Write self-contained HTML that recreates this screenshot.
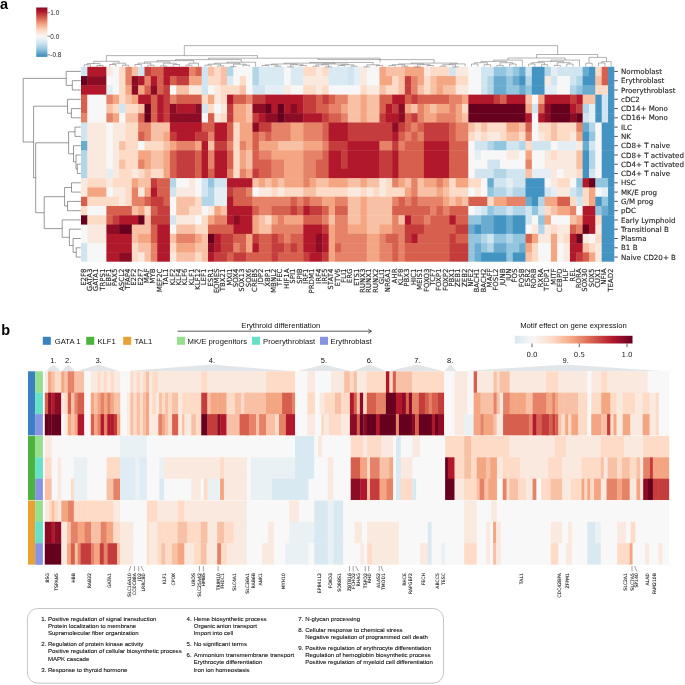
<!DOCTYPE html>
<html><head><meta charset="utf-8"><title>Figure</title>
<style>html,body{margin:0;padding:0;background:#fff}svg{display:block}</style></head>
<body>
<svg width="685" height="685" viewBox="0 0 685 685">
<rect width="685" height="685" fill="#fff"/>
<defs><linearGradient id="ga" x1="0" y1="0" x2="0" y2="1"><stop offset="0.000" stop-color="#810823"/><stop offset="0.042" stop-color="#9a1027"/><stop offset="0.083" stop-color="#b2182b"/><stop offset="0.125" stop-color="#be3036"/><stop offset="0.167" stop-color="#ca4741"/><stop offset="0.208" stop-color="#d55f4d"/><stop offset="0.250" stop-color="#df765e"/><stop offset="0.292" stop-color="#e98c6f"/><stop offset="0.333" stop-color="#f3a380"/><stop offset="0.375" stop-color="#f7b596"/><stop offset="0.417" stop-color="#fac7ad"/><stop offset="0.458" stop-color="#fdd8c3"/><stop offset="0.500" stop-color="#fbe3d4"/><stop offset="0.542" stop-color="#f9ece4"/><stop offset="0.583" stop-color="#f7f5f4"/><stop offset="0.625" stop-color="#edf2f5"/><stop offset="0.667" stop-color="#e1ecf3"/><stop offset="0.708" stop-color="#d4e7f1"/><stop offset="0.750" stop-color="#c2ddec"/><stop offset="0.792" stop-color="#add3e6"/><stop offset="0.833" stop-color="#99c8e0"/><stop offset="0.875" stop-color="#81bad8"/><stop offset="0.917" stop-color="#67aacf"/><stop offset="0.958" stop-color="#4d99c6"/><stop offset="1.000" stop-color="#3c8abe"/></linearGradient><linearGradient id="gb" x1="0" y1="0" x2="1" y2="0"><stop offset="0.000" stop-color="#d7e8f1"/><stop offset="0.042" stop-color="#e0ecf3"/><stop offset="0.083" stop-color="#e9f0f4"/><stop offset="0.125" stop-color="#f2f5f6"/><stop offset="0.167" stop-color="#f8f4f1"/><stop offset="0.208" stop-color="#f9ede5"/><stop offset="0.250" stop-color="#fbe6da"/><stop offset="0.292" stop-color="#fcdfce"/><stop offset="0.333" stop-color="#fcd6c0"/><stop offset="0.375" stop-color="#fac8af"/><stop offset="0.417" stop-color="#f8bb9e"/><stop offset="0.458" stop-color="#f6ae8e"/><stop offset="0.500" stop-color="#f2a07e"/><stop offset="0.542" stop-color="#ea8f71"/><stop offset="0.583" stop-color="#e37e64"/><stop offset="0.625" stop-color="#dc6d57"/><stop offset="0.667" stop-color="#d45c4b"/><stop offset="0.708" stop-color="#cb4b43"/><stop offset="0.750" stop-color="#c3393b"/><stop offset="0.792" stop-color="#ba2832"/><stop offset="0.833" stop-color="#b0172b"/><stop offset="0.875" stop-color="#9e1228"/><stop offset="0.917" stop-color="#8c0c25"/><stop offset="0.958" stop-color="#790622"/><stop offset="1.000" stop-color="#67001f"/></linearGradient></defs>
<text x="0.1" y="8.7" font-family="Liberation Sans, Arial, Helvetica, sans-serif" font-weight="bold" font-size="14.5" fill="#000">a</text>
<rect x="36.2" y="7.5" width="11.2" height="49.4" fill="url(#ga)"/>
<line x1="47.4" y1="12.7" x2="50" y2="12.7" stroke="#333" stroke-width="0.6"/>
<text x="50.3" y="15.0" font-family="Liberation Sans, Arial, Helvetica, sans-serif" font-size="6.4" fill="#222">1.0</text>
<line x1="47.4" y1="36.2" x2="50" y2="36.2" stroke="#333" stroke-width="0.6"/>
<text x="50.3" y="38.5" font-family="Liberation Sans, Arial, Helvetica, sans-serif" font-size="6.4" fill="#222">0.0</text>
<line x1="47.4" y1="54.8" x2="50" y2="54.8" stroke="#333" stroke-width="0.6"/>
<text x="50.3" y="57.099999999999994" font-family="Liberation Sans, Arial, Helvetica, sans-serif" font-size="6.4" fill="#222">-0.8</text>
<g shape-rendering="auto">
<rect x="81.00" y="66.80" width="6.75" height="9.68" fill="#d1e5f0"/>
<rect x="87.35" y="66.80" width="19.45" height="9.68" fill="#b2182b"/>
<rect x="106.40" y="66.80" width="6.75" height="9.68" fill="#fae9df"/>
<rect x="112.75" y="66.80" width="6.75" height="9.68" fill="#f7f7f7"/>
<rect x="119.10" y="66.80" width="6.75" height="9.68" fill="#fddbc7"/>
<rect x="125.45" y="66.80" width="6.75" height="9.68" fill="#e58268"/>
<rect x="131.80" y="66.80" width="6.75" height="9.68" fill="#f8c0a4"/>
<rect x="138.15" y="66.80" width="6.75" height="9.68" fill="#d1e5f0"/>
<rect x="144.50" y="66.80" width="6.75" height="9.68" fill="#c43c3c"/>
<rect x="150.85" y="66.80" width="13.10" height="9.68" fill="#d6604d"/>
<rect x="163.55" y="66.80" width="25.80" height="9.68" fill="#b2182b"/>
<rect x="188.95" y="66.80" width="6.75" height="9.68" fill="#e58268"/>
<rect x="195.30" y="66.80" width="6.75" height="9.68" fill="#d6604d"/>
<rect x="201.65" y="66.80" width="6.75" height="9.68" fill="#d1e5f0"/>
<rect x="208.00" y="66.80" width="6.75" height="9.68" fill="#f8c0a4"/>
<rect x="214.35" y="66.80" width="6.75" height="9.68" fill="#fddbc7"/>
<rect x="220.70" y="66.80" width="6.75" height="9.68" fill="#f8c0a4"/>
<rect x="227.05" y="66.80" width="6.75" height="9.68" fill="#b2d5e7"/>
<rect x="233.40" y="66.80" width="19.45" height="9.68" fill="#f7f7f7"/>
<rect x="252.45" y="66.80" width="6.75" height="9.68" fill="#b2d5e7"/>
<rect x="258.80" y="66.80" width="25.80" height="9.68" fill="#daeaf2"/>
<rect x="284.20" y="66.80" width="6.75" height="9.68" fill="#f7f7f7"/>
<rect x="290.55" y="66.80" width="13.10" height="9.68" fill="#daeaf2"/>
<rect x="303.25" y="66.80" width="13.10" height="9.68" fill="#fddbc7"/>
<rect x="315.95" y="66.80" width="6.75" height="9.68" fill="#fae9df"/>
<rect x="322.30" y="66.80" width="6.75" height="9.68" fill="#fddbc7"/>
<rect x="328.65" y="66.80" width="19.45" height="9.68" fill="#daeaf2"/>
<rect x="347.70" y="66.80" width="6.75" height="9.68" fill="#d1e5f0"/>
<rect x="354.05" y="66.80" width="6.75" height="9.68" fill="#e4eef4"/>
<rect x="360.40" y="66.80" width="6.75" height="9.68" fill="#fae9df"/>
<rect x="366.75" y="66.80" width="13.10" height="9.68" fill="#f7f7f7"/>
<rect x="379.45" y="66.80" width="6.75" height="9.68" fill="#f4a582"/>
<rect x="385.80" y="66.80" width="19.45" height="9.68" fill="#f8c0a4"/>
<rect x="404.85" y="66.80" width="19.45" height="9.68" fill="#f4a582"/>
<rect x="423.90" y="66.80" width="6.75" height="9.68" fill="#fae9df"/>
<rect x="430.25" y="66.80" width="19.45" height="9.68" fill="#fddbc7"/>
<rect x="449.30" y="66.80" width="6.75" height="9.68" fill="#d1e5f0"/>
<rect x="455.65" y="66.80" width="13.10" height="9.68" fill="#fae9df"/>
<rect x="468.35" y="66.80" width="13.10" height="9.68" fill="#f7f7f7"/>
<rect x="481.05" y="66.80" width="13.10" height="9.68" fill="#d1e5f0"/>
<rect x="493.75" y="66.80" width="13.10" height="9.68" fill="#92c5de"/>
<rect x="506.45" y="66.80" width="6.75" height="9.68" fill="#b2d5e7"/>
<rect x="512.80" y="66.80" width="6.75" height="9.68" fill="#92c5de"/>
<rect x="519.15" y="66.80" width="6.75" height="9.68" fill="#6aacd0"/>
<rect x="525.50" y="66.80" width="6.75" height="9.68" fill="#d1e5f0"/>
<rect x="531.85" y="66.80" width="13.10" height="9.68" fill="#4393c3"/>
<rect x="544.55" y="66.80" width="6.75" height="9.68" fill="#b2d5e7"/>
<rect x="550.90" y="66.80" width="6.75" height="9.68" fill="#e4eef4"/>
<rect x="557.25" y="66.80" width="25.80" height="9.68" fill="#d1e5f0"/>
<rect x="582.65" y="66.80" width="6.75" height="9.68" fill="#6aacd0"/>
<rect x="589.00" y="66.80" width="6.75" height="9.68" fill="#4393c3"/>
<rect x="595.35" y="66.80" width="6.75" height="9.68" fill="#fddbc7"/>
<rect x="601.70" y="66.80" width="6.75" height="9.68" fill="#d6604d"/>
<rect x="608.05" y="66.80" width="6.75" height="9.68" fill="#4393c3"/>
<rect x="81.00" y="76.08" width="6.75" height="9.68" fill="#67001f"/>
<rect x="87.35" y="76.08" width="19.45" height="9.68" fill="#8c0c25"/>
<rect x="106.40" y="76.08" width="13.10" height="9.68" fill="#f7f7f7"/>
<rect x="119.10" y="76.08" width="6.75" height="9.68" fill="#fddbc7"/>
<rect x="125.45" y="76.08" width="6.75" height="9.68" fill="#e58268"/>
<rect x="131.80" y="76.08" width="6.75" height="9.68" fill="#8c0c25"/>
<rect x="138.15" y="76.08" width="6.75" height="9.68" fill="#b2182b"/>
<rect x="144.50" y="76.08" width="6.75" height="9.68" fill="#e58268"/>
<rect x="150.85" y="76.08" width="6.75" height="9.68" fill="#b2182b"/>
<rect x="157.20" y="76.08" width="6.75" height="9.68" fill="#d6604d"/>
<rect x="163.55" y="76.08" width="6.75" height="9.68" fill="#b2182b"/>
<rect x="169.90" y="76.08" width="6.75" height="9.68" fill="#d6604d"/>
<rect x="176.25" y="76.08" width="13.10" height="9.68" fill="#c43c3c"/>
<rect x="188.95" y="76.08" width="13.10" height="9.68" fill="#f4a582"/>
<rect x="201.65" y="76.08" width="6.75" height="9.68" fill="#d1e5f0"/>
<rect x="208.00" y="76.08" width="13.10" height="9.68" fill="#fddbc7"/>
<rect x="220.70" y="76.08" width="6.75" height="9.68" fill="#f8c0a4"/>
<rect x="227.05" y="76.08" width="6.75" height="9.68" fill="#daeaf2"/>
<rect x="233.40" y="76.08" width="6.75" height="9.68" fill="#f7f7f7"/>
<rect x="239.75" y="76.08" width="6.75" height="9.68" fill="#fddbc7"/>
<rect x="246.10" y="76.08" width="6.75" height="9.68" fill="#f7f7f7"/>
<rect x="252.45" y="76.08" width="6.75" height="9.68" fill="#b2d5e7"/>
<rect x="258.80" y="76.08" width="25.80" height="9.68" fill="#daeaf2"/>
<rect x="284.20" y="76.08" width="6.75" height="9.68" fill="#f7f7f7"/>
<rect x="290.55" y="76.08" width="13.10" height="9.68" fill="#daeaf2"/>
<rect x="303.25" y="76.08" width="25.80" height="9.68" fill="#fae9df"/>
<rect x="328.65" y="76.08" width="19.45" height="9.68" fill="#daeaf2"/>
<rect x="347.70" y="76.08" width="6.75" height="9.68" fill="#d1e5f0"/>
<rect x="354.05" y="76.08" width="6.75" height="9.68" fill="#e4eef4"/>
<rect x="360.40" y="76.08" width="6.75" height="9.68" fill="#fae9df"/>
<rect x="366.75" y="76.08" width="13.10" height="9.68" fill="#f7f7f7"/>
<rect x="379.45" y="76.08" width="13.10" height="9.68" fill="#f4a582"/>
<rect x="392.15" y="76.08" width="6.75" height="9.68" fill="#fddbc7"/>
<rect x="398.50" y="76.08" width="6.75" height="9.68" fill="#f8c0a4"/>
<rect x="404.85" y="76.08" width="6.75" height="9.68" fill="#c43c3c"/>
<rect x="411.20" y="76.08" width="6.75" height="9.68" fill="#e58268"/>
<rect x="417.55" y="76.08" width="6.75" height="9.68" fill="#f4a582"/>
<rect x="423.90" y="76.08" width="6.75" height="9.68" fill="#fddbc7"/>
<rect x="430.25" y="76.08" width="6.75" height="9.68" fill="#f8c0a4"/>
<rect x="436.60" y="76.08" width="19.45" height="9.68" fill="#f4a582"/>
<rect x="455.65" y="76.08" width="13.10" height="9.68" fill="#fddbc7"/>
<rect x="468.35" y="76.08" width="13.10" height="9.68" fill="#f7f7f7"/>
<rect x="481.05" y="76.08" width="6.75" height="9.68" fill="#d1e5f0"/>
<rect x="487.40" y="76.08" width="6.75" height="9.68" fill="#b2d5e7"/>
<rect x="493.75" y="76.08" width="13.10" height="9.68" fill="#6aacd0"/>
<rect x="506.45" y="76.08" width="6.75" height="9.68" fill="#92c5de"/>
<rect x="512.80" y="76.08" width="6.75" height="9.68" fill="#6aacd0"/>
<rect x="519.15" y="76.08" width="6.75" height="9.68" fill="#4393c3"/>
<rect x="525.50" y="76.08" width="6.75" height="9.68" fill="#b2d5e7"/>
<rect x="531.85" y="76.08" width="13.10" height="9.68" fill="#4393c3"/>
<rect x="544.55" y="76.08" width="6.75" height="9.68" fill="#fae9df"/>
<rect x="550.90" y="76.08" width="6.75" height="9.68" fill="#d1e5f0"/>
<rect x="557.25" y="76.08" width="13.10" height="9.68" fill="#f7f7f7"/>
<rect x="569.95" y="76.08" width="6.75" height="9.68" fill="#d1e5f0"/>
<rect x="576.30" y="76.08" width="6.75" height="9.68" fill="#b2d5e7"/>
<rect x="582.65" y="76.08" width="13.10" height="9.68" fill="#4393c3"/>
<rect x="595.35" y="76.08" width="6.75" height="9.68" fill="#f8c0a4"/>
<rect x="601.70" y="76.08" width="6.75" height="9.68" fill="#d6604d"/>
<rect x="608.05" y="76.08" width="6.75" height="9.68" fill="#4393c3"/>
<rect x="81.00" y="85.36" width="25.80" height="9.68" fill="#b2182b"/>
<rect x="106.40" y="85.36" width="6.75" height="9.68" fill="#e4eef4"/>
<rect x="112.75" y="85.36" width="6.75" height="9.68" fill="#f7f7f7"/>
<rect x="119.10" y="85.36" width="6.75" height="9.68" fill="#fddbc7"/>
<rect x="125.45" y="85.36" width="6.75" height="9.68" fill="#f4a582"/>
<rect x="131.80" y="85.36" width="6.75" height="9.68" fill="#8c0c25"/>
<rect x="138.15" y="85.36" width="6.75" height="9.68" fill="#f4a582"/>
<rect x="144.50" y="85.36" width="6.75" height="9.68" fill="#d6604d"/>
<rect x="150.85" y="85.36" width="6.75" height="9.68" fill="#8c0c25"/>
<rect x="157.20" y="85.36" width="6.75" height="9.68" fill="#d6604d"/>
<rect x="163.55" y="85.36" width="6.75" height="9.68" fill="#c43c3c"/>
<rect x="169.90" y="85.36" width="6.75" height="9.68" fill="#f7f7f7"/>
<rect x="176.25" y="85.36" width="13.10" height="9.68" fill="#f8c0a4"/>
<rect x="188.95" y="85.36" width="13.10" height="9.68" fill="#fae9df"/>
<rect x="201.65" y="85.36" width="6.75" height="9.68" fill="#d1e5f0"/>
<rect x="208.00" y="85.36" width="6.75" height="9.68" fill="#f7f7f7"/>
<rect x="214.35" y="85.36" width="6.75" height="9.68" fill="#fae9df"/>
<rect x="220.70" y="85.36" width="19.45" height="9.68" fill="#fddbc7"/>
<rect x="239.75" y="85.36" width="6.75" height="9.68" fill="#f8c0a4"/>
<rect x="246.10" y="85.36" width="6.75" height="9.68" fill="#f7f7f7"/>
<rect x="252.45" y="85.36" width="13.10" height="9.68" fill="#d1e5f0"/>
<rect x="265.15" y="85.36" width="19.45" height="9.68" fill="#e4eef4"/>
<rect x="284.20" y="85.36" width="6.75" height="9.68" fill="#fae9df"/>
<rect x="290.55" y="85.36" width="13.10" height="9.68" fill="#f7f7f7"/>
<rect x="303.25" y="85.36" width="13.10" height="9.68" fill="#fddbc7"/>
<rect x="315.95" y="85.36" width="6.75" height="9.68" fill="#fae9df"/>
<rect x="322.30" y="85.36" width="6.75" height="9.68" fill="#fddbc7"/>
<rect x="328.65" y="85.36" width="32.15" height="9.68" fill="#f7f7f7"/>
<rect x="360.40" y="85.36" width="6.75" height="9.68" fill="#fddbc7"/>
<rect x="366.75" y="85.36" width="13.10" height="9.68" fill="#fae9df"/>
<rect x="379.45" y="85.36" width="6.75" height="9.68" fill="#f8c0a4"/>
<rect x="385.80" y="85.36" width="13.10" height="9.68" fill="#fddbc7"/>
<rect x="398.50" y="85.36" width="6.75" height="9.68" fill="#f8c0a4"/>
<rect x="404.85" y="85.36" width="6.75" height="9.68" fill="#c43c3c"/>
<rect x="411.20" y="85.36" width="6.75" height="9.68" fill="#e58268"/>
<rect x="417.55" y="85.36" width="6.75" height="9.68" fill="#f8c0a4"/>
<rect x="423.90" y="85.36" width="6.75" height="9.68" fill="#fddbc7"/>
<rect x="430.25" y="85.36" width="6.75" height="9.68" fill="#f8c0a4"/>
<rect x="436.60" y="85.36" width="6.75" height="9.68" fill="#f4a582"/>
<rect x="442.95" y="85.36" width="13.10" height="9.68" fill="#f8c0a4"/>
<rect x="455.65" y="85.36" width="13.10" height="9.68" fill="#fae9df"/>
<rect x="468.35" y="85.36" width="13.10" height="9.68" fill="#f7f7f7"/>
<rect x="481.05" y="85.36" width="6.75" height="9.68" fill="#d1e5f0"/>
<rect x="487.40" y="85.36" width="6.75" height="9.68" fill="#b2d5e7"/>
<rect x="493.75" y="85.36" width="13.10" height="9.68" fill="#6aacd0"/>
<rect x="506.45" y="85.36" width="13.10" height="9.68" fill="#92c5de"/>
<rect x="519.15" y="85.36" width="6.75" height="9.68" fill="#6aacd0"/>
<rect x="525.50" y="85.36" width="6.75" height="9.68" fill="#92c5de"/>
<rect x="531.85" y="85.36" width="13.10" height="9.68" fill="#4393c3"/>
<rect x="544.55" y="85.36" width="13.10" height="9.68" fill="#e4eef4"/>
<rect x="557.25" y="85.36" width="13.10" height="9.68" fill="#f7f7f7"/>
<rect x="569.95" y="85.36" width="6.75" height="9.68" fill="#b2d5e7"/>
<rect x="576.30" y="85.36" width="6.75" height="9.68" fill="#92c5de"/>
<rect x="582.65" y="85.36" width="13.10" height="9.68" fill="#6aacd0"/>
<rect x="595.35" y="85.36" width="13.10" height="9.68" fill="#fddbc7"/>
<rect x="608.05" y="85.36" width="6.75" height="9.68" fill="#4393c3"/>
<rect x="81.00" y="94.64" width="6.75" height="9.68" fill="#d6604d"/>
<rect x="87.35" y="94.64" width="19.45" height="9.68" fill="#f7f7f7"/>
<rect x="106.40" y="94.64" width="6.75" height="9.68" fill="#e58268"/>
<rect x="112.75" y="94.64" width="6.75" height="9.68" fill="#f4a582"/>
<rect x="119.10" y="94.64" width="6.75" height="9.68" fill="#fddbc7"/>
<rect x="125.45" y="94.64" width="6.75" height="9.68" fill="#f8c0a4"/>
<rect x="131.80" y="94.64" width="6.75" height="9.68" fill="#f4a582"/>
<rect x="138.15" y="94.64" width="13.10" height="9.68" fill="#b2182b"/>
<rect x="150.85" y="94.64" width="6.75" height="9.68" fill="#d6604d"/>
<rect x="157.20" y="94.64" width="6.75" height="9.68" fill="#b2182b"/>
<rect x="163.55" y="94.64" width="6.75" height="9.68" fill="#c43c3c"/>
<rect x="169.90" y="94.64" width="6.75" height="9.68" fill="#e58268"/>
<rect x="176.25" y="94.64" width="25.80" height="9.68" fill="#d6604d"/>
<rect x="201.65" y="94.64" width="6.75" height="9.68" fill="#fddbc7"/>
<rect x="208.00" y="94.64" width="6.75" height="9.68" fill="#f4a582"/>
<rect x="214.35" y="94.64" width="6.75" height="9.68" fill="#fae9df"/>
<rect x="220.70" y="94.64" width="6.75" height="9.68" fill="#fddbc7"/>
<rect x="227.05" y="94.64" width="6.75" height="9.68" fill="#b2182b"/>
<rect x="233.40" y="94.64" width="13.10" height="9.68" fill="#d6604d"/>
<rect x="246.10" y="94.64" width="6.75" height="9.68" fill="#e58268"/>
<rect x="252.45" y="94.64" width="13.10" height="9.68" fill="#c43c3c"/>
<rect x="265.15" y="94.64" width="38.50" height="9.68" fill="#b2182b"/>
<rect x="303.25" y="94.64" width="13.10" height="9.68" fill="#c43c3c"/>
<rect x="315.95" y="94.64" width="6.75" height="9.68" fill="#d6604d"/>
<rect x="322.30" y="94.64" width="6.75" height="9.68" fill="#c43c3c"/>
<rect x="328.65" y="94.64" width="6.75" height="9.68" fill="#d6604d"/>
<rect x="335.00" y="94.64" width="13.10" height="9.68" fill="#e58268"/>
<rect x="347.70" y="94.64" width="13.10" height="9.68" fill="#f8c0a4"/>
<rect x="360.40" y="94.64" width="6.75" height="9.68" fill="#f4a582"/>
<rect x="366.75" y="94.64" width="13.10" height="9.68" fill="#f8c0a4"/>
<rect x="379.45" y="94.64" width="13.10" height="9.68" fill="#d6604d"/>
<rect x="392.15" y="94.64" width="13.10" height="9.68" fill="#b2182b"/>
<rect x="404.85" y="94.64" width="6.75" height="9.68" fill="#d6604d"/>
<rect x="411.20" y="94.64" width="6.75" height="9.68" fill="#c43c3c"/>
<rect x="417.55" y="94.64" width="32.15" height="9.68" fill="#d6604d"/>
<rect x="449.30" y="94.64" width="13.10" height="9.68" fill="#e58268"/>
<rect x="462.00" y="94.64" width="6.75" height="9.68" fill="#f4a582"/>
<rect x="468.35" y="94.64" width="25.80" height="9.68" fill="#b2182b"/>
<rect x="493.75" y="94.64" width="6.75" height="9.68" fill="#c43c3c"/>
<rect x="500.10" y="94.64" width="6.75" height="9.68" fill="#d6604d"/>
<rect x="506.45" y="94.64" width="19.45" height="9.68" fill="#b2182b"/>
<rect x="525.50" y="94.64" width="6.75" height="9.68" fill="#f8c0a4"/>
<rect x="531.85" y="94.64" width="6.75" height="9.68" fill="#f7f7f7"/>
<rect x="538.20" y="94.64" width="6.75" height="9.68" fill="#f4a582"/>
<rect x="544.55" y="94.64" width="25.80" height="9.68" fill="#b2182b"/>
<rect x="569.95" y="94.64" width="6.75" height="9.68" fill="#c43c3c"/>
<rect x="576.30" y="94.64" width="6.75" height="9.68" fill="#b2182b"/>
<rect x="582.65" y="94.64" width="13.10" height="9.68" fill="#f8c0a4"/>
<rect x="595.35" y="94.64" width="6.75" height="9.68" fill="#4393c3"/>
<rect x="601.70" y="94.64" width="6.75" height="9.68" fill="#d1e5f0"/>
<rect x="608.05" y="94.64" width="6.75" height="9.68" fill="#4393c3"/>
<rect x="81.00" y="103.92" width="6.75" height="9.68" fill="#d6604d"/>
<rect x="87.35" y="103.92" width="19.45" height="9.68" fill="#f7f7f7"/>
<rect x="106.40" y="103.92" width="6.75" height="9.68" fill="#f8c0a4"/>
<rect x="112.75" y="103.92" width="6.75" height="9.68" fill="#fddbc7"/>
<rect x="119.10" y="103.92" width="6.75" height="9.68" fill="#d1e5f0"/>
<rect x="125.45" y="103.92" width="13.10" height="9.68" fill="#fddbc7"/>
<rect x="138.15" y="103.92" width="6.75" height="9.68" fill="#f8c0a4"/>
<rect x="144.50" y="103.92" width="6.75" height="9.68" fill="#67001f"/>
<rect x="150.85" y="103.92" width="6.75" height="9.68" fill="#d6604d"/>
<rect x="157.20" y="103.92" width="6.75" height="9.68" fill="#b2182b"/>
<rect x="163.55" y="103.92" width="6.75" height="9.68" fill="#c43c3c"/>
<rect x="169.90" y="103.92" width="6.75" height="9.68" fill="#8c0c25"/>
<rect x="176.25" y="103.92" width="19.45" height="9.68" fill="#b2182b"/>
<rect x="195.30" y="103.92" width="6.75" height="9.68" fill="#8c0c25"/>
<rect x="201.65" y="103.92" width="6.75" height="9.68" fill="#d1e5f0"/>
<rect x="208.00" y="103.92" width="6.75" height="9.68" fill="#fddbc7"/>
<rect x="214.35" y="103.92" width="6.75" height="9.68" fill="#f7f7f7"/>
<rect x="220.70" y="103.92" width="6.75" height="9.68" fill="#fae9df"/>
<rect x="227.05" y="103.92" width="6.75" height="9.68" fill="#c43c3c"/>
<rect x="233.40" y="103.92" width="13.10" height="9.68" fill="#f4a582"/>
<rect x="246.10" y="103.92" width="6.75" height="9.68" fill="#f8c0a4"/>
<rect x="252.45" y="103.92" width="13.10" height="9.68" fill="#8c0c25"/>
<rect x="265.15" y="103.92" width="6.75" height="9.68" fill="#67001f"/>
<rect x="271.50" y="103.92" width="6.75" height="9.68" fill="#b2182b"/>
<rect x="277.85" y="103.92" width="6.75" height="9.68" fill="#67001f"/>
<rect x="284.20" y="103.92" width="6.75" height="9.68" fill="#b2182b"/>
<rect x="290.55" y="103.92" width="6.75" height="9.68" fill="#8c0c25"/>
<rect x="296.90" y="103.92" width="6.75" height="9.68" fill="#b2182b"/>
<rect x="303.25" y="103.92" width="13.10" height="9.68" fill="#c43c3c"/>
<rect x="315.95" y="103.92" width="13.10" height="9.68" fill="#d6604d"/>
<rect x="328.65" y="103.92" width="13.10" height="9.68" fill="#e58268"/>
<rect x="341.35" y="103.92" width="6.75" height="9.68" fill="#f4a582"/>
<rect x="347.70" y="103.92" width="13.10" height="9.68" fill="#f8c0a4"/>
<rect x="360.40" y="103.92" width="6.75" height="9.68" fill="#f4a582"/>
<rect x="366.75" y="103.92" width="13.10" height="9.68" fill="#f8c0a4"/>
<rect x="379.45" y="103.92" width="6.75" height="9.68" fill="#d6604d"/>
<rect x="385.80" y="103.92" width="6.75" height="9.68" fill="#b2182b"/>
<rect x="392.15" y="103.92" width="6.75" height="9.68" fill="#c43c3c"/>
<rect x="398.50" y="103.92" width="6.75" height="9.68" fill="#8c0c25"/>
<rect x="404.85" y="103.92" width="6.75" height="9.68" fill="#f4a582"/>
<rect x="411.20" y="103.92" width="6.75" height="9.68" fill="#f8c0a4"/>
<rect x="417.55" y="103.92" width="6.75" height="9.68" fill="#e58268"/>
<rect x="423.90" y="103.92" width="6.75" height="9.68" fill="#f4a582"/>
<rect x="430.25" y="103.92" width="6.75" height="9.68" fill="#f8c0a4"/>
<rect x="436.60" y="103.92" width="13.10" height="9.68" fill="#f4a582"/>
<rect x="449.30" y="103.92" width="6.75" height="9.68" fill="#e58268"/>
<rect x="455.65" y="103.92" width="6.75" height="9.68" fill="#f4a582"/>
<rect x="462.00" y="103.92" width="6.75" height="9.68" fill="#fddbc7"/>
<rect x="468.35" y="103.92" width="57.55" height="9.68" fill="#67001f"/>
<rect x="525.50" y="103.92" width="6.75" height="9.68" fill="#f4a582"/>
<rect x="531.85" y="103.92" width="6.75" height="9.68" fill="#d1e5f0"/>
<rect x="538.20" y="103.92" width="6.75" height="9.68" fill="#d6604d"/>
<rect x="544.55" y="103.92" width="6.75" height="9.68" fill="#8c0c25"/>
<rect x="550.90" y="103.92" width="19.45" height="9.68" fill="#67001f"/>
<rect x="569.95" y="103.92" width="6.75" height="9.68" fill="#b2182b"/>
<rect x="576.30" y="103.92" width="6.75" height="9.68" fill="#c43c3c"/>
<rect x="582.65" y="103.92" width="6.75" height="9.68" fill="#b2d5e7"/>
<rect x="589.00" y="103.92" width="6.75" height="9.68" fill="#e4eef4"/>
<rect x="595.35" y="103.92" width="6.75" height="9.68" fill="#4393c3"/>
<rect x="601.70" y="103.92" width="6.75" height="9.68" fill="#d1e5f0"/>
<rect x="608.05" y="103.92" width="6.75" height="9.68" fill="#4393c3"/>
<rect x="81.00" y="113.20" width="6.75" height="9.68" fill="#e58268"/>
<rect x="87.35" y="113.20" width="19.45" height="9.68" fill="#f7f7f7"/>
<rect x="106.40" y="113.20" width="6.75" height="9.68" fill="#e58268"/>
<rect x="112.75" y="113.20" width="6.75" height="9.68" fill="#f4a582"/>
<rect x="119.10" y="113.20" width="6.75" height="9.68" fill="#f7f7f7"/>
<rect x="125.45" y="113.20" width="13.10" height="9.68" fill="#f8c0a4"/>
<rect x="138.15" y="113.20" width="6.75" height="9.68" fill="#d6604d"/>
<rect x="144.50" y="113.20" width="6.75" height="9.68" fill="#67001f"/>
<rect x="150.85" y="113.20" width="6.75" height="9.68" fill="#d6604d"/>
<rect x="157.20" y="113.20" width="6.75" height="9.68" fill="#b2182b"/>
<rect x="163.55" y="113.20" width="6.75" height="9.68" fill="#c43c3c"/>
<rect x="169.90" y="113.20" width="32.15" height="9.68" fill="#8c0c25"/>
<rect x="201.65" y="113.20" width="6.75" height="9.68" fill="#f7f7f7"/>
<rect x="208.00" y="113.20" width="6.75" height="9.68" fill="#d6604d"/>
<rect x="214.35" y="113.20" width="6.75" height="9.68" fill="#fae9df"/>
<rect x="220.70" y="113.20" width="6.75" height="9.68" fill="#fddbc7"/>
<rect x="227.05" y="113.20" width="6.75" height="9.68" fill="#c43c3c"/>
<rect x="233.40" y="113.20" width="13.10" height="9.68" fill="#f4a582"/>
<rect x="246.10" y="113.20" width="6.75" height="9.68" fill="#f8c0a4"/>
<rect x="252.45" y="113.20" width="6.75" height="9.68" fill="#c43c3c"/>
<rect x="258.80" y="113.20" width="6.75" height="9.68" fill="#b2182b"/>
<rect x="265.15" y="113.20" width="13.10" height="9.68" fill="#8c0c25"/>
<rect x="277.85" y="113.20" width="6.75" height="9.68" fill="#67001f"/>
<rect x="284.20" y="113.20" width="19.45" height="9.68" fill="#8c0c25"/>
<rect x="303.25" y="113.20" width="19.45" height="9.68" fill="#b2182b"/>
<rect x="322.30" y="113.20" width="6.75" height="9.68" fill="#c43c3c"/>
<rect x="328.65" y="113.20" width="13.10" height="9.68" fill="#d6604d"/>
<rect x="341.35" y="113.20" width="6.75" height="9.68" fill="#e58268"/>
<rect x="347.70" y="113.20" width="13.10" height="9.68" fill="#f8c0a4"/>
<rect x="360.40" y="113.20" width="6.75" height="9.68" fill="#f4a582"/>
<rect x="366.75" y="113.20" width="13.10" height="9.68" fill="#f8c0a4"/>
<rect x="379.45" y="113.20" width="6.75" height="9.68" fill="#c43c3c"/>
<rect x="385.80" y="113.20" width="13.10" height="9.68" fill="#b2182b"/>
<rect x="398.50" y="113.20" width="6.75" height="9.68" fill="#8c0c25"/>
<rect x="404.85" y="113.20" width="6.75" height="9.68" fill="#d6604d"/>
<rect x="411.20" y="113.20" width="6.75" height="9.68" fill="#c43c3c"/>
<rect x="417.55" y="113.20" width="6.75" height="9.68" fill="#e58268"/>
<rect x="423.90" y="113.20" width="13.10" height="9.68" fill="#f4a582"/>
<rect x="436.60" y="113.20" width="19.45" height="9.68" fill="#e58268"/>
<rect x="455.65" y="113.20" width="6.75" height="9.68" fill="#f4a582"/>
<rect x="462.00" y="113.20" width="6.75" height="9.68" fill="#f8c0a4"/>
<rect x="468.35" y="113.20" width="57.55" height="9.68" fill="#67001f"/>
<rect x="525.50" y="113.20" width="6.75" height="9.68" fill="#b2182b"/>
<rect x="531.85" y="113.20" width="6.75" height="9.68" fill="#f7f7f7"/>
<rect x="538.20" y="113.20" width="6.75" height="9.68" fill="#b2182b"/>
<rect x="544.55" y="113.20" width="6.75" height="9.68" fill="#8c0c25"/>
<rect x="550.90" y="113.20" width="19.45" height="9.68" fill="#67001f"/>
<rect x="569.95" y="113.20" width="6.75" height="9.68" fill="#8c0c25"/>
<rect x="576.30" y="113.20" width="6.75" height="9.68" fill="#67001f"/>
<rect x="582.65" y="113.20" width="6.75" height="9.68" fill="#d1e5f0"/>
<rect x="589.00" y="113.20" width="6.75" height="9.68" fill="#e4eef4"/>
<rect x="595.35" y="113.20" width="6.75" height="9.68" fill="#4393c3"/>
<rect x="601.70" y="113.20" width="6.75" height="9.68" fill="#d1e5f0"/>
<rect x="608.05" y="113.20" width="6.75" height="9.68" fill="#4393c3"/>
<rect x="81.00" y="122.49" width="6.75" height="9.68" fill="#d1e5f0"/>
<rect x="87.35" y="122.49" width="19.45" height="9.68" fill="#fae9df"/>
<rect x="106.40" y="122.49" width="6.75" height="9.68" fill="#f7f7f7"/>
<rect x="112.75" y="122.49" width="13.10" height="9.68" fill="#fae9df"/>
<rect x="125.45" y="122.49" width="13.10" height="9.68" fill="#fddbc7"/>
<rect x="138.15" y="122.49" width="13.10" height="9.68" fill="#e58268"/>
<rect x="150.85" y="122.49" width="19.45" height="9.68" fill="#f8c0a4"/>
<rect x="169.90" y="122.49" width="32.15" height="9.68" fill="#b2182b"/>
<rect x="201.65" y="122.49" width="13.10" height="9.68" fill="#d6604d"/>
<rect x="214.35" y="122.49" width="13.10" height="9.68" fill="#b2182b"/>
<rect x="227.05" y="122.49" width="6.75" height="9.68" fill="#d6604d"/>
<rect x="233.40" y="122.49" width="6.75" height="9.68" fill="#fddbc7"/>
<rect x="239.75" y="122.49" width="13.10" height="9.68" fill="#f4a582"/>
<rect x="252.45" y="122.49" width="6.75" height="9.68" fill="#8c0c25"/>
<rect x="258.80" y="122.49" width="13.10" height="9.68" fill="#c43c3c"/>
<rect x="271.50" y="122.49" width="19.45" height="9.68" fill="#e58268"/>
<rect x="290.55" y="122.49" width="13.10" height="9.68" fill="#f4a582"/>
<rect x="303.25" y="122.49" width="19.45" height="9.68" fill="#e58268"/>
<rect x="322.30" y="122.49" width="6.75" height="9.68" fill="#d6604d"/>
<rect x="328.65" y="122.49" width="19.45" height="9.68" fill="#b2182b"/>
<rect x="347.70" y="122.49" width="44.85" height="9.68" fill="#c43c3c"/>
<rect x="392.15" y="122.49" width="6.75" height="9.68" fill="#8c0c25"/>
<rect x="398.50" y="122.49" width="6.75" height="9.68" fill="#c43c3c"/>
<rect x="404.85" y="122.49" width="6.75" height="9.68" fill="#d6604d"/>
<rect x="411.20" y="122.49" width="6.75" height="9.68" fill="#e58268"/>
<rect x="417.55" y="122.49" width="6.75" height="9.68" fill="#d6604d"/>
<rect x="423.90" y="122.49" width="25.80" height="9.68" fill="#c43c3c"/>
<rect x="449.30" y="122.49" width="6.75" height="9.68" fill="#d6604d"/>
<rect x="455.65" y="122.49" width="13.10" height="9.68" fill="#e58268"/>
<rect x="468.35" y="122.49" width="6.75" height="9.68" fill="#f8c0a4"/>
<rect x="474.70" y="122.49" width="6.75" height="9.68" fill="#fddbc7"/>
<rect x="481.05" y="122.49" width="6.75" height="9.68" fill="#f8c0a4"/>
<rect x="487.40" y="122.49" width="19.45" height="9.68" fill="#fddbc7"/>
<rect x="506.45" y="122.49" width="13.10" height="9.68" fill="#f4a582"/>
<rect x="519.15" y="122.49" width="6.75" height="9.68" fill="#f8c0a4"/>
<rect x="525.50" y="122.49" width="6.75" height="9.68" fill="#d6604d"/>
<rect x="531.85" y="122.49" width="6.75" height="9.68" fill="#f7f7f7"/>
<rect x="538.20" y="122.49" width="13.10" height="9.68" fill="#fddbc7"/>
<rect x="550.90" y="122.49" width="6.75" height="9.68" fill="#f8c0a4"/>
<rect x="557.25" y="122.49" width="19.45" height="9.68" fill="#fddbc7"/>
<rect x="576.30" y="122.49" width="6.75" height="9.68" fill="#e58268"/>
<rect x="582.65" y="122.49" width="6.75" height="9.68" fill="#6aacd0"/>
<rect x="589.00" y="122.49" width="6.75" height="9.68" fill="#b2d5e7"/>
<rect x="595.35" y="122.49" width="6.75" height="9.68" fill="#f7f7f7"/>
<rect x="601.70" y="122.49" width="13.10" height="9.68" fill="#4393c3"/>
<rect x="81.00" y="131.77" width="6.75" height="9.68" fill="#d1e5f0"/>
<rect x="87.35" y="131.77" width="19.45" height="9.68" fill="#fae9df"/>
<rect x="106.40" y="131.77" width="6.75" height="9.68" fill="#f7f7f7"/>
<rect x="112.75" y="131.77" width="13.10" height="9.68" fill="#fae9df"/>
<rect x="125.45" y="131.77" width="13.10" height="9.68" fill="#fddbc7"/>
<rect x="138.15" y="131.77" width="6.75" height="9.68" fill="#d6604d"/>
<rect x="144.50" y="131.77" width="6.75" height="9.68" fill="#e58268"/>
<rect x="150.85" y="131.77" width="13.10" height="9.68" fill="#f8c0a4"/>
<rect x="163.55" y="131.77" width="6.75" height="9.68" fill="#f4a582"/>
<rect x="169.90" y="131.77" width="6.75" height="9.68" fill="#c43c3c"/>
<rect x="176.25" y="131.77" width="19.45" height="9.68" fill="#b2182b"/>
<rect x="195.30" y="131.77" width="13.10" height="9.68" fill="#c43c3c"/>
<rect x="208.00" y="131.77" width="6.75" height="9.68" fill="#e58268"/>
<rect x="214.35" y="131.77" width="13.10" height="9.68" fill="#b2182b"/>
<rect x="227.05" y="131.77" width="6.75" height="9.68" fill="#d6604d"/>
<rect x="233.40" y="131.77" width="6.75" height="9.68" fill="#fddbc7"/>
<rect x="239.75" y="131.77" width="13.10" height="9.68" fill="#f4a582"/>
<rect x="252.45" y="131.77" width="6.75" height="9.68" fill="#d6604d"/>
<rect x="258.80" y="131.77" width="6.75" height="9.68" fill="#e58268"/>
<rect x="265.15" y="131.77" width="6.75" height="9.68" fill="#d6604d"/>
<rect x="271.50" y="131.77" width="19.45" height="9.68" fill="#e58268"/>
<rect x="290.55" y="131.77" width="13.10" height="9.68" fill="#f4a582"/>
<rect x="303.25" y="131.77" width="19.45" height="9.68" fill="#e58268"/>
<rect x="322.30" y="131.77" width="6.75" height="9.68" fill="#d6604d"/>
<rect x="328.65" y="131.77" width="19.45" height="9.68" fill="#b2182b"/>
<rect x="347.70" y="131.77" width="44.85" height="9.68" fill="#c43c3c"/>
<rect x="392.15" y="131.77" width="6.75" height="9.68" fill="#b2182b"/>
<rect x="398.50" y="131.77" width="6.75" height="9.68" fill="#d6604d"/>
<rect x="404.85" y="131.77" width="6.75" height="9.68" fill="#e58268"/>
<rect x="411.20" y="131.77" width="6.75" height="9.68" fill="#d6604d"/>
<rect x="417.55" y="131.77" width="6.75" height="9.68" fill="#e58268"/>
<rect x="423.90" y="131.77" width="25.80" height="9.68" fill="#c43c3c"/>
<rect x="449.30" y="131.77" width="6.75" height="9.68" fill="#d6604d"/>
<rect x="455.65" y="131.77" width="13.10" height="9.68" fill="#e58268"/>
<rect x="468.35" y="131.77" width="6.75" height="9.68" fill="#fddbc7"/>
<rect x="474.70" y="131.77" width="6.75" height="9.68" fill="#fae9df"/>
<rect x="481.05" y="131.77" width="6.75" height="9.68" fill="#fddbc7"/>
<rect x="487.40" y="131.77" width="13.10" height="9.68" fill="#fae9df"/>
<rect x="500.10" y="131.77" width="6.75" height="9.68" fill="#fddbc7"/>
<rect x="506.45" y="131.77" width="13.10" height="9.68" fill="#f8c0a4"/>
<rect x="519.15" y="131.77" width="6.75" height="9.68" fill="#fddbc7"/>
<rect x="525.50" y="131.77" width="6.75" height="9.68" fill="#e58268"/>
<rect x="531.85" y="131.77" width="6.75" height="9.68" fill="#f7f7f7"/>
<rect x="538.20" y="131.77" width="6.75" height="9.68" fill="#fae9df"/>
<rect x="544.55" y="131.77" width="6.75" height="9.68" fill="#fddbc7"/>
<rect x="550.90" y="131.77" width="6.75" height="9.68" fill="#f8c0a4"/>
<rect x="557.25" y="131.77" width="13.10" height="9.68" fill="#fddbc7"/>
<rect x="569.95" y="131.77" width="6.75" height="9.68" fill="#fae9df"/>
<rect x="576.30" y="131.77" width="6.75" height="9.68" fill="#f4a582"/>
<rect x="582.65" y="131.77" width="6.75" height="9.68" fill="#4393c3"/>
<rect x="589.00" y="131.77" width="6.75" height="9.68" fill="#92c5de"/>
<rect x="595.35" y="131.77" width="6.75" height="9.68" fill="#f7f7f7"/>
<rect x="601.70" y="131.77" width="13.10" height="9.68" fill="#4393c3"/>
<rect x="81.00" y="141.05" width="6.75" height="9.68" fill="#6aacd0"/>
<rect x="87.35" y="141.05" width="19.45" height="9.68" fill="#fae9df"/>
<rect x="106.40" y="141.05" width="6.75" height="9.68" fill="#f7f7f7"/>
<rect x="112.75" y="141.05" width="6.75" height="9.68" fill="#fae9df"/>
<rect x="119.10" y="141.05" width="6.75" height="9.68" fill="#f8c0a4"/>
<rect x="125.45" y="141.05" width="13.10" height="9.68" fill="#fddbc7"/>
<rect x="138.15" y="141.05" width="6.75" height="9.68" fill="#f7f7f7"/>
<rect x="144.50" y="141.05" width="19.45" height="9.68" fill="#fddbc7"/>
<rect x="163.55" y="141.05" width="6.75" height="9.68" fill="#f8c0a4"/>
<rect x="169.90" y="141.05" width="6.75" height="9.68" fill="#f4a582"/>
<rect x="176.25" y="141.05" width="19.45" height="9.68" fill="#e58268"/>
<rect x="195.30" y="141.05" width="6.75" height="9.68" fill="#f4a582"/>
<rect x="201.65" y="141.05" width="6.75" height="9.68" fill="#b2182b"/>
<rect x="208.00" y="141.05" width="6.75" height="9.68" fill="#f8c0a4"/>
<rect x="214.35" y="141.05" width="13.10" height="9.68" fill="#c43c3c"/>
<rect x="227.05" y="141.05" width="6.75" height="9.68" fill="#e58268"/>
<rect x="233.40" y="141.05" width="6.75" height="9.68" fill="#fddbc7"/>
<rect x="239.75" y="141.05" width="6.75" height="9.68" fill="#e58268"/>
<rect x="246.10" y="141.05" width="6.75" height="9.68" fill="#f4a582"/>
<rect x="252.45" y="141.05" width="6.75" height="9.68" fill="#d6604d"/>
<rect x="258.80" y="141.05" width="19.45" height="9.68" fill="#f4a582"/>
<rect x="277.85" y="141.05" width="25.80" height="9.68" fill="#f8c0a4"/>
<rect x="303.25" y="141.05" width="19.45" height="9.68" fill="#f4a582"/>
<rect x="322.30" y="141.05" width="6.75" height="9.68" fill="#e58268"/>
<rect x="328.65" y="141.05" width="19.45" height="9.68" fill="#c43c3c"/>
<rect x="347.70" y="141.05" width="32.15" height="9.68" fill="#b2182b"/>
<rect x="379.45" y="141.05" width="13.10" height="9.68" fill="#e58268"/>
<rect x="392.15" y="141.05" width="6.75" height="9.68" fill="#c43c3c"/>
<rect x="398.50" y="141.05" width="6.75" height="9.68" fill="#e58268"/>
<rect x="404.85" y="141.05" width="19.45" height="9.68" fill="#d6604d"/>
<rect x="423.90" y="141.05" width="25.80" height="9.68" fill="#b2182b"/>
<rect x="449.30" y="141.05" width="19.45" height="9.68" fill="#d6604d"/>
<rect x="468.35" y="141.05" width="6.75" height="9.68" fill="#f7f7f7"/>
<rect x="474.70" y="141.05" width="13.10" height="9.68" fill="#d1e5f0"/>
<rect x="487.40" y="141.05" width="6.75" height="9.68" fill="#b2d5e7"/>
<rect x="493.75" y="141.05" width="13.10" height="9.68" fill="#92c5de"/>
<rect x="506.45" y="141.05" width="13.10" height="9.68" fill="#d1e5f0"/>
<rect x="519.15" y="141.05" width="6.75" height="9.68" fill="#b2d5e7"/>
<rect x="525.50" y="141.05" width="6.75" height="9.68" fill="#fddbc7"/>
<rect x="531.85" y="141.05" width="19.45" height="9.68" fill="#d1e5f0"/>
<rect x="550.90" y="141.05" width="6.75" height="9.68" fill="#f7f7f7"/>
<rect x="557.25" y="141.05" width="19.45" height="9.68" fill="#e4eef4"/>
<rect x="576.30" y="141.05" width="6.75" height="9.68" fill="#fae9df"/>
<rect x="582.65" y="141.05" width="6.75" height="9.68" fill="#6aacd0"/>
<rect x="589.00" y="141.05" width="6.75" height="9.68" fill="#d1e5f0"/>
<rect x="595.35" y="141.05" width="6.75" height="9.68" fill="#f7f7f7"/>
<rect x="601.70" y="141.05" width="13.10" height="9.68" fill="#4393c3"/>
<rect x="81.00" y="150.33" width="6.75" height="9.68" fill="#b2d5e7"/>
<rect x="87.35" y="150.33" width="19.45" height="9.68" fill="#fae9df"/>
<rect x="106.40" y="150.33" width="6.75" height="9.68" fill="#f7f7f7"/>
<rect x="112.75" y="150.33" width="6.75" height="9.68" fill="#fae9df"/>
<rect x="119.10" y="150.33" width="19.45" height="9.68" fill="#fddbc7"/>
<rect x="138.15" y="150.33" width="13.10" height="9.68" fill="#f4a582"/>
<rect x="150.85" y="150.33" width="13.10" height="9.68" fill="#f8c0a4"/>
<rect x="163.55" y="150.33" width="6.75" height="9.68" fill="#f4a582"/>
<rect x="169.90" y="150.33" width="6.75" height="9.68" fill="#d6604d"/>
<rect x="176.25" y="150.33" width="19.45" height="9.68" fill="#c43c3c"/>
<rect x="195.30" y="150.33" width="6.75" height="9.68" fill="#d6604d"/>
<rect x="201.65" y="150.33" width="6.75" height="9.68" fill="#b2182b"/>
<rect x="208.00" y="150.33" width="6.75" height="9.68" fill="#e58268"/>
<rect x="214.35" y="150.33" width="13.10" height="9.68" fill="#b2182b"/>
<rect x="227.05" y="150.33" width="6.75" height="9.68" fill="#d6604d"/>
<rect x="233.40" y="150.33" width="6.75" height="9.68" fill="#fddbc7"/>
<rect x="239.75" y="150.33" width="6.75" height="9.68" fill="#f4a582"/>
<rect x="246.10" y="150.33" width="6.75" height="9.68" fill="#f8c0a4"/>
<rect x="252.45" y="150.33" width="6.75" height="9.68" fill="#d6604d"/>
<rect x="258.80" y="150.33" width="13.10" height="9.68" fill="#e58268"/>
<rect x="271.50" y="150.33" width="32.15" height="9.68" fill="#f4a582"/>
<rect x="303.25" y="150.33" width="19.45" height="9.68" fill="#e58268"/>
<rect x="322.30" y="150.33" width="6.75" height="9.68" fill="#d6604d"/>
<rect x="328.65" y="150.33" width="13.10" height="9.68" fill="#b2182b"/>
<rect x="341.35" y="150.33" width="6.75" height="9.68" fill="#c43c3c"/>
<rect x="347.70" y="150.33" width="32.15" height="9.68" fill="#b2182b"/>
<rect x="379.45" y="150.33" width="13.10" height="9.68" fill="#c43c3c"/>
<rect x="392.15" y="150.33" width="6.75" height="9.68" fill="#b2182b"/>
<rect x="398.50" y="150.33" width="25.80" height="9.68" fill="#d6604d"/>
<rect x="423.90" y="150.33" width="25.80" height="9.68" fill="#b2182b"/>
<rect x="449.30" y="150.33" width="19.45" height="9.68" fill="#d6604d"/>
<rect x="468.35" y="150.33" width="6.75" height="9.68" fill="#f7f7f7"/>
<rect x="474.70" y="150.33" width="6.75" height="9.68" fill="#e4eef4"/>
<rect x="481.05" y="150.33" width="25.80" height="9.68" fill="#f7f7f7"/>
<rect x="506.45" y="150.33" width="13.10" height="9.68" fill="#fae9df"/>
<rect x="519.15" y="150.33" width="6.75" height="9.68" fill="#f7f7f7"/>
<rect x="525.50" y="150.33" width="6.75" height="9.68" fill="#f4a582"/>
<rect x="531.85" y="150.33" width="13.10" height="9.68" fill="#f7f7f7"/>
<rect x="544.55" y="150.33" width="6.75" height="9.68" fill="#fae9df"/>
<rect x="550.90" y="150.33" width="6.75" height="9.68" fill="#fddbc7"/>
<rect x="557.25" y="150.33" width="19.45" height="9.68" fill="#fae9df"/>
<rect x="576.30" y="150.33" width="6.75" height="9.68" fill="#f8c0a4"/>
<rect x="582.65" y="150.33" width="6.75" height="9.68" fill="#4393c3"/>
<rect x="589.00" y="150.33" width="6.75" height="9.68" fill="#b2d5e7"/>
<rect x="595.35" y="150.33" width="6.75" height="9.68" fill="#f7f7f7"/>
<rect x="601.70" y="150.33" width="13.10" height="9.68" fill="#4393c3"/>
<rect x="81.00" y="159.61" width="6.75" height="9.68" fill="#b2d5e7"/>
<rect x="87.35" y="159.61" width="19.45" height="9.68" fill="#fae9df"/>
<rect x="106.40" y="159.61" width="6.75" height="9.68" fill="#f7f7f7"/>
<rect x="112.75" y="159.61" width="6.75" height="9.68" fill="#fae9df"/>
<rect x="119.10" y="159.61" width="6.75" height="9.68" fill="#f8c0a4"/>
<rect x="125.45" y="159.61" width="13.10" height="9.68" fill="#fddbc7"/>
<rect x="138.15" y="159.61" width="6.75" height="9.68" fill="#e58268"/>
<rect x="144.50" y="159.61" width="6.75" height="9.68" fill="#f4a582"/>
<rect x="150.85" y="159.61" width="13.10" height="9.68" fill="#f8c0a4"/>
<rect x="163.55" y="159.61" width="6.75" height="9.68" fill="#f4a582"/>
<rect x="169.90" y="159.61" width="6.75" height="9.68" fill="#d6604d"/>
<rect x="176.25" y="159.61" width="19.45" height="9.68" fill="#c43c3c"/>
<rect x="195.30" y="159.61" width="6.75" height="9.68" fill="#d6604d"/>
<rect x="201.65" y="159.61" width="6.75" height="9.68" fill="#b2182b"/>
<rect x="208.00" y="159.61" width="6.75" height="9.68" fill="#e58268"/>
<rect x="214.35" y="159.61" width="13.10" height="9.68" fill="#b2182b"/>
<rect x="227.05" y="159.61" width="6.75" height="9.68" fill="#d6604d"/>
<rect x="233.40" y="159.61" width="6.75" height="9.68" fill="#fddbc7"/>
<rect x="239.75" y="159.61" width="6.75" height="9.68" fill="#f4a582"/>
<rect x="246.10" y="159.61" width="6.75" height="9.68" fill="#f8c0a4"/>
<rect x="252.45" y="159.61" width="19.45" height="9.68" fill="#d6604d"/>
<rect x="271.50" y="159.61" width="13.10" height="9.68" fill="#e58268"/>
<rect x="284.20" y="159.61" width="19.45" height="9.68" fill="#f4a582"/>
<rect x="303.25" y="159.61" width="13.10" height="9.68" fill="#e58268"/>
<rect x="315.95" y="159.61" width="13.10" height="9.68" fill="#d6604d"/>
<rect x="328.65" y="159.61" width="13.10" height="9.68" fill="#b2182b"/>
<rect x="341.35" y="159.61" width="6.75" height="9.68" fill="#c43c3c"/>
<rect x="347.70" y="159.61" width="32.15" height="9.68" fill="#b2182b"/>
<rect x="379.45" y="159.61" width="13.10" height="9.68" fill="#c43c3c"/>
<rect x="392.15" y="159.61" width="6.75" height="9.68" fill="#b2182b"/>
<rect x="398.50" y="159.61" width="25.80" height="9.68" fill="#d6604d"/>
<rect x="423.90" y="159.61" width="25.80" height="9.68" fill="#b2182b"/>
<rect x="449.30" y="159.61" width="19.45" height="9.68" fill="#d6604d"/>
<rect x="468.35" y="159.61" width="19.45" height="9.68" fill="#f7f7f7"/>
<rect x="487.40" y="159.61" width="13.10" height="9.68" fill="#d1e5f0"/>
<rect x="500.10" y="159.61" width="25.80" height="9.68" fill="#f7f7f7"/>
<rect x="525.50" y="159.61" width="6.75" height="9.68" fill="#e58268"/>
<rect x="531.85" y="159.61" width="13.10" height="9.68" fill="#f7f7f7"/>
<rect x="544.55" y="159.61" width="32.15" height="9.68" fill="#fae9df"/>
<rect x="576.30" y="159.61" width="6.75" height="9.68" fill="#f8c0a4"/>
<rect x="582.65" y="159.61" width="6.75" height="9.68" fill="#4393c3"/>
<rect x="589.00" y="159.61" width="6.75" height="9.68" fill="#b2d5e7"/>
<rect x="595.35" y="159.61" width="6.75" height="9.68" fill="#f7f7f7"/>
<rect x="601.70" y="159.61" width="13.10" height="9.68" fill="#4393c3"/>
<rect x="81.00" y="168.89" width="6.75" height="9.68" fill="#b2d5e7"/>
<rect x="87.35" y="168.89" width="19.45" height="9.68" fill="#fae9df"/>
<rect x="106.40" y="168.89" width="6.75" height="9.68" fill="#e4eef4"/>
<rect x="112.75" y="168.89" width="6.75" height="9.68" fill="#fae9df"/>
<rect x="119.10" y="168.89" width="13.10" height="9.68" fill="#fddbc7"/>
<rect x="131.80" y="168.89" width="6.75" height="9.68" fill="#fae9df"/>
<rect x="138.15" y="168.89" width="6.75" height="9.68" fill="#fddbc7"/>
<rect x="144.50" y="168.89" width="6.75" height="9.68" fill="#f8c0a4"/>
<rect x="150.85" y="168.89" width="13.10" height="9.68" fill="#fddbc7"/>
<rect x="163.55" y="168.89" width="6.75" height="9.68" fill="#f4a582"/>
<rect x="169.90" y="168.89" width="6.75" height="9.68" fill="#d6604d"/>
<rect x="176.25" y="168.89" width="19.45" height="9.68" fill="#c43c3c"/>
<rect x="195.30" y="168.89" width="6.75" height="9.68" fill="#d6604d"/>
<rect x="201.65" y="168.89" width="6.75" height="9.68" fill="#b2182b"/>
<rect x="208.00" y="168.89" width="6.75" height="9.68" fill="#d6604d"/>
<rect x="214.35" y="168.89" width="13.10" height="9.68" fill="#b2182b"/>
<rect x="227.05" y="168.89" width="6.75" height="9.68" fill="#e58268"/>
<rect x="233.40" y="168.89" width="6.75" height="9.68" fill="#fddbc7"/>
<rect x="239.75" y="168.89" width="6.75" height="9.68" fill="#e58268"/>
<rect x="246.10" y="168.89" width="6.75" height="9.68" fill="#f4a582"/>
<rect x="252.45" y="168.89" width="6.75" height="9.68" fill="#c43c3c"/>
<rect x="258.80" y="168.89" width="13.10" height="9.68" fill="#d6604d"/>
<rect x="271.50" y="168.89" width="13.10" height="9.68" fill="#e58268"/>
<rect x="284.20" y="168.89" width="19.45" height="9.68" fill="#f4a582"/>
<rect x="303.25" y="168.89" width="13.10" height="9.68" fill="#e58268"/>
<rect x="315.95" y="168.89" width="13.10" height="9.68" fill="#d6604d"/>
<rect x="328.65" y="168.89" width="51.20" height="9.68" fill="#b2182b"/>
<rect x="379.45" y="168.89" width="13.10" height="9.68" fill="#c43c3c"/>
<rect x="392.15" y="168.89" width="6.75" height="9.68" fill="#b2182b"/>
<rect x="398.50" y="168.89" width="25.80" height="9.68" fill="#d6604d"/>
<rect x="423.90" y="168.89" width="25.80" height="9.68" fill="#b2182b"/>
<rect x="449.30" y="168.89" width="19.45" height="9.68" fill="#d6604d"/>
<rect x="468.35" y="168.89" width="6.75" height="9.68" fill="#f7f7f7"/>
<rect x="474.70" y="168.89" width="19.45" height="9.68" fill="#d1e5f0"/>
<rect x="493.75" y="168.89" width="13.10" height="9.68" fill="#b2d5e7"/>
<rect x="506.45" y="168.89" width="19.45" height="9.68" fill="#d1e5f0"/>
<rect x="525.50" y="168.89" width="6.75" height="9.68" fill="#f8c0a4"/>
<rect x="531.85" y="168.89" width="19.45" height="9.68" fill="#e4eef4"/>
<rect x="550.90" y="168.89" width="6.75" height="9.68" fill="#fae9df"/>
<rect x="557.25" y="168.89" width="6.75" height="9.68" fill="#f7f7f7"/>
<rect x="563.60" y="168.89" width="13.10" height="9.68" fill="#fae9df"/>
<rect x="576.30" y="168.89" width="6.75" height="9.68" fill="#fddbc7"/>
<rect x="582.65" y="168.89" width="6.75" height="9.68" fill="#4393c3"/>
<rect x="589.00" y="168.89" width="6.75" height="9.68" fill="#d1e5f0"/>
<rect x="595.35" y="168.89" width="6.75" height="9.68" fill="#f7f7f7"/>
<rect x="601.70" y="168.89" width="13.10" height="9.68" fill="#4393c3"/>
<rect x="81.00" y="178.17" width="6.75" height="9.68" fill="#fae9df"/>
<rect x="87.35" y="178.17" width="19.45" height="9.68" fill="#fddbc7"/>
<rect x="106.40" y="178.17" width="6.75" height="9.68" fill="#fae9df"/>
<rect x="112.75" y="178.17" width="19.45" height="9.68" fill="#fddbc7"/>
<rect x="131.80" y="178.17" width="6.75" height="9.68" fill="#f4a582"/>
<rect x="138.15" y="178.17" width="13.10" height="9.68" fill="#f8c0a4"/>
<rect x="150.85" y="178.17" width="6.75" height="9.68" fill="#c43c3c"/>
<rect x="157.20" y="178.17" width="13.10" height="9.68" fill="#d6604d"/>
<rect x="169.90" y="178.17" width="6.75" height="9.68" fill="#b2d5e7"/>
<rect x="176.25" y="178.17" width="13.10" height="9.68" fill="#f7f7f7"/>
<rect x="188.95" y="178.17" width="6.75" height="9.68" fill="#fae9df"/>
<rect x="195.30" y="178.17" width="6.75" height="9.68" fill="#f7f7f7"/>
<rect x="201.65" y="178.17" width="6.75" height="9.68" fill="#d1e5f0"/>
<rect x="208.00" y="178.17" width="6.75" height="9.68" fill="#92c5de"/>
<rect x="214.35" y="178.17" width="13.10" height="9.68" fill="#d1e5f0"/>
<rect x="227.05" y="178.17" width="25.80" height="9.68" fill="#b2182b"/>
<rect x="252.45" y="178.17" width="6.75" height="9.68" fill="#f8c0a4"/>
<rect x="258.80" y="178.17" width="6.75" height="9.68" fill="#f4a582"/>
<rect x="265.15" y="178.17" width="6.75" height="9.68" fill="#f8c0a4"/>
<rect x="271.50" y="178.17" width="6.75" height="9.68" fill="#f4a582"/>
<rect x="277.85" y="178.17" width="6.75" height="9.68" fill="#f8c0a4"/>
<rect x="284.20" y="178.17" width="19.45" height="9.68" fill="#f4a582"/>
<rect x="303.25" y="178.17" width="6.75" height="9.68" fill="#e58268"/>
<rect x="309.60" y="178.17" width="6.75" height="9.68" fill="#f4a582"/>
<rect x="315.95" y="178.17" width="13.10" height="9.68" fill="#f8c0a4"/>
<rect x="328.65" y="178.17" width="19.45" height="9.68" fill="#f4a582"/>
<rect x="347.70" y="178.17" width="13.10" height="9.68" fill="#f8c0a4"/>
<rect x="360.40" y="178.17" width="6.75" height="9.68" fill="#f4a582"/>
<rect x="366.75" y="178.17" width="13.10" height="9.68" fill="#f8c0a4"/>
<rect x="379.45" y="178.17" width="6.75" height="9.68" fill="#fae9df"/>
<rect x="385.80" y="178.17" width="6.75" height="9.68" fill="#fddbc7"/>
<rect x="392.15" y="178.17" width="6.75" height="9.68" fill="#e58268"/>
<rect x="398.50" y="178.17" width="6.75" height="9.68" fill="#f4a582"/>
<rect x="404.85" y="178.17" width="6.75" height="9.68" fill="#f8c0a4"/>
<rect x="411.20" y="178.17" width="6.75" height="9.68" fill="#e58268"/>
<rect x="417.55" y="178.17" width="6.75" height="9.68" fill="#f8c0a4"/>
<rect x="423.90" y="178.17" width="13.10" height="9.68" fill="#f4a582"/>
<rect x="436.60" y="178.17" width="6.75" height="9.68" fill="#e58268"/>
<rect x="442.95" y="178.17" width="6.75" height="9.68" fill="#f4a582"/>
<rect x="449.30" y="178.17" width="6.75" height="9.68" fill="#fddbc7"/>
<rect x="455.65" y="178.17" width="13.10" height="9.68" fill="#f4a582"/>
<rect x="468.35" y="178.17" width="13.10" height="9.68" fill="#fddbc7"/>
<rect x="481.05" y="178.17" width="6.75" height="9.68" fill="#f7f7f7"/>
<rect x="487.40" y="178.17" width="6.75" height="9.68" fill="#6aacd0"/>
<rect x="493.75" y="178.17" width="13.10" height="9.68" fill="#d1e5f0"/>
<rect x="506.45" y="178.17" width="6.75" height="9.68" fill="#e4eef4"/>
<rect x="512.80" y="178.17" width="13.10" height="9.68" fill="#d1e5f0"/>
<rect x="525.50" y="178.17" width="19.45" height="9.68" fill="#4393c3"/>
<rect x="544.55" y="178.17" width="6.75" height="9.68" fill="#f7f7f7"/>
<rect x="550.90" y="178.17" width="6.75" height="9.68" fill="#fae9df"/>
<rect x="557.25" y="178.17" width="13.10" height="9.68" fill="#fddbc7"/>
<rect x="569.95" y="178.17" width="6.75" height="9.68" fill="#f7f7f7"/>
<rect x="576.30" y="178.17" width="6.75" height="9.68" fill="#92c5de"/>
<rect x="582.65" y="178.17" width="6.75" height="9.68" fill="#b2182b"/>
<rect x="589.00" y="178.17" width="6.75" height="9.68" fill="#67001f"/>
<rect x="595.35" y="178.17" width="13.10" height="9.68" fill="#92c5de"/>
<rect x="608.05" y="178.17" width="6.75" height="9.68" fill="#4393c3"/>
<rect x="81.00" y="187.45" width="6.75" height="9.68" fill="#fae9df"/>
<rect x="87.35" y="187.45" width="19.45" height="9.68" fill="#f4a582"/>
<rect x="106.40" y="187.45" width="6.75" height="9.68" fill="#f7f7f7"/>
<rect x="112.75" y="187.45" width="13.10" height="9.68" fill="#fae9df"/>
<rect x="125.45" y="187.45" width="6.75" height="9.68" fill="#fddbc7"/>
<rect x="131.80" y="187.45" width="6.75" height="9.68" fill="#e58268"/>
<rect x="138.15" y="187.45" width="6.75" height="9.68" fill="#fae9df"/>
<rect x="144.50" y="187.45" width="6.75" height="9.68" fill="#f4a582"/>
<rect x="150.85" y="187.45" width="6.75" height="9.68" fill="#b2182b"/>
<rect x="157.20" y="187.45" width="13.10" height="9.68" fill="#d6604d"/>
<rect x="169.90" y="187.45" width="6.75" height="9.68" fill="#d1e5f0"/>
<rect x="176.25" y="187.45" width="19.45" height="9.68" fill="#fae9df"/>
<rect x="195.30" y="187.45" width="6.75" height="9.68" fill="#f7f7f7"/>
<rect x="201.65" y="187.45" width="6.75" height="9.68" fill="#d1e5f0"/>
<rect x="208.00" y="187.45" width="6.75" height="9.68" fill="#b2d5e7"/>
<rect x="214.35" y="187.45" width="13.10" height="9.68" fill="#e4eef4"/>
<rect x="227.05" y="187.45" width="6.75" height="9.68" fill="#c43c3c"/>
<rect x="233.40" y="187.45" width="13.10" height="9.68" fill="#d6604d"/>
<rect x="246.10" y="187.45" width="6.75" height="9.68" fill="#e58268"/>
<rect x="252.45" y="187.45" width="6.75" height="9.68" fill="#f7f7f7"/>
<rect x="258.80" y="187.45" width="13.10" height="9.68" fill="#fae9df"/>
<rect x="271.50" y="187.45" width="6.75" height="9.68" fill="#fddbc7"/>
<rect x="277.85" y="187.45" width="6.75" height="9.68" fill="#fae9df"/>
<rect x="284.20" y="187.45" width="19.45" height="9.68" fill="#fddbc7"/>
<rect x="303.25" y="187.45" width="13.10" height="9.68" fill="#f8c0a4"/>
<rect x="315.95" y="187.45" width="32.15" height="9.68" fill="#fddbc7"/>
<rect x="347.70" y="187.45" width="13.10" height="9.68" fill="#fae9df"/>
<rect x="360.40" y="187.45" width="6.75" height="9.68" fill="#fddbc7"/>
<rect x="366.75" y="187.45" width="6.75" height="9.68" fill="#fae9df"/>
<rect x="373.10" y="187.45" width="6.75" height="9.68" fill="#fddbc7"/>
<rect x="379.45" y="187.45" width="6.75" height="9.68" fill="#fae9df"/>
<rect x="385.80" y="187.45" width="19.45" height="9.68" fill="#fddbc7"/>
<rect x="404.85" y="187.45" width="6.75" height="9.68" fill="#f4a582"/>
<rect x="411.20" y="187.45" width="6.75" height="9.68" fill="#e58268"/>
<rect x="417.55" y="187.45" width="19.45" height="9.68" fill="#f8c0a4"/>
<rect x="436.60" y="187.45" width="6.75" height="9.68" fill="#f4a582"/>
<rect x="442.95" y="187.45" width="6.75" height="9.68" fill="#f8c0a4"/>
<rect x="449.30" y="187.45" width="19.45" height="9.68" fill="#fddbc7"/>
<rect x="468.35" y="187.45" width="6.75" height="9.68" fill="#f7f7f7"/>
<rect x="474.70" y="187.45" width="6.75" height="9.68" fill="#fae9df"/>
<rect x="481.05" y="187.45" width="6.75" height="9.68" fill="#f7f7f7"/>
<rect x="487.40" y="187.45" width="6.75" height="9.68" fill="#92c5de"/>
<rect x="493.75" y="187.45" width="13.10" height="9.68" fill="#b2d5e7"/>
<rect x="506.45" y="187.45" width="6.75" height="9.68" fill="#d1e5f0"/>
<rect x="512.80" y="187.45" width="13.10" height="9.68" fill="#b2d5e7"/>
<rect x="525.50" y="187.45" width="19.45" height="9.68" fill="#4393c3"/>
<rect x="544.55" y="187.45" width="6.75" height="9.68" fill="#d1e5f0"/>
<rect x="550.90" y="187.45" width="6.75" height="9.68" fill="#e4eef4"/>
<rect x="557.25" y="187.45" width="13.10" height="9.68" fill="#fae9df"/>
<rect x="569.95" y="187.45" width="6.75" height="9.68" fill="#d1e5f0"/>
<rect x="576.30" y="187.45" width="6.75" height="9.68" fill="#b2d5e7"/>
<rect x="582.65" y="187.45" width="6.75" height="9.68" fill="#fddbc7"/>
<rect x="589.00" y="187.45" width="6.75" height="9.68" fill="#f4a582"/>
<rect x="595.35" y="187.45" width="6.75" height="9.68" fill="#f7f7f7"/>
<rect x="601.70" y="187.45" width="6.75" height="9.68" fill="#e4eef4"/>
<rect x="608.05" y="187.45" width="6.75" height="9.68" fill="#4393c3"/>
<rect x="81.00" y="196.73" width="6.75" height="9.68" fill="#d6604d"/>
<rect x="87.35" y="196.73" width="32.15" height="9.68" fill="#fddbc7"/>
<rect x="119.10" y="196.73" width="6.75" height="9.68" fill="#fae9df"/>
<rect x="125.45" y="196.73" width="6.75" height="9.68" fill="#fddbc7"/>
<rect x="131.80" y="196.73" width="13.10" height="9.68" fill="#e58268"/>
<rect x="144.50" y="196.73" width="6.75" height="9.68" fill="#d6604d"/>
<rect x="150.85" y="196.73" width="13.10" height="9.68" fill="#c43c3c"/>
<rect x="163.55" y="196.73" width="6.75" height="9.68" fill="#d6604d"/>
<rect x="169.90" y="196.73" width="6.75" height="9.68" fill="#f7f7f7"/>
<rect x="176.25" y="196.73" width="19.45" height="9.68" fill="#f8c0a4"/>
<rect x="195.30" y="196.73" width="6.75" height="9.68" fill="#fddbc7"/>
<rect x="201.65" y="196.73" width="13.10" height="9.68" fill="#b2d5e7"/>
<rect x="214.35" y="196.73" width="13.10" height="9.68" fill="#e4eef4"/>
<rect x="227.05" y="196.73" width="6.75" height="9.68" fill="#b2182b"/>
<rect x="233.40" y="196.73" width="19.45" height="9.68" fill="#d6604d"/>
<rect x="252.45" y="196.73" width="38.50" height="9.68" fill="#e58268"/>
<rect x="290.55" y="196.73" width="6.75" height="9.68" fill="#d6604d"/>
<rect x="296.90" y="196.73" width="6.75" height="9.68" fill="#e58268"/>
<rect x="303.25" y="196.73" width="6.75" height="9.68" fill="#d6604d"/>
<rect x="309.60" y="196.73" width="13.10" height="9.68" fill="#e58268"/>
<rect x="322.30" y="196.73" width="13.10" height="9.68" fill="#f4a582"/>
<rect x="335.00" y="196.73" width="13.10" height="9.68" fill="#e58268"/>
<rect x="347.70" y="196.73" width="13.10" height="9.68" fill="#f8c0a4"/>
<rect x="360.40" y="196.73" width="6.75" height="9.68" fill="#f4a582"/>
<rect x="366.75" y="196.73" width="25.80" height="9.68" fill="#f8c0a4"/>
<rect x="392.15" y="196.73" width="6.75" height="9.68" fill="#e58268"/>
<rect x="398.50" y="196.73" width="6.75" height="9.68" fill="#d6604d"/>
<rect x="404.85" y="196.73" width="6.75" height="9.68" fill="#e58268"/>
<rect x="411.20" y="196.73" width="6.75" height="9.68" fill="#d6604d"/>
<rect x="417.55" y="196.73" width="25.80" height="9.68" fill="#e58268"/>
<rect x="442.95" y="196.73" width="6.75" height="9.68" fill="#f4a582"/>
<rect x="449.30" y="196.73" width="6.75" height="9.68" fill="#f8c0a4"/>
<rect x="455.65" y="196.73" width="6.75" height="9.68" fill="#f4a582"/>
<rect x="462.00" y="196.73" width="6.75" height="9.68" fill="#f8c0a4"/>
<rect x="468.35" y="196.73" width="19.45" height="9.68" fill="#d6604d"/>
<rect x="487.40" y="196.73" width="6.75" height="9.68" fill="#fddbc7"/>
<rect x="493.75" y="196.73" width="13.10" height="9.68" fill="#f4a582"/>
<rect x="506.45" y="196.73" width="19.45" height="9.68" fill="#e58268"/>
<rect x="525.50" y="196.73" width="6.75" height="9.68" fill="#6aacd0"/>
<rect x="531.85" y="196.73" width="6.75" height="9.68" fill="#4393c3"/>
<rect x="538.20" y="196.73" width="6.75" height="9.68" fill="#b2d5e7"/>
<rect x="544.55" y="196.73" width="13.10" height="9.68" fill="#f4a582"/>
<rect x="557.25" y="196.73" width="13.10" height="9.68" fill="#d6604d"/>
<rect x="569.95" y="196.73" width="6.75" height="9.68" fill="#fddbc7"/>
<rect x="576.30" y="196.73" width="6.75" height="9.68" fill="#d1e5f0"/>
<rect x="582.65" y="196.73" width="6.75" height="9.68" fill="#fddbc7"/>
<rect x="589.00" y="196.73" width="6.75" height="9.68" fill="#f4a582"/>
<rect x="595.35" y="196.73" width="6.75" height="9.68" fill="#4393c3"/>
<rect x="601.70" y="196.73" width="6.75" height="9.68" fill="#92c5de"/>
<rect x="608.05" y="196.73" width="6.75" height="9.68" fill="#4393c3"/>
<rect x="81.00" y="206.01" width="6.75" height="9.68" fill="#fddbc7"/>
<rect x="87.35" y="206.01" width="19.45" height="9.68" fill="#f7f7f7"/>
<rect x="106.40" y="206.01" width="25.80" height="9.68" fill="#d6604d"/>
<rect x="131.80" y="206.01" width="6.75" height="9.68" fill="#f8c0a4"/>
<rect x="138.15" y="206.01" width="6.75" height="9.68" fill="#f4a582"/>
<rect x="144.50" y="206.01" width="6.75" height="9.68" fill="#fddbc7"/>
<rect x="150.85" y="206.01" width="6.75" height="9.68" fill="#d6604d"/>
<rect x="157.20" y="206.01" width="13.10" height="9.68" fill="#c43c3c"/>
<rect x="169.90" y="206.01" width="6.75" height="9.68" fill="#f7f7f7"/>
<rect x="176.25" y="206.01" width="13.10" height="9.68" fill="#f8c0a4"/>
<rect x="188.95" y="206.01" width="13.10" height="9.68" fill="#fddbc7"/>
<rect x="201.65" y="206.01" width="6.75" height="9.68" fill="#f7f7f7"/>
<rect x="208.00" y="206.01" width="6.75" height="9.68" fill="#fae9df"/>
<rect x="214.35" y="206.01" width="6.75" height="9.68" fill="#f4a582"/>
<rect x="220.70" y="206.01" width="6.75" height="9.68" fill="#f8c0a4"/>
<rect x="227.05" y="206.01" width="25.80" height="9.68" fill="#b2182b"/>
<rect x="252.45" y="206.01" width="6.75" height="9.68" fill="#d6604d"/>
<rect x="258.80" y="206.01" width="13.10" height="9.68" fill="#e58268"/>
<rect x="271.50" y="206.01" width="19.45" height="9.68" fill="#d6604d"/>
<rect x="290.55" y="206.01" width="6.75" height="9.68" fill="#c43c3c"/>
<rect x="296.90" y="206.01" width="6.75" height="9.68" fill="#d6604d"/>
<rect x="303.25" y="206.01" width="6.75" height="9.68" fill="#b2182b"/>
<rect x="309.60" y="206.01" width="13.10" height="9.68" fill="#c43c3c"/>
<rect x="322.30" y="206.01" width="6.75" height="9.68" fill="#d6604d"/>
<rect x="328.65" y="206.01" width="6.75" height="9.68" fill="#f4a582"/>
<rect x="335.00" y="206.01" width="13.10" height="9.68" fill="#d6604d"/>
<rect x="347.70" y="206.01" width="13.10" height="9.68" fill="#f8c0a4"/>
<rect x="360.40" y="206.01" width="6.75" height="9.68" fill="#f4a582"/>
<rect x="366.75" y="206.01" width="25.80" height="9.68" fill="#f8c0a4"/>
<rect x="392.15" y="206.01" width="38.50" height="9.68" fill="#d6604d"/>
<rect x="430.25" y="206.01" width="6.75" height="9.68" fill="#e58268"/>
<rect x="436.60" y="206.01" width="6.75" height="9.68" fill="#d6604d"/>
<rect x="442.95" y="206.01" width="6.75" height="9.68" fill="#e58268"/>
<rect x="449.30" y="206.01" width="19.45" height="9.68" fill="#d6604d"/>
<rect x="468.35" y="206.01" width="6.75" height="9.68" fill="#f7f7f7"/>
<rect x="474.70" y="206.01" width="6.75" height="9.68" fill="#e4eef4"/>
<rect x="481.05" y="206.01" width="6.75" height="9.68" fill="#d1e5f0"/>
<rect x="487.40" y="206.01" width="6.75" height="9.68" fill="#92c5de"/>
<rect x="493.75" y="206.01" width="13.10" height="9.68" fill="#b2d5e7"/>
<rect x="506.45" y="206.01" width="6.75" height="9.68" fill="#d1e5f0"/>
<rect x="512.80" y="206.01" width="13.10" height="9.68" fill="#b2d5e7"/>
<rect x="525.50" y="206.01" width="6.75" height="9.68" fill="#d1e5f0"/>
<rect x="531.85" y="206.01" width="6.75" height="9.68" fill="#92c5de"/>
<rect x="538.20" y="206.01" width="6.75" height="9.68" fill="#d1e5f0"/>
<rect x="544.55" y="206.01" width="6.75" height="9.68" fill="#fddbc7"/>
<rect x="550.90" y="206.01" width="6.75" height="9.68" fill="#f8c0a4"/>
<rect x="557.25" y="206.01" width="13.10" height="9.68" fill="#f4a582"/>
<rect x="569.95" y="206.01" width="6.75" height="9.68" fill="#e58268"/>
<rect x="576.30" y="206.01" width="6.75" height="9.68" fill="#f7f7f7"/>
<rect x="582.65" y="206.01" width="13.10" height="9.68" fill="#b2182b"/>
<rect x="595.35" y="206.01" width="6.75" height="9.68" fill="#92c5de"/>
<rect x="601.70" y="206.01" width="6.75" height="9.68" fill="#6aacd0"/>
<rect x="608.05" y="206.01" width="6.75" height="9.68" fill="#4393c3"/>
<rect x="81.00" y="215.30" width="6.75" height="9.68" fill="#67001f"/>
<rect x="87.35" y="215.30" width="19.45" height="9.68" fill="#fddbc7"/>
<rect x="106.40" y="215.30" width="6.75" height="9.68" fill="#d6604d"/>
<rect x="112.75" y="215.30" width="6.75" height="9.68" fill="#c43c3c"/>
<rect x="119.10" y="215.30" width="19.45" height="9.68" fill="#b2182b"/>
<rect x="138.15" y="215.30" width="6.75" height="9.68" fill="#67001f"/>
<rect x="144.50" y="215.30" width="6.75" height="9.68" fill="#f8c0a4"/>
<rect x="150.85" y="215.30" width="19.45" height="9.68" fill="#c43c3c"/>
<rect x="169.90" y="215.30" width="6.75" height="9.68" fill="#d1e5f0"/>
<rect x="176.25" y="215.30" width="19.45" height="9.68" fill="#fae9df"/>
<rect x="195.30" y="215.30" width="6.75" height="9.68" fill="#f7f7f7"/>
<rect x="201.65" y="215.30" width="6.75" height="9.68" fill="#fddbc7"/>
<rect x="208.00" y="215.30" width="6.75" height="9.68" fill="#f4a582"/>
<rect x="214.35" y="215.30" width="13.10" height="9.68" fill="#e58268"/>
<rect x="227.05" y="215.30" width="6.75" height="9.68" fill="#b2182b"/>
<rect x="233.40" y="215.30" width="6.75" height="9.68" fill="#8c0c25"/>
<rect x="239.75" y="215.30" width="13.10" height="9.68" fill="#b2182b"/>
<rect x="252.45" y="215.30" width="6.75" height="9.68" fill="#f4a582"/>
<rect x="258.80" y="215.30" width="6.75" height="9.68" fill="#f8c0a4"/>
<rect x="265.15" y="215.30" width="6.75" height="9.68" fill="#fddbc7"/>
<rect x="271.50" y="215.30" width="6.75" height="9.68" fill="#f4a582"/>
<rect x="277.85" y="215.30" width="6.75" height="9.68" fill="#e58268"/>
<rect x="284.20" y="215.30" width="19.45" height="9.68" fill="#f4a582"/>
<rect x="303.25" y="215.30" width="19.45" height="9.68" fill="#d6604d"/>
<rect x="322.30" y="215.30" width="6.75" height="9.68" fill="#e58268"/>
<rect x="328.65" y="215.30" width="6.75" height="9.68" fill="#f8c0a4"/>
<rect x="335.00" y="215.30" width="13.10" height="9.68" fill="#e58268"/>
<rect x="347.70" y="215.30" width="13.10" height="9.68" fill="#f8c0a4"/>
<rect x="360.40" y="215.30" width="6.75" height="9.68" fill="#f4a582"/>
<rect x="366.75" y="215.30" width="25.80" height="9.68" fill="#f8c0a4"/>
<rect x="392.15" y="215.30" width="6.75" height="9.68" fill="#e58268"/>
<rect x="398.50" y="215.30" width="6.75" height="9.68" fill="#f8c0a4"/>
<rect x="404.85" y="215.30" width="6.75" height="9.68" fill="#b2182b"/>
<rect x="411.20" y="215.30" width="13.10" height="9.68" fill="#d6604d"/>
<rect x="423.90" y="215.30" width="6.75" height="9.68" fill="#e58268"/>
<rect x="430.25" y="215.30" width="19.45" height="9.68" fill="#d6604d"/>
<rect x="449.30" y="215.30" width="6.75" height="9.68" fill="#b2182b"/>
<rect x="455.65" y="215.30" width="13.10" height="9.68" fill="#d6604d"/>
<rect x="468.35" y="215.30" width="13.10" height="9.68" fill="#92c5de"/>
<rect x="481.05" y="215.30" width="13.10" height="9.68" fill="#6aacd0"/>
<rect x="493.75" y="215.30" width="13.10" height="9.68" fill="#4393c3"/>
<rect x="506.45" y="215.30" width="6.75" height="9.68" fill="#6aacd0"/>
<rect x="512.80" y="215.30" width="13.10" height="9.68" fill="#4393c3"/>
<rect x="525.50" y="215.30" width="6.75" height="9.68" fill="#d1e5f0"/>
<rect x="531.85" y="215.30" width="6.75" height="9.68" fill="#f7f7f7"/>
<rect x="538.20" y="215.30" width="6.75" height="9.68" fill="#92c5de"/>
<rect x="544.55" y="215.30" width="6.75" height="9.68" fill="#f4a582"/>
<rect x="550.90" y="215.30" width="19.45" height="9.68" fill="#f7f7f7"/>
<rect x="569.95" y="215.30" width="6.75" height="9.68" fill="#f8c0a4"/>
<rect x="576.30" y="215.30" width="6.75" height="9.68" fill="#f4a582"/>
<rect x="582.65" y="215.30" width="13.10" height="9.68" fill="#b2182b"/>
<rect x="595.35" y="215.30" width="6.75" height="9.68" fill="#fddbc7"/>
<rect x="601.70" y="215.30" width="13.10" height="9.68" fill="#4393c3"/>
<rect x="81.00" y="224.58" width="6.75" height="9.68" fill="#f7f7f7"/>
<rect x="87.35" y="224.58" width="19.45" height="9.68" fill="#fae9df"/>
<rect x="106.40" y="224.58" width="13.10" height="9.68" fill="#8c0c25"/>
<rect x="119.10" y="224.58" width="13.10" height="9.68" fill="#67001f"/>
<rect x="131.80" y="224.58" width="19.45" height="9.68" fill="#f8c0a4"/>
<rect x="150.85" y="224.58" width="6.75" height="9.68" fill="#d6604d"/>
<rect x="157.20" y="224.58" width="13.10" height="9.68" fill="#b2182b"/>
<rect x="169.90" y="224.58" width="6.75" height="9.68" fill="#f7f7f7"/>
<rect x="176.25" y="224.58" width="19.45" height="9.68" fill="#f8c0a4"/>
<rect x="195.30" y="224.58" width="13.10" height="9.68" fill="#fddbc7"/>
<rect x="208.00" y="224.58" width="25.80" height="9.68" fill="#d6604d"/>
<rect x="233.40" y="224.58" width="19.45" height="9.68" fill="#b2182b"/>
<rect x="252.45" y="224.58" width="6.75" height="9.68" fill="#f4a582"/>
<rect x="258.80" y="224.58" width="13.10" height="9.68" fill="#f8c0a4"/>
<rect x="271.50" y="224.58" width="32.15" height="9.68" fill="#e58268"/>
<rect x="303.25" y="224.58" width="19.45" height="9.68" fill="#b2182b"/>
<rect x="322.30" y="224.58" width="6.75" height="9.68" fill="#c43c3c"/>
<rect x="328.65" y="224.58" width="6.75" height="9.68" fill="#f4a582"/>
<rect x="335.00" y="224.58" width="13.10" height="9.68" fill="#e58268"/>
<rect x="347.70" y="224.58" width="19.45" height="9.68" fill="#f4a582"/>
<rect x="366.75" y="224.58" width="13.10" height="9.68" fill="#f8c0a4"/>
<rect x="379.45" y="224.58" width="13.10" height="9.68" fill="#f4a582"/>
<rect x="392.15" y="224.58" width="13.10" height="9.68" fill="#e58268"/>
<rect x="404.85" y="224.58" width="19.45" height="9.68" fill="#c43c3c"/>
<rect x="423.90" y="224.58" width="32.15" height="9.68" fill="#d6604d"/>
<rect x="455.65" y="224.58" width="13.10" height="9.68" fill="#c43c3c"/>
<rect x="468.35" y="224.58" width="6.75" height="9.68" fill="#6aacd0"/>
<rect x="474.70" y="224.58" width="6.75" height="9.68" fill="#4393c3"/>
<rect x="481.05" y="224.58" width="13.10" height="9.68" fill="#6aacd0"/>
<rect x="493.75" y="224.58" width="13.10" height="9.68" fill="#4393c3"/>
<rect x="506.45" y="224.58" width="6.75" height="9.68" fill="#6aacd0"/>
<rect x="512.80" y="224.58" width="13.10" height="9.68" fill="#4393c3"/>
<rect x="525.50" y="224.58" width="6.75" height="9.68" fill="#f7f7f7"/>
<rect x="531.85" y="224.58" width="6.75" height="9.68" fill="#fae9df"/>
<rect x="538.20" y="224.58" width="6.75" height="9.68" fill="#b2d5e7"/>
<rect x="544.55" y="224.58" width="6.75" height="9.68" fill="#fae9df"/>
<rect x="550.90" y="224.58" width="6.75" height="9.68" fill="#fddbc7"/>
<rect x="557.25" y="224.58" width="13.10" height="9.68" fill="#fae9df"/>
<rect x="569.95" y="224.58" width="6.75" height="9.68" fill="#d6604d"/>
<rect x="576.30" y="224.58" width="6.75" height="9.68" fill="#e58268"/>
<rect x="582.65" y="224.58" width="6.75" height="9.68" fill="#67001f"/>
<rect x="589.00" y="224.58" width="6.75" height="9.68" fill="#b2182b"/>
<rect x="595.35" y="224.58" width="6.75" height="9.68" fill="#fae9df"/>
<rect x="601.70" y="224.58" width="13.10" height="9.68" fill="#4393c3"/>
<rect x="81.00" y="233.86" width="6.75" height="9.68" fill="#f7f7f7"/>
<rect x="87.35" y="233.86" width="19.45" height="9.68" fill="#fae9df"/>
<rect x="106.40" y="233.86" width="25.80" height="9.68" fill="#b2182b"/>
<rect x="131.80" y="233.86" width="6.75" height="9.68" fill="#f8c0a4"/>
<rect x="138.15" y="233.86" width="13.10" height="9.68" fill="#f4a582"/>
<rect x="150.85" y="233.86" width="6.75" height="9.68" fill="#d6604d"/>
<rect x="157.20" y="233.86" width="13.10" height="9.68" fill="#b2182b"/>
<rect x="169.90" y="233.86" width="6.75" height="9.68" fill="#f8c0a4"/>
<rect x="176.25" y="233.86" width="19.45" height="9.68" fill="#e58268"/>
<rect x="195.30" y="233.86" width="6.75" height="9.68" fill="#f4a582"/>
<rect x="201.65" y="233.86" width="6.75" height="9.68" fill="#f8c0a4"/>
<rect x="208.00" y="233.86" width="6.75" height="9.68" fill="#67001f"/>
<rect x="214.35" y="233.86" width="6.75" height="9.68" fill="#b2182b"/>
<rect x="220.70" y="233.86" width="13.10" height="9.68" fill="#c43c3c"/>
<rect x="233.40" y="233.86" width="13.10" height="9.68" fill="#d6604d"/>
<rect x="246.10" y="233.86" width="6.75" height="9.68" fill="#f4a582"/>
<rect x="252.45" y="233.86" width="6.75" height="9.68" fill="#c43c3c"/>
<rect x="258.80" y="233.86" width="13.10" height="9.68" fill="#d6604d"/>
<rect x="271.50" y="233.86" width="6.75" height="9.68" fill="#c43c3c"/>
<rect x="277.85" y="233.86" width="6.75" height="9.68" fill="#d6604d"/>
<rect x="284.20" y="233.86" width="6.75" height="9.68" fill="#e58268"/>
<rect x="290.55" y="233.86" width="13.10" height="9.68" fill="#d6604d"/>
<rect x="303.25" y="233.86" width="13.10" height="9.68" fill="#b2182b"/>
<rect x="315.95" y="233.86" width="6.75" height="9.68" fill="#8c0c25"/>
<rect x="322.30" y="233.86" width="6.75" height="9.68" fill="#b2182b"/>
<rect x="328.65" y="233.86" width="6.75" height="9.68" fill="#f4a582"/>
<rect x="335.00" y="233.86" width="32.15" height="9.68" fill="#e58268"/>
<rect x="366.75" y="233.86" width="13.10" height="9.68" fill="#f4a582"/>
<rect x="379.45" y="233.86" width="6.75" height="9.68" fill="#e58268"/>
<rect x="385.80" y="233.86" width="13.10" height="9.68" fill="#d6604d"/>
<rect x="398.50" y="233.86" width="6.75" height="9.68" fill="#e58268"/>
<rect x="404.85" y="233.86" width="6.75" height="9.68" fill="#c43c3c"/>
<rect x="411.20" y="233.86" width="6.75" height="9.68" fill="#b2182b"/>
<rect x="417.55" y="233.86" width="32.15" height="9.68" fill="#d6604d"/>
<rect x="449.30" y="233.86" width="6.75" height="9.68" fill="#c43c3c"/>
<rect x="455.65" y="233.86" width="13.10" height="9.68" fill="#d6604d"/>
<rect x="468.35" y="233.86" width="13.10" height="9.68" fill="#92c5de"/>
<rect x="481.05" y="233.86" width="6.75" height="9.68" fill="#b2d5e7"/>
<rect x="487.40" y="233.86" width="6.75" height="9.68" fill="#d1e5f0"/>
<rect x="493.75" y="233.86" width="13.10" height="9.68" fill="#92c5de"/>
<rect x="506.45" y="233.86" width="6.75" height="9.68" fill="#b2d5e7"/>
<rect x="512.80" y="233.86" width="13.10" height="9.68" fill="#92c5de"/>
<rect x="525.50" y="233.86" width="6.75" height="9.68" fill="#d6604d"/>
<rect x="531.85" y="233.86" width="6.75" height="9.68" fill="#f4a582"/>
<rect x="538.20" y="233.86" width="13.10" height="9.68" fill="#fae9df"/>
<rect x="550.90" y="233.86" width="6.75" height="9.68" fill="#f4a582"/>
<rect x="557.25" y="233.86" width="6.75" height="9.68" fill="#fae9df"/>
<rect x="563.60" y="233.86" width="6.75" height="9.68" fill="#fddbc7"/>
<rect x="569.95" y="233.86" width="6.75" height="9.68" fill="#b2182b"/>
<rect x="576.30" y="233.86" width="6.75" height="9.68" fill="#67001f"/>
<rect x="582.65" y="233.86" width="6.75" height="9.68" fill="#fae9df"/>
<rect x="589.00" y="233.86" width="6.75" height="9.68" fill="#f7f7f7"/>
<rect x="595.35" y="233.86" width="6.75" height="9.68" fill="#fddbc7"/>
<rect x="601.70" y="233.86" width="13.10" height="9.68" fill="#4393c3"/>
<rect x="81.00" y="243.14" width="6.75" height="9.68" fill="#d1e5f0"/>
<rect x="87.35" y="243.14" width="19.45" height="9.68" fill="#f7f7f7"/>
<rect x="106.40" y="243.14" width="25.80" height="9.68" fill="#b2182b"/>
<rect x="131.80" y="243.14" width="6.75" height="9.68" fill="#fddbc7"/>
<rect x="138.15" y="243.14" width="13.10" height="9.68" fill="#f8c0a4"/>
<rect x="150.85" y="243.14" width="6.75" height="9.68" fill="#e58268"/>
<rect x="157.20" y="243.14" width="13.10" height="9.68" fill="#b2182b"/>
<rect x="169.90" y="243.14" width="6.75" height="9.68" fill="#fddbc7"/>
<rect x="176.25" y="243.14" width="19.45" height="9.68" fill="#f4a582"/>
<rect x="195.30" y="243.14" width="13.10" height="9.68" fill="#f8c0a4"/>
<rect x="208.00" y="243.14" width="6.75" height="9.68" fill="#8c0c25"/>
<rect x="214.35" y="243.14" width="6.75" height="9.68" fill="#b2182b"/>
<rect x="220.70" y="243.14" width="13.10" height="9.68" fill="#c43c3c"/>
<rect x="233.40" y="243.14" width="6.75" height="9.68" fill="#e58268"/>
<rect x="239.75" y="243.14" width="6.75" height="9.68" fill="#d6604d"/>
<rect x="246.10" y="243.14" width="6.75" height="9.68" fill="#f4a582"/>
<rect x="252.45" y="243.14" width="6.75" height="9.68" fill="#b2182b"/>
<rect x="258.80" y="243.14" width="13.10" height="9.68" fill="#d6604d"/>
<rect x="271.50" y="243.14" width="13.10" height="9.68" fill="#c43c3c"/>
<rect x="284.20" y="243.14" width="6.75" height="9.68" fill="#d6604d"/>
<rect x="290.55" y="243.14" width="6.75" height="9.68" fill="#c43c3c"/>
<rect x="296.90" y="243.14" width="6.75" height="9.68" fill="#d6604d"/>
<rect x="303.25" y="243.14" width="13.10" height="9.68" fill="#b2182b"/>
<rect x="315.95" y="243.14" width="6.75" height="9.68" fill="#8c0c25"/>
<rect x="322.30" y="243.14" width="6.75" height="9.68" fill="#b2182b"/>
<rect x="328.65" y="243.14" width="6.75" height="9.68" fill="#f4a582"/>
<rect x="335.00" y="243.14" width="6.75" height="9.68" fill="#d6604d"/>
<rect x="341.35" y="243.14" width="25.80" height="9.68" fill="#e58268"/>
<rect x="366.75" y="243.14" width="13.10" height="9.68" fill="#f4a582"/>
<rect x="379.45" y="243.14" width="13.10" height="9.68" fill="#e58268"/>
<rect x="392.15" y="243.14" width="6.75" height="9.68" fill="#d6604d"/>
<rect x="398.50" y="243.14" width="6.75" height="9.68" fill="#e58268"/>
<rect x="404.85" y="243.14" width="44.85" height="9.68" fill="#d6604d"/>
<rect x="449.30" y="243.14" width="19.45" height="9.68" fill="#c43c3c"/>
<rect x="468.35" y="243.14" width="6.75" height="9.68" fill="#92c5de"/>
<rect x="474.70" y="243.14" width="6.75" height="9.68" fill="#6aacd0"/>
<rect x="481.05" y="243.14" width="6.75" height="9.68" fill="#92c5de"/>
<rect x="487.40" y="243.14" width="6.75" height="9.68" fill="#b2d5e7"/>
<rect x="493.75" y="243.14" width="13.10" height="9.68" fill="#6aacd0"/>
<rect x="506.45" y="243.14" width="13.10" height="9.68" fill="#92c5de"/>
<rect x="519.15" y="243.14" width="6.75" height="9.68" fill="#6aacd0"/>
<rect x="525.50" y="243.14" width="6.75" height="9.68" fill="#f4a582"/>
<rect x="531.85" y="243.14" width="6.75" height="9.68" fill="#fddbc7"/>
<rect x="538.20" y="243.14" width="13.10" height="9.68" fill="#f7f7f7"/>
<rect x="550.90" y="243.14" width="6.75" height="9.68" fill="#f4a582"/>
<rect x="557.25" y="243.14" width="6.75" height="9.68" fill="#f7f7f7"/>
<rect x="563.60" y="243.14" width="6.75" height="9.68" fill="#fae9df"/>
<rect x="569.95" y="243.14" width="13.10" height="9.68" fill="#b2182b"/>
<rect x="582.65" y="243.14" width="6.75" height="9.68" fill="#f8c0a4"/>
<rect x="589.00" y="243.14" width="6.75" height="9.68" fill="#fddbc7"/>
<rect x="595.35" y="243.14" width="6.75" height="9.68" fill="#fae9df"/>
<rect x="601.70" y="243.14" width="13.10" height="9.68" fill="#4393c3"/>
<rect x="81.00" y="252.42" width="6.75" height="9.68" fill="#d1e5f0"/>
<rect x="87.35" y="252.42" width="19.45" height="9.68" fill="#f7f7f7"/>
<rect x="106.40" y="252.42" width="13.10" height="9.68" fill="#b2182b"/>
<rect x="119.10" y="252.42" width="13.10" height="9.68" fill="#8c0c25"/>
<rect x="131.80" y="252.42" width="6.75" height="9.68" fill="#fddbc7"/>
<rect x="138.15" y="252.42" width="6.75" height="9.68" fill="#fae9df"/>
<rect x="144.50" y="252.42" width="6.75" height="9.68" fill="#f8c0a4"/>
<rect x="150.85" y="252.42" width="6.75" height="9.68" fill="#e58268"/>
<rect x="157.20" y="252.42" width="13.10" height="9.68" fill="#b2182b"/>
<rect x="169.90" y="252.42" width="6.75" height="9.68" fill="#fae9df"/>
<rect x="176.25" y="252.42" width="19.45" height="9.68" fill="#f8c0a4"/>
<rect x="195.30" y="252.42" width="6.75" height="9.68" fill="#fddbc7"/>
<rect x="201.65" y="252.42" width="6.75" height="9.68" fill="#f8c0a4"/>
<rect x="208.00" y="252.42" width="6.75" height="9.68" fill="#b2182b"/>
<rect x="214.35" y="252.42" width="13.10" height="9.68" fill="#c43c3c"/>
<rect x="227.05" y="252.42" width="6.75" height="9.68" fill="#d6604d"/>
<rect x="233.40" y="252.42" width="13.10" height="9.68" fill="#c43c3c"/>
<rect x="246.10" y="252.42" width="25.80" height="9.68" fill="#d6604d"/>
<rect x="271.50" y="252.42" width="6.75" height="9.68" fill="#c43c3c"/>
<rect x="277.85" y="252.42" width="25.80" height="9.68" fill="#d6604d"/>
<rect x="303.25" y="252.42" width="6.75" height="9.68" fill="#c43c3c"/>
<rect x="309.60" y="252.42" width="13.10" height="9.68" fill="#b2182b"/>
<rect x="322.30" y="252.42" width="6.75" height="9.68" fill="#c43c3c"/>
<rect x="328.65" y="252.42" width="6.75" height="9.68" fill="#f4a582"/>
<rect x="335.00" y="252.42" width="32.15" height="9.68" fill="#e58268"/>
<rect x="366.75" y="252.42" width="13.10" height="9.68" fill="#f4a582"/>
<rect x="379.45" y="252.42" width="13.10" height="9.68" fill="#e58268"/>
<rect x="392.15" y="252.42" width="6.75" height="9.68" fill="#d6604d"/>
<rect x="398.50" y="252.42" width="6.75" height="9.68" fill="#e58268"/>
<rect x="404.85" y="252.42" width="44.85" height="9.68" fill="#d6604d"/>
<rect x="449.30" y="252.42" width="19.45" height="9.68" fill="#c43c3c"/>
<rect x="468.35" y="252.42" width="6.75" height="9.68" fill="#92c5de"/>
<rect x="474.70" y="252.42" width="6.75" height="9.68" fill="#6aacd0"/>
<rect x="481.05" y="252.42" width="25.80" height="9.68" fill="#4393c3"/>
<rect x="506.45" y="252.42" width="6.75" height="9.68" fill="#92c5de"/>
<rect x="512.80" y="252.42" width="13.10" height="9.68" fill="#4393c3"/>
<rect x="525.50" y="252.42" width="6.75" height="9.68" fill="#f8c0a4"/>
<rect x="531.85" y="252.42" width="6.75" height="9.68" fill="#fddbc7"/>
<rect x="538.20" y="252.42" width="13.10" height="9.68" fill="#f7f7f7"/>
<rect x="550.90" y="252.42" width="6.75" height="9.68" fill="#f4a582"/>
<rect x="557.25" y="252.42" width="6.75" height="9.68" fill="#f7f7f7"/>
<rect x="563.60" y="252.42" width="6.75" height="9.68" fill="#fae9df"/>
<rect x="569.95" y="252.42" width="6.75" height="9.68" fill="#b2182b"/>
<rect x="576.30" y="252.42" width="6.75" height="9.68" fill="#c43c3c"/>
<rect x="582.65" y="252.42" width="6.75" height="9.68" fill="#d6604d"/>
<rect x="589.00" y="252.42" width="6.75" height="9.68" fill="#f4a582"/>
<rect x="595.35" y="252.42" width="6.75" height="9.68" fill="#fae9df"/>
<rect x="601.70" y="252.42" width="13.10" height="9.68" fill="#4393c3"/>
</g>
<rect x="614.4" y="60" width="3" height="210" fill="#fff"/>
<rect x="75" y="261.7" width="545" height="3" fill="#fff"/>
<line x1="614.4" y1="71.44" x2="617.8" y2="71.44" stroke="#222" stroke-width="0.8"/>
<text x="621" y="74.04" font-family="DejaVu Sans, Liberation Sans, sans-serif" font-size="7.1" fill="#222" stroke="#222" stroke-width="0.12">Normoblast</text>
<line x1="614.4" y1="80.72" x2="617.8" y2="80.72" stroke="#222" stroke-width="0.8"/>
<text x="621" y="83.32" font-family="DejaVu Sans, Liberation Sans, sans-serif" font-size="7.1" fill="#222" stroke="#222" stroke-width="0.12">Erythroblast</text>
<line x1="614.4" y1="90.00" x2="617.8" y2="90.00" stroke="#222" stroke-width="0.8"/>
<text x="621" y="92.60" font-family="DejaVu Sans, Liberation Sans, sans-serif" font-size="7.1" fill="#222" stroke="#222" stroke-width="0.12">Proerythroblast</text>
<line x1="614.4" y1="99.28" x2="617.8" y2="99.28" stroke="#222" stroke-width="0.8"/>
<text x="621" y="101.88" font-family="DejaVu Sans, Liberation Sans, sans-serif" font-size="7.1" fill="#222" stroke="#222" stroke-width="0.12">cDC2</text>
<line x1="614.4" y1="108.56" x2="617.8" y2="108.56" stroke="#222" stroke-width="0.8"/>
<text x="621" y="111.16" font-family="DejaVu Sans, Liberation Sans, sans-serif" font-size="7.1" fill="#222" stroke="#222" stroke-width="0.12">CD14+ Mono</text>
<line x1="614.4" y1="117.85" x2="617.8" y2="117.85" stroke="#222" stroke-width="0.8"/>
<text x="621" y="120.45" font-family="DejaVu Sans, Liberation Sans, sans-serif" font-size="7.1" fill="#222" stroke="#222" stroke-width="0.12">CD16+ Mono</text>
<line x1="614.4" y1="127.13" x2="617.8" y2="127.13" stroke="#222" stroke-width="0.8"/>
<text x="621" y="129.73" font-family="DejaVu Sans, Liberation Sans, sans-serif" font-size="7.1" fill="#222" stroke="#222" stroke-width="0.12">ILC</text>
<line x1="614.4" y1="136.41" x2="617.8" y2="136.41" stroke="#222" stroke-width="0.8"/>
<text x="621" y="139.01" font-family="DejaVu Sans, Liberation Sans, sans-serif" font-size="7.1" fill="#222" stroke="#222" stroke-width="0.12">NK</text>
<line x1="614.4" y1="145.69" x2="617.8" y2="145.69" stroke="#222" stroke-width="0.8"/>
<text x="621" y="148.29" font-family="DejaVu Sans, Liberation Sans, sans-serif" font-size="7.1" fill="#222" stroke="#222" stroke-width="0.12">CD8+ T naive</text>
<line x1="614.4" y1="154.97" x2="617.8" y2="154.97" stroke="#222" stroke-width="0.8"/>
<text x="621" y="157.57" font-family="DejaVu Sans, Liberation Sans, sans-serif" font-size="7.1" fill="#222" stroke="#222" stroke-width="0.12">CD8+ T activated</text>
<line x1="614.4" y1="164.25" x2="617.8" y2="164.25" stroke="#222" stroke-width="0.8"/>
<text x="621" y="166.85" font-family="DejaVu Sans, Liberation Sans, sans-serif" font-size="7.1" fill="#222" stroke="#222" stroke-width="0.12">CD4+ T activated</text>
<line x1="614.4" y1="173.53" x2="617.8" y2="173.53" stroke="#222" stroke-width="0.8"/>
<text x="621" y="176.13" font-family="DejaVu Sans, Liberation Sans, sans-serif" font-size="7.1" fill="#222" stroke="#222" stroke-width="0.12">CD4+ T naive</text>
<line x1="614.4" y1="182.81" x2="617.8" y2="182.81" stroke="#222" stroke-width="0.8"/>
<text x="621" y="185.41" font-family="DejaVu Sans, Liberation Sans, sans-serif" font-size="7.1" fill="#222" stroke="#222" stroke-width="0.12">HSC</text>
<line x1="614.4" y1="192.09" x2="617.8" y2="192.09" stroke="#222" stroke-width="0.8"/>
<text x="621" y="194.69" font-family="DejaVu Sans, Liberation Sans, sans-serif" font-size="7.1" fill="#222" stroke="#222" stroke-width="0.12">MK/E prog</text>
<line x1="614.4" y1="201.37" x2="617.8" y2="201.37" stroke="#222" stroke-width="0.8"/>
<text x="621" y="203.97" font-family="DejaVu Sans, Liberation Sans, sans-serif" font-size="7.1" fill="#222" stroke="#222" stroke-width="0.12">G/M prog</text>
<line x1="614.4" y1="210.65" x2="617.8" y2="210.65" stroke="#222" stroke-width="0.8"/>
<text x="621" y="213.25" font-family="DejaVu Sans, Liberation Sans, sans-serif" font-size="7.1" fill="#222" stroke="#222" stroke-width="0.12">pDC</text>
<line x1="614.4" y1="219.94" x2="617.8" y2="219.94" stroke="#222" stroke-width="0.8"/>
<text x="621" y="222.54" font-family="DejaVu Sans, Liberation Sans, sans-serif" font-size="7.1" fill="#222" stroke="#222" stroke-width="0.12">Early Lymphoid</text>
<line x1="614.4" y1="229.22" x2="617.8" y2="229.22" stroke="#222" stroke-width="0.8"/>
<text x="621" y="231.82" font-family="DejaVu Sans, Liberation Sans, sans-serif" font-size="7.1" fill="#222" stroke="#222" stroke-width="0.12">Transitional B</text>
<line x1="614.4" y1="238.50" x2="617.8" y2="238.50" stroke="#222" stroke-width="0.8"/>
<text x="621" y="241.10" font-family="DejaVu Sans, Liberation Sans, sans-serif" font-size="7.1" fill="#222" stroke="#222" stroke-width="0.12">Plasma</text>
<line x1="614.4" y1="247.78" x2="617.8" y2="247.78" stroke="#222" stroke-width="0.8"/>
<text x="621" y="250.38" font-family="DejaVu Sans, Liberation Sans, sans-serif" font-size="7.1" fill="#222" stroke="#222" stroke-width="0.12">B1 B</text>
<line x1="614.4" y1="257.06" x2="617.8" y2="257.06" stroke="#222" stroke-width="0.8"/>
<text x="621" y="259.66" font-family="DejaVu Sans, Liberation Sans, sans-serif" font-size="7.1" fill="#222" stroke="#222" stroke-width="0.12">Naive CD20+ B</text>
<text transform="translate(85.62,268.5) rotate(-90)" text-anchor="end" font-family="DejaVu Sans, Liberation Sans, sans-serif" font-size="7.0" fill="#222" stroke="#222" stroke-width="0.12">E2F8</text>
<text transform="translate(91.98,268.5) rotate(-90)" text-anchor="end" font-family="DejaVu Sans, Liberation Sans, sans-serif" font-size="7.0" fill="#222" stroke="#222" stroke-width="0.12">GATA3</text>
<text transform="translate(98.33,268.5) rotate(-90)" text-anchor="end" font-family="DejaVu Sans, Liberation Sans, sans-serif" font-size="7.0" fill="#222" stroke="#222" stroke-width="0.12">GATA1</text>
<text transform="translate(104.67,268.5) rotate(-90)" text-anchor="end" font-family="DejaVu Sans, Liberation Sans, sans-serif" font-size="7.0" fill="#222" stroke="#222" stroke-width="0.12">TRPS1</text>
<text transform="translate(111.03,268.5) rotate(-90)" text-anchor="end" font-family="DejaVu Sans, Liberation Sans, sans-serif" font-size="7.0" fill="#222" stroke="#222" stroke-width="0.12">EBF1</text>
<text transform="translate(117.38,268.5) rotate(-90)" text-anchor="end" font-family="DejaVu Sans, Liberation Sans, sans-serif" font-size="7.0" fill="#222" stroke="#222" stroke-width="0.12">PAX5</text>
<text transform="translate(123.73,268.5) rotate(-90)" text-anchor="end" font-family="DejaVu Sans, Liberation Sans, sans-serif" font-size="7.0" fill="#222" stroke="#222" stroke-width="0.12">ASCL2</text>
<text transform="translate(130.07,268.5) rotate(-90)" text-anchor="end" font-family="DejaVu Sans, Liberation Sans, sans-serif" font-size="7.0" fill="#222" stroke="#222" stroke-width="0.12">TFAP4</text>
<text transform="translate(136.42,268.5) rotate(-90)" text-anchor="end" font-family="DejaVu Sans, Liberation Sans, sans-serif" font-size="7.0" fill="#222" stroke="#222" stroke-width="0.12">E2F2</text>
<text transform="translate(142.77,268.5) rotate(-90)" text-anchor="end" font-family="DejaVu Sans, Liberation Sans, sans-serif" font-size="7.0" fill="#222" stroke="#222" stroke-width="0.12">E2F7</text>
<text transform="translate(149.12,268.5) rotate(-90)" text-anchor="end" font-family="DejaVu Sans, Liberation Sans, sans-serif" font-size="7.0" fill="#222" stroke="#222" stroke-width="0.12">MAF</text>
<text transform="translate(155.47,268.5) rotate(-90)" text-anchor="end" font-family="DejaVu Sans, Liberation Sans, sans-serif" font-size="7.0" fill="#222" stroke="#222" stroke-width="0.12">MYB</text>
<text transform="translate(161.82,268.5) rotate(-90)" text-anchor="end" font-family="DejaVu Sans, Liberation Sans, sans-serif" font-size="7.0" fill="#222" stroke="#222" stroke-width="0.12">MEF2C</text>
<text transform="translate(168.17,268.5) rotate(-90)" text-anchor="end" font-family="DejaVu Sans, Liberation Sans, sans-serif" font-size="7.0" fill="#222" stroke="#222" stroke-width="0.12">TAL1</text>
<text transform="translate(174.52,268.5) rotate(-90)" text-anchor="end" font-family="DejaVu Sans, Liberation Sans, sans-serif" font-size="7.0" fill="#222" stroke="#222" stroke-width="0.12">KLF2</text>
<text transform="translate(180.88,268.5) rotate(-90)" text-anchor="end" font-family="DejaVu Sans, Liberation Sans, sans-serif" font-size="7.0" fill="#222" stroke="#222" stroke-width="0.12">KLF4</text>
<text transform="translate(187.22,268.5) rotate(-90)" text-anchor="end" font-family="DejaVu Sans, Liberation Sans, sans-serif" font-size="7.0" fill="#222" stroke="#222" stroke-width="0.12">KLF6</text>
<text transform="translate(193.57,268.5) rotate(-90)" text-anchor="end" font-family="DejaVu Sans, Liberation Sans, sans-serif" font-size="7.0" fill="#222" stroke="#222" stroke-width="0.12">KLF1</text>
<text transform="translate(199.92,268.5) rotate(-90)" text-anchor="end" font-family="DejaVu Sans, Liberation Sans, sans-serif" font-size="7.0" fill="#222" stroke="#222" stroke-width="0.12">KLF12</text>
<text transform="translate(206.27,268.5) rotate(-90)" text-anchor="end" font-family="DejaVu Sans, Liberation Sans, sans-serif" font-size="7.0" fill="#222" stroke="#222" stroke-width="0.12">LEF1</text>
<text transform="translate(212.62,268.5) rotate(-90)" text-anchor="end" font-family="DejaVu Sans, Liberation Sans, sans-serif" font-size="7.0" fill="#222" stroke="#222" stroke-width="0.12">ESR1</text>
<text transform="translate(218.97,268.5) rotate(-90)" text-anchor="end" font-family="DejaVu Sans, Liberation Sans, sans-serif" font-size="7.0" fill="#222" stroke="#222" stroke-width="0.12">EOMES</text>
<text transform="translate(225.32,268.5) rotate(-90)" text-anchor="end" font-family="DejaVu Sans, Liberation Sans, sans-serif" font-size="7.0" fill="#222" stroke="#222" stroke-width="0.12">TBX21</text>
<text transform="translate(231.67,268.5) rotate(-90)" text-anchor="end" font-family="DejaVu Sans, Liberation Sans, sans-serif" font-size="7.0" fill="#222" stroke="#222" stroke-width="0.12">MXI1</text>
<text transform="translate(238.02,268.5) rotate(-90)" text-anchor="end" font-family="DejaVu Sans, Liberation Sans, sans-serif" font-size="7.0" fill="#222" stroke="#222" stroke-width="0.12">SOX4</text>
<text transform="translate(244.37,268.5) rotate(-90)" text-anchor="end" font-family="DejaVu Sans, Liberation Sans, sans-serif" font-size="7.0" fill="#222" stroke="#222" stroke-width="0.12">SOX13</text>
<text transform="translate(250.72,268.5) rotate(-90)" text-anchor="end" font-family="DejaVu Sans, Liberation Sans, sans-serif" font-size="7.0" fill="#222" stroke="#222" stroke-width="0.12">SOX6</text>
<text transform="translate(257.07,268.5) rotate(-90)" text-anchor="end" font-family="DejaVu Sans, Liberation Sans, sans-serif" font-size="7.0" fill="#222" stroke="#222" stroke-width="0.12">CREB5</text>
<text transform="translate(263.43,268.5) rotate(-90)" text-anchor="end" font-family="DejaVu Sans, Liberation Sans, sans-serif" font-size="7.0" fill="#222" stroke="#222" stroke-width="0.12">JDP2</text>
<text transform="translate(269.77,268.5) rotate(-90)" text-anchor="end" font-family="DejaVu Sans, Liberation Sans, sans-serif" font-size="7.0" fill="#222" stroke="#222" stroke-width="0.12">XBP1</text>
<text transform="translate(276.12,268.5) rotate(-90)" text-anchor="end" font-family="DejaVu Sans, Liberation Sans, sans-serif" font-size="7.0" fill="#222" stroke="#222" stroke-width="0.12">MBNL2</text>
<text transform="translate(282.47,268.5) rotate(-90)" text-anchor="end" font-family="DejaVu Sans, Liberation Sans, sans-serif" font-size="7.0" fill="#222" stroke="#222" stroke-width="0.12">TFEC</text>
<text transform="translate(288.82,268.5) rotate(-90)" text-anchor="end" font-family="DejaVu Sans, Liberation Sans, sans-serif" font-size="7.0" fill="#222" stroke="#222" stroke-width="0.12">HIF1A</text>
<text transform="translate(295.18,268.5) rotate(-90)" text-anchor="end" font-family="DejaVu Sans, Liberation Sans, sans-serif" font-size="7.0" fill="#222" stroke="#222" stroke-width="0.12">SPI1</text>
<text transform="translate(301.52,268.5) rotate(-90)" text-anchor="end" font-family="DejaVu Sans, Liberation Sans, sans-serif" font-size="7.0" fill="#222" stroke="#222" stroke-width="0.12">SPIB</text>
<text transform="translate(307.87,268.5) rotate(-90)" text-anchor="end" font-family="DejaVu Sans, Liberation Sans, sans-serif" font-size="7.0" fill="#222" stroke="#222" stroke-width="0.12">IRF1</text>
<text transform="translate(314.22,268.5) rotate(-90)" text-anchor="end" font-family="DejaVu Sans, Liberation Sans, sans-serif" font-size="7.0" fill="#222" stroke="#222" stroke-width="0.12">PRDM1</text>
<text transform="translate(320.57,268.5) rotate(-90)" text-anchor="end" font-family="DejaVu Sans, Liberation Sans, sans-serif" font-size="7.0" fill="#222" stroke="#222" stroke-width="0.12">IRF4</text>
<text transform="translate(326.93,268.5) rotate(-90)" text-anchor="end" font-family="DejaVu Sans, Liberation Sans, sans-serif" font-size="7.0" fill="#222" stroke="#222" stroke-width="0.12">IRF5</text>
<text transform="translate(333.27,268.5) rotate(-90)" text-anchor="end" font-family="DejaVu Sans, Liberation Sans, sans-serif" font-size="7.0" fill="#222" stroke="#222" stroke-width="0.12">STAT4</text>
<text transform="translate(339.62,268.5) rotate(-90)" text-anchor="end" font-family="DejaVu Sans, Liberation Sans, sans-serif" font-size="7.0" fill="#222" stroke="#222" stroke-width="0.12">ETV6</text>
<text transform="translate(345.97,268.5) rotate(-90)" text-anchor="end" font-family="DejaVu Sans, Liberation Sans, sans-serif" font-size="7.0" fill="#222" stroke="#222" stroke-width="0.12">FLI1</text>
<text transform="translate(352.32,268.5) rotate(-90)" text-anchor="end" font-family="DejaVu Sans, Liberation Sans, sans-serif" font-size="7.0" fill="#222" stroke="#222" stroke-width="0.12">ERG</text>
<text transform="translate(358.67,268.5) rotate(-90)" text-anchor="end" font-family="DejaVu Sans, Liberation Sans, sans-serif" font-size="7.0" fill="#222" stroke="#222" stroke-width="0.12">ETS1</text>
<text transform="translate(365.02,268.5) rotate(-90)" text-anchor="end" font-family="DejaVu Sans, Liberation Sans, sans-serif" font-size="7.0" fill="#222" stroke="#222" stroke-width="0.12">RUNX3</text>
<text transform="translate(371.38,268.5) rotate(-90)" text-anchor="end" font-family="DejaVu Sans, Liberation Sans, sans-serif" font-size="7.0" fill="#222" stroke="#222" stroke-width="0.12">RUNX1</text>
<text transform="translate(377.72,268.5) rotate(-90)" text-anchor="end" font-family="DejaVu Sans, Liberation Sans, sans-serif" font-size="7.0" fill="#222" stroke="#222" stroke-width="0.12">RUNX2</text>
<text transform="translate(384.07,268.5) rotate(-90)" text-anchor="end" font-family="DejaVu Sans, Liberation Sans, sans-serif" font-size="7.0" fill="#222" stroke="#222" stroke-width="0.12">GLI1</text>
<text transform="translate(390.42,268.5) rotate(-90)" text-anchor="end" font-family="DejaVu Sans, Liberation Sans, sans-serif" font-size="7.0" fill="#222" stroke="#222" stroke-width="0.12">NR6A1</text>
<text transform="translate(396.77,268.5) rotate(-90)" text-anchor="end" font-family="DejaVu Sans, Liberation Sans, sans-serif" font-size="7.0" fill="#222" stroke="#222" stroke-width="0.12">AHR</text>
<text transform="translate(403.12,268.5) rotate(-90)" text-anchor="end" font-family="DejaVu Sans, Liberation Sans, sans-serif" font-size="7.0" fill="#222" stroke="#222" stroke-width="0.12">KLF8</text>
<text transform="translate(409.47,268.5) rotate(-90)" text-anchor="end" font-family="DejaVu Sans, Liberation Sans, sans-serif" font-size="7.0" fill="#222" stroke="#222" stroke-width="0.12">PBX3</text>
<text transform="translate(415.82,268.5) rotate(-90)" text-anchor="end" font-family="DejaVu Sans, Liberation Sans, sans-serif" font-size="7.0" fill="#222" stroke="#222" stroke-width="0.12">HIC1</text>
<text transform="translate(422.17,268.5) rotate(-90)" text-anchor="end" font-family="DejaVu Sans, Liberation Sans, sans-serif" font-size="7.0" fill="#222" stroke="#222" stroke-width="0.12">MEIS1</text>
<text transform="translate(428.52,268.5) rotate(-90)" text-anchor="end" font-family="DejaVu Sans, Liberation Sans, sans-serif" font-size="7.0" fill="#222" stroke="#222" stroke-width="0.12">FOXO3</text>
<text transform="translate(434.87,268.5) rotate(-90)" text-anchor="end" font-family="DejaVu Sans, Liberation Sans, sans-serif" font-size="7.0" fill="#222" stroke="#222" stroke-width="0.12">TCF7</text>
<text transform="translate(441.22,268.5) rotate(-90)" text-anchor="end" font-family="DejaVu Sans, Liberation Sans, sans-serif" font-size="7.0" fill="#222" stroke="#222" stroke-width="0.12">FOXP1</text>
<text transform="translate(447.57,268.5) rotate(-90)" text-anchor="end" font-family="DejaVu Sans, Liberation Sans, sans-serif" font-size="7.0" fill="#222" stroke="#222" stroke-width="0.12">FOXP2</text>
<text transform="translate(453.92,268.5) rotate(-90)" text-anchor="end" font-family="DejaVu Sans, Liberation Sans, sans-serif" font-size="7.0" fill="#222" stroke="#222" stroke-width="0.12">PBX1</text>
<text transform="translate(460.27,268.5) rotate(-90)" text-anchor="end" font-family="DejaVu Sans, Liberation Sans, sans-serif" font-size="7.0" fill="#222" stroke="#222" stroke-width="0.12">ZEB1</text>
<text transform="translate(466.62,268.5) rotate(-90)" text-anchor="end" font-family="DejaVu Sans, Liberation Sans, sans-serif" font-size="7.0" fill="#222" stroke="#222" stroke-width="0.12">ZEB2</text>
<text transform="translate(472.97,268.5) rotate(-90)" text-anchor="end" font-family="DejaVu Sans, Liberation Sans, sans-serif" font-size="7.0" fill="#222" stroke="#222" stroke-width="0.12">NFE2</text>
<text transform="translate(479.32,268.5) rotate(-90)" text-anchor="end" font-family="DejaVu Sans, Liberation Sans, sans-serif" font-size="7.0" fill="#222" stroke="#222" stroke-width="0.12">BACH1</text>
<text transform="translate(485.67,268.5) rotate(-90)" text-anchor="end" font-family="DejaVu Sans, Liberation Sans, sans-serif" font-size="7.0" fill="#222" stroke="#222" stroke-width="0.12">BACH2</text>
<text transform="translate(492.02,268.5) rotate(-90)" text-anchor="end" font-family="DejaVu Sans, Liberation Sans, sans-serif" font-size="7.0" fill="#222" stroke="#222" stroke-width="0.12">MAFF</text>
<text transform="translate(498.37,268.5) rotate(-90)" text-anchor="end" font-family="DejaVu Sans, Liberation Sans, sans-serif" font-size="7.0" fill="#222" stroke="#222" stroke-width="0.12">FOSL2</text>
<text transform="translate(504.72,268.5) rotate(-90)" text-anchor="end" font-family="DejaVu Sans, Liberation Sans, sans-serif" font-size="7.0" fill="#222" stroke="#222" stroke-width="0.12">JUNB</text>
<text transform="translate(511.07,268.5) rotate(-90)" text-anchor="end" font-family="DejaVu Sans, Liberation Sans, sans-serif" font-size="7.0" fill="#222" stroke="#222" stroke-width="0.12">JUN</text>
<text transform="translate(517.42,268.5) rotate(-90)" text-anchor="end" font-family="DejaVu Sans, Liberation Sans, sans-serif" font-size="7.0" fill="#222" stroke="#222" stroke-width="0.12">FOS</text>
<text transform="translate(523.78,268.5) rotate(-90)" text-anchor="end" font-family="DejaVu Sans, Liberation Sans, sans-serif" font-size="7.0" fill="#222" stroke="#222" stroke-width="0.12">FOSB</text>
<text transform="translate(530.12,268.5) rotate(-90)" text-anchor="end" font-family="DejaVu Sans, Liberation Sans, sans-serif" font-size="7.0" fill="#222" stroke="#222" stroke-width="0.12">ESR2</text>
<text transform="translate(536.48,268.5) rotate(-90)" text-anchor="end" font-family="DejaVu Sans, Liberation Sans, sans-serif" font-size="7.0" fill="#222" stroke="#222" stroke-width="0.12">RORB</text>
<text transform="translate(542.83,268.5) rotate(-90)" text-anchor="end" font-family="DejaVu Sans, Liberation Sans, sans-serif" font-size="7.0" fill="#222" stroke="#222" stroke-width="0.12">RXRA</text>
<text transform="translate(549.17,268.5) rotate(-90)" text-anchor="end" font-family="DejaVu Sans, Liberation Sans, sans-serif" font-size="7.0" fill="#222" stroke="#222" stroke-width="0.12">TFDP1</text>
<text transform="translate(555.53,268.5) rotate(-90)" text-anchor="end" font-family="DejaVu Sans, Liberation Sans, sans-serif" font-size="7.0" fill="#222" stroke="#222" stroke-width="0.12">MITF</text>
<text transform="translate(561.88,268.5) rotate(-90)" text-anchor="end" font-family="DejaVu Sans, Liberation Sans, sans-serif" font-size="7.0" fill="#222" stroke="#222" stroke-width="0.12">CEBPD</text>
<text transform="translate(568.23,268.5) rotate(-90)" text-anchor="end" font-family="DejaVu Sans, Liberation Sans, sans-serif" font-size="7.0" fill="#222" stroke="#222" stroke-width="0.12">HLF</text>
<text transform="translate(574.58,268.5) rotate(-90)" text-anchor="end" font-family="DejaVu Sans, Liberation Sans, sans-serif" font-size="7.0" fill="#222" stroke="#222" stroke-width="0.12">REL</text>
<text transform="translate(580.92,268.5) rotate(-90)" text-anchor="end" font-family="DejaVu Sans, Liberation Sans, sans-serif" font-size="7.0" fill="#222" stroke="#222" stroke-width="0.12">RORA</text>
<text transform="translate(587.28,268.5) rotate(-90)" text-anchor="end" font-family="DejaVu Sans, Liberation Sans, sans-serif" font-size="7.0" fill="#222" stroke="#222" stroke-width="0.12">SOX30</text>
<text transform="translate(593.62,268.5) rotate(-90)" text-anchor="end" font-family="DejaVu Sans, Liberation Sans, sans-serif" font-size="7.0" fill="#222" stroke="#222" stroke-width="0.12">SOX5</text>
<text transform="translate(599.98,268.5) rotate(-90)" text-anchor="end" font-family="DejaVu Sans, Liberation Sans, sans-serif" font-size="7.0" fill="#222" stroke="#222" stroke-width="0.12">CUX1</text>
<text transform="translate(606.33,268.5) rotate(-90)" text-anchor="end" font-family="DejaVu Sans, Liberation Sans, sans-serif" font-size="7.0" fill="#222" stroke="#222" stroke-width="0.12">NFIA</text>
<text transform="translate(612.68,268.5) rotate(-90)" text-anchor="end" font-family="DejaVu Sans, Liberation Sans, sans-serif" font-size="7.0" fill="#222" stroke="#222" stroke-width="0.12">TEAD2</text>
<path d="M80.8 80.7H72.3V90.0H80.8M80.8 71.4H66.2V85.4H72.3M80.8 108.6H71.4V117.8H80.8M80.8 99.3H67.5V113.2H71.4M80.8 127.1H75.0V136.4H80.8M80.8 164.2H77.3V173.5H80.8M80.8 155.0H76.0V168.9H77.3M80.8 145.7H73.5V161.9H76.0M75.0 131.8H68.6V153.8H73.5M80.8 182.8H71.5V192.1H80.8M80.8 201.4H67.5V210.7H80.8M71.5 187.5H64.6V206.0H67.5M80.8 247.8H76.2V257.1H80.8M80.8 238.5H73.1V252.4H76.2M80.8 229.2H69.4V245.5H73.1M80.8 219.9H62.2V237.3H69.4M64.6 196.7H44.2V228.6H62.2M68.6 142.8H35.7V212.7H44.2M67.5 106.2H33.6V177.7H35.7M66.2 78.4H23.2V142.0H33.6" fill="none" stroke="#555" stroke-width="0.6"/>
<path d="M84.2 66.6V64.8H90.5V66.6M96.9 66.6V65.5H103.2V66.6M87.3 64.8V63.5H100.0V65.5M109.6 66.6V64.5H115.9V66.6M122.3 66.6V65.2H128.6V66.6M112.8 64.5V63.2H125.5V65.2M135.0 66.6V64.5H141.3V66.6M147.7 66.6V65.2H154.0V66.6M160.4 66.6V65.9H166.7V66.6M173.1 66.6V64.5H179.4V66.6M185.8 66.6V65.2H192.1V66.6M138.1 64.5V63.2H150.8V65.2M163.6 65.9V63.2H176.2V64.5M188.9 65.2V63.2H198.5V66.6M144.5 63.2V61.9H169.9V63.2M157.2 61.9V60.6H193.7V63.2M204.8 66.6V65.2H211.2V66.6M217.5 66.6V65.9H223.9V66.6M230.2 66.6V66.6H236.6V66.6M242.9 66.6V65.2H249.3V66.6M208.0 65.2V64.2H220.7V65.9M233.4 66.6V64.2H246.1V65.2M214.3 64.2V63.2H239.7V64.2M227.0 63.2V62.2H255.6V66.6M262.0 66.6V65.5H268.3V66.6M274.7 66.6V66.2H281.0V66.6M287.4 66.6V66.9H293.7V66.6M300.1 66.6V65.5H306.4V66.6M312.8 66.6V66.2H319.1V66.6M325.5 66.6V66.9H331.8V66.6M338.2 66.6V65.5H344.5V66.6M350.9 66.6V66.2H357.2V66.6M363.6 66.6V66.9H369.9V66.6M376.3 66.6V65.5H382.6V66.6M265.1 65.5V64.8H277.8V66.2M290.6 66.9V64.8H303.2V65.5M315.9 66.2V64.8H328.6V66.9M341.4 65.5V64.8H354.0V66.2M366.8 66.9V64.8H379.4V65.5M271.5 64.8V64.0H296.9V64.8M322.3 64.8V64.0H347.7V64.8M284.2 64.0V63.2H335.0V64.0M309.6 63.2V62.5H373.1V64.8M389.0 66.6V65.5H395.3V66.6M401.7 66.6V66.2H408.0V66.6M414.4 66.6V66.9H420.7V66.6M427.1 66.6V65.5H433.4V66.6M439.8 66.6V66.2H446.1V66.6M452.5 66.6V66.9H458.8V66.6M392.1 65.5V64.7H404.8V66.2M417.5 66.9V64.7H430.2V65.5M442.9 66.2V64.7H455.6V66.9M398.5 64.7V63.9H423.9V64.7M449.3 64.7V63.9H465.2V66.6M411.2 63.9V63.1H457.2V63.9M471.5 66.6V64.0H477.9V66.6M484.2 66.6V64.7H490.6V66.6M496.9 66.6V65.4H503.3V66.6M509.6 66.6V64.0H516.0V66.6M474.7 64.0V62.7H487.4V64.7M500.1 65.4V62.7H512.8V64.0M481.0 62.7V61.4H506.4V62.7M493.7 61.4V60.1H522.3V66.6M528.7 66.6V64.0H535.0V66.6M541.4 66.6V64.7H547.7V66.6M554.1 66.6V65.4H560.4V66.6M566.8 66.6V64.0H573.1V66.6M531.8 64.0V62.7H544.5V64.7M557.2 65.4V62.7H570.0V64.0M538.2 62.7V61.4H563.6V62.7M550.9 61.4V60.1H579.5V66.6M585.8 66.6V63.2H592.2V66.6M598.5 66.6V63.0H604.9V66.6M601.7 63.0V61.7H611.2V66.6M93.7 63.5V61.3H119.1V63.2M175.5 60.6V59.6H241.3V62.2M106.4 61.3V55.6H257.5V58.2M208.4 59.6V58.2H380V62.5M318 58.2V59.6H434.2V63.1M508.0 60.1V58.0H565.2V60.1M589.0 63.2V57.4H606.5V61.7M536.6 58.0V54.5H597.7V57.4M184.3 55.6V45.6H557.6V54.5" fill="none" stroke="#666" stroke-width="0.5"/>
<text x="1.2" y="335" font-family="Liberation Sans, Arial, Helvetica, sans-serif" font-weight="bold" font-size="14.5" fill="#000">b</text>
<rect x="42.8" y="336.8" width="8" height="8" fill="#3b80c0"/>
<rect x="86.2" y="336.8" width="8" height="8" fill="#4db33d"/>
<rect x="123.2" y="336.8" width="8" height="8" fill="#e8a135"/>
<rect x="177" y="336.8" width="8" height="8" fill="#96df8e"/>
<rect x="252" y="336.8" width="8" height="8" fill="#66e0c6"/>
<rect x="320" y="336.8" width="8" height="8" fill="#8694e2"/>
<text x="54.8" y="343.6" font-family="Liberation Sans, Arial, Helvetica, sans-serif" font-size="7.7" fill="#111">GATA 1</text>
<text x="97.4" y="343.6" font-family="Liberation Sans, Arial, Helvetica, sans-serif" font-size="7.7" fill="#111">KLF1</text>
<text x="134.4" y="343.6" font-family="Liberation Sans, Arial, Helvetica, sans-serif" font-size="7.7" fill="#111">TAL1</text>
<text x="187.6" y="343.6" font-family="Liberation Sans, Arial, Helvetica, sans-serif" font-size="7.7" fill="#111">MK/E progenitors</text>
<text x="263.1" y="343.6" font-family="Liberation Sans, Arial, Helvetica, sans-serif" font-size="7.7" fill="#111">Proerythroblast</text>
<text x="330.6" y="343.6" font-family="Liberation Sans, Arial, Helvetica, sans-serif" font-size="7.7" fill="#111">Erythroblast</text>
<text x="280.8" y="327.5" text-anchor="middle" font-family="Liberation Sans, Arial, Helvetica, sans-serif" font-size="7.7" fill="#111">Erythroid differentiation</text>
<path d="M177.7 331.2H371.2M368.3 329.2L371.4 331.2L368.3 333.2" fill="none" stroke="#111" stroke-width="0.7"/>
<text x="573.5" y="328" text-anchor="middle" font-family="Liberation Sans, Arial, Helvetica, sans-serif" font-size="7.7" fill="#111">Motif effect on gene expression</text>
<rect x="514.9" y="335.8" width="117.6" height="7.7" fill="url(#gb)"/>
<line x1="532" y1="343.5" x2="532" y2="347.2" stroke="#222" stroke-width="0.7"/>
<text x="532" y="357" text-anchor="middle" font-family="DejaVu Sans, Liberation Sans, sans-serif" font-size="7" fill="#222">0.0</text>
<line x1="579.3" y1="343.5" x2="579.3" y2="347.2" stroke="#222" stroke-width="0.7"/>
<text x="579.3" y="357" text-anchor="middle" font-family="DejaVu Sans, Liberation Sans, sans-serif" font-size="7" fill="#222">0.5</text>
<line x1="627" y1="343.5" x2="627" y2="347.2" stroke="#222" stroke-width="0.7"/>
<text x="627" y="357" text-anchor="middle" font-family="DejaVu Sans, Liberation Sans, sans-serif" font-size="7" fill="#222">1.0</text>
<path d="M45.3 371.6L53.5 364.4L61.0 371.6Z" fill="#e3e6e8"/>
<text x="53.5" y="363.2" text-anchor="middle" font-family="Liberation Sans, Arial, Helvetica, sans-serif" font-size="7.5" fill="#111">1.</text>
<path d="M61.0 371.6L68.2 364.4L75.5 371.6Z" fill="#e3e6e8"/>
<text x="68.2" y="363.2" text-anchor="middle" font-family="Liberation Sans, Arial, Helvetica, sans-serif" font-size="7.5" fill="#111">2.</text>
<path d="M75.5 371.6L98.6 364.4L120.2 371.6Z" fill="#e3e6e8"/>
<text x="98.6" y="363.2" text-anchor="middle" font-family="Liberation Sans, Arial, Helvetica, sans-serif" font-size="7.5" fill="#111">3.</text>
<path d="M120.2 371.6L212 364.4L295.7 371.6Z" fill="#e3e6e8"/>
<text x="212" y="363.2" text-anchor="middle" font-family="Liberation Sans, Arial, Helvetica, sans-serif" font-size="7.5" fill="#111">4.</text>
<path d="M295.7 371.6L324 364.4L351.8 371.6Z" fill="#e3e6e8"/>
<text x="324" y="363.2" text-anchor="middle" font-family="Liberation Sans, Arial, Helvetica, sans-serif" font-size="7.5" fill="#111">5.</text>
<path d="M351.8 371.6L369.8 364.4L386.8 371.6Z" fill="#e3e6e8"/>
<text x="369.8" y="363.2" text-anchor="middle" font-family="Liberation Sans, Arial, Helvetica, sans-serif" font-size="7.5" fill="#111">6.</text>
<path d="M386.8 371.6L417.3 364.4L444.3 371.6Z" fill="#e3e6e8"/>
<text x="417.3" y="363.2" text-anchor="middle" font-family="Liberation Sans, Arial, Helvetica, sans-serif" font-size="7.5" fill="#111">7.</text>
<path d="M444.3 371.6L450.2 364.4L456.9 371.6Z" fill="#e3e6e8"/>
<text x="450.2" y="363.2" text-anchor="middle" font-family="Liberation Sans, Arial, Helvetica, sans-serif" font-size="7.5" fill="#111">8.</text>
<path d="M456.9 371.6L565.7 364.4L669.3 371.6Z" fill="#e3e6e8"/>
<text x="565.7" y="363.2" text-anchor="middle" font-family="Liberation Sans, Arial, Helvetica, sans-serif" font-size="7.5" fill="#111">9.</text>
<rect x="28" y="371.3" width="7.3" height="64.2" fill="#3b80c0"/>
<rect x="35.2" y="371.30" width="7.7" height="21.60" fill="#96df8e"/>
<rect x="35.2" y="392.70" width="7.7" height="21.60" fill="#66e0c6"/>
<rect x="35.2" y="414.10" width="7.7" height="21.60" fill="#8694e2"/>
<rect x="28" y="435.9" width="7.3" height="64.2" fill="#4db33d"/>
<rect x="35.2" y="435.90" width="7.7" height="21.60" fill="#96df8e"/>
<rect x="35.2" y="457.30" width="7.7" height="21.60" fill="#66e0c6"/>
<rect x="35.2" y="478.70" width="7.7" height="21.60" fill="#8694e2"/>
<rect x="28" y="500.4" width="7.3" height="64.2" fill="#e8a135"/>
<rect x="35.2" y="500.40" width="7.7" height="21.60" fill="#96df8e"/>
<rect x="35.2" y="521.80" width="7.7" height="21.60" fill="#66e0c6"/>
<rect x="35.2" y="543.20" width="7.7" height="21.60" fill="#8694e2"/>
<rect x="44.8" y="371.3" width="624.5" height="193.3" fill="#f9f8f8"/>
<rect x="44.79" y="371.30" width="3.58" height="21.70" fill="#fae9df"/>
<rect x="48.07" y="371.30" width="3.60" height="21.70" fill="#f4a582"/>
<rect x="51.37" y="371.30" width="3.58" height="21.70" fill="#f8c0a4"/>
<rect x="54.65" y="371.30" width="3.60" height="21.70" fill="#fddbc7"/>
<rect x="57.94" y="371.30" width="3.58" height="21.70" fill="#fddbc7"/>
<rect x="61.23" y="371.30" width="3.58" height="21.70" fill="#f4a582"/>
<rect x="64.51" y="371.30" width="3.60" height="21.70" fill="#f8c0a4"/>
<rect x="67.80" y="371.30" width="3.58" height="21.70" fill="#e58268"/>
<rect x="71.08" y="371.30" width="3.60" height="21.70" fill="#e58268"/>
<rect x="74.38" y="371.30" width="3.58" height="21.70" fill="#f8c0a4"/>
<rect x="77.66" y="371.30" width="3.58" height="21.70" fill="#f8c0a4"/>
<rect x="80.94" y="371.30" width="3.60" height="21.70" fill="#f8c0a4"/>
<rect x="84.23" y="371.30" width="3.58" height="21.70" fill="#f9f8f8"/>
<rect x="87.51" y="371.30" width="3.60" height="21.70" fill="#f9f8f8"/>
<rect x="90.81" y="371.30" width="3.58" height="21.70" fill="#fae9df"/>
<rect x="94.09" y="371.30" width="3.58" height="21.70" fill="#fae9df"/>
<rect x="97.37" y="371.30" width="3.60" height="21.70" fill="#fddbc7"/>
<rect x="100.66" y="371.30" width="3.58" height="21.70" fill="#fae9df"/>
<rect x="103.94" y="371.30" width="3.60" height="21.70" fill="#fddbc7"/>
<rect x="107.24" y="371.30" width="3.58" height="21.70" fill="#fae9df"/>
<rect x="110.52" y="371.30" width="3.58" height="21.70" fill="#fddbc7"/>
<rect x="113.80" y="371.30" width="3.60" height="21.70" fill="#fae9df"/>
<rect x="117.10" y="371.30" width="3.58" height="21.70" fill="#fae9df"/>
<rect x="120.38" y="371.30" width="3.60" height="21.70" fill="#f9f8f8"/>
<rect x="123.67" y="371.30" width="3.58" height="21.70" fill="#f9f8f8"/>
<rect x="126.95" y="371.30" width="3.58" height="21.70" fill="#f9f8f8"/>
<rect x="130.23" y="371.30" width="3.60" height="21.70" fill="#fddbc7"/>
<rect x="133.53" y="371.30" width="3.58" height="21.70" fill="#fae9df"/>
<rect x="136.81" y="371.30" width="3.60" height="21.70" fill="#fddbc7"/>
<rect x="140.10" y="371.30" width="3.58" height="21.70" fill="#fae9df"/>
<rect x="143.38" y="371.30" width="3.58" height="21.70" fill="#fddbc7"/>
<rect x="143.46" y="371.30" width="2.91" height="21.70" fill="#fddbc7"/>
<rect x="146.07" y="371.30" width="3.37" height="21.70" fill="#f8c0a4"/>
<rect x="149.13" y="371.30" width="3.37" height="21.70" fill="#fae9df"/>
<rect x="152.20" y="371.30" width="6.43" height="21.70" fill="#fddbc7"/>
<rect x="158.33" y="371.30" width="43.22" height="21.70" fill="#fae9df"/>
<rect x="201.25" y="371.30" width="6.43" height="21.70" fill="#fddbc7"/>
<rect x="207.38" y="371.30" width="40.92" height="21.70" fill="#fae9df"/>
<rect x="246.07" y="371.30" width="20.23" height="21.70" fill="#fae9df"/>
<rect x="265.99" y="371.30" width="16.39" height="21.70" fill="#fddbc7"/>
<rect x="282.09" y="371.30" width="13.33" height="21.70" fill="#fddbc7"/>
<rect x="295.12" y="371.30" width="12.56" height="21.70" fill="#f9f8f8"/>
<rect x="307.38" y="371.30" width="3.37" height="21.70" fill="#fae9df"/>
<rect x="310.44" y="371.30" width="4.90" height="21.70" fill="#fae9df"/>
<rect x="315.04" y="371.30" width="16.39" height="21.70" fill="#f9f8f8"/>
<rect x="331.14" y="371.30" width="4.13" height="21.70" fill="#fae9df"/>
<rect x="334.97" y="371.30" width="9.50" height="21.70" fill="#fae9df"/>
<rect x="344.16" y="371.30" width="4.13" height="21.70" fill="#f8c0a4"/>
<rect x="346.07" y="371.30" width="4.13" height="21.70" fill="#f8c0a4"/>
<rect x="349.90" y="371.30" width="4.13" height="21.70" fill="#fddbc7"/>
<rect x="353.73" y="371.30" width="3.37" height="21.70" fill="#f8c0a4"/>
<rect x="356.80" y="371.30" width="10.26" height="21.70" fill="#fae9df"/>
<rect x="366.76" y="371.30" width="19.46" height="21.70" fill="#fddbc7"/>
<rect x="385.92" y="371.30" width="3.83" height="21.70" fill="#b2182b"/>
<rect x="389.44" y="371.30" width="3.67" height="21.70" fill="#fddbc7"/>
<rect x="392.82" y="371.30" width="3.37" height="21.70" fill="#d6604d"/>
<rect x="395.88" y="371.30" width="6.43" height="21.70" fill="#f8c0a4"/>
<rect x="402.01" y="371.30" width="10.26" height="21.70" fill="#f8c0a4"/>
<rect x="411.98" y="371.30" width="10.26" height="21.70" fill="#fddbc7"/>
<rect x="421.94" y="371.30" width="10.26" height="21.70" fill="#fddbc7"/>
<rect x="431.90" y="371.30" width="12.56" height="21.70" fill="#fddbc7"/>
<rect x="444.16" y="371.30" width="4.13" height="21.70" fill="#f9f8f8"/>
<rect x="444.84" y="371.30" width="9.96" height="21.70" fill="#f9f8f8"/>
<rect x="454.50" y="371.30" width="13.33" height="21.70" fill="#fae9df"/>
<rect x="467.52" y="371.30" width="6.43" height="21.70" fill="#f9f8f8"/>
<rect x="473.66" y="371.30" width="3.67" height="21.70" fill="#d6604d"/>
<rect x="477.03" y="371.30" width="16.85" height="21.70" fill="#fae9df"/>
<rect x="493.58" y="371.30" width="3.37" height="21.70" fill="#f8c0a4"/>
<rect x="496.65" y="371.30" width="3.37" height="21.70" fill="#fddbc7"/>
<rect x="499.71" y="371.30" width="10.26" height="21.70" fill="#f8c0a4"/>
<rect x="509.68" y="371.30" width="38.62" height="21.70" fill="#fae9df"/>
<rect x="546.07" y="371.30" width="12.56" height="21.70" fill="#fddbc7"/>
<rect x="558.33" y="371.30" width="12.56" height="21.70" fill="#fae9df"/>
<rect x="570.59" y="371.30" width="17.16" height="21.70" fill="#fae9df"/>
<rect x="587.45" y="371.30" width="4.13" height="21.70" fill="#f9f8f8"/>
<rect x="591.28" y="371.30" width="10.26" height="21.70" fill="#fae9df"/>
<rect x="601.25" y="371.30" width="6.43" height="21.70" fill="#fddbc7"/>
<rect x="607.38" y="371.30" width="40.92" height="21.70" fill="#fae9df"/>
<rect x="647.59" y="371.30" width="22.01" height="21.70" fill="#f9f8f8"/>
<rect x="44.79" y="392.70" width="3.58" height="21.70" fill="#d6604d"/>
<rect x="48.07" y="392.70" width="3.60" height="21.70" fill="#8c0c25"/>
<rect x="51.37" y="392.70" width="3.58" height="21.70" fill="#b2182b"/>
<rect x="54.65" y="392.70" width="3.60" height="21.70" fill="#8c0c25"/>
<rect x="57.94" y="392.70" width="3.58" height="21.70" fill="#8c0c25"/>
<rect x="61.23" y="392.70" width="3.58" height="21.70" fill="#fae9df"/>
<rect x="64.51" y="392.70" width="3.60" height="21.70" fill="#fddbc7"/>
<rect x="67.80" y="392.70" width="3.58" height="21.70" fill="#d6604d"/>
<rect x="71.08" y="392.70" width="3.60" height="21.70" fill="#f8c0a4"/>
<rect x="74.38" y="392.70" width="3.58" height="21.70" fill="#e58268"/>
<rect x="77.66" y="392.70" width="3.58" height="21.70" fill="#d6604d"/>
<rect x="80.94" y="392.70" width="3.60" height="21.70" fill="#d6604d"/>
<rect x="84.23" y="392.70" width="3.58" height="21.70" fill="#f9f8f8"/>
<rect x="87.51" y="392.70" width="3.60" height="21.70" fill="#f9f8f8"/>
<rect x="90.81" y="392.70" width="3.58" height="21.70" fill="#f4a582"/>
<rect x="94.09" y="392.70" width="3.58" height="21.70" fill="#f8c0a4"/>
<rect x="97.37" y="392.70" width="3.60" height="21.70" fill="#f4a582"/>
<rect x="100.66" y="392.70" width="3.58" height="21.70" fill="#e58268"/>
<rect x="103.94" y="392.70" width="3.60" height="21.70" fill="#f4a582"/>
<rect x="107.24" y="392.70" width="3.58" height="21.70" fill="#e58268"/>
<rect x="110.52" y="392.70" width="3.58" height="21.70" fill="#f4a582"/>
<rect x="113.80" y="392.70" width="3.60" height="21.70" fill="#f8c0a4"/>
<rect x="117.10" y="392.70" width="3.58" height="21.70" fill="#f8c0a4"/>
<rect x="120.38" y="392.70" width="3.60" height="21.70" fill="#f9f8f8"/>
<rect x="123.67" y="392.70" width="3.58" height="21.70" fill="#f9f8f8"/>
<rect x="126.95" y="392.70" width="3.58" height="21.70" fill="#fae9df"/>
<rect x="130.23" y="392.70" width="3.60" height="21.70" fill="#f8c0a4"/>
<rect x="133.53" y="392.70" width="3.58" height="21.70" fill="#fddbc7"/>
<rect x="136.81" y="392.70" width="3.60" height="21.70" fill="#f8c0a4"/>
<rect x="140.10" y="392.70" width="3.58" height="21.70" fill="#fddbc7"/>
<rect x="143.38" y="392.70" width="3.58" height="21.70" fill="#f4a582"/>
<rect x="143.46" y="392.70" width="2.91" height="21.70" fill="#f8c0a4"/>
<rect x="146.07" y="392.70" width="3.37" height="21.70" fill="#f4a582"/>
<rect x="149.13" y="392.70" width="3.37" height="21.70" fill="#fae9df"/>
<rect x="152.20" y="392.70" width="4.13" height="21.70" fill="#fddbc7"/>
<rect x="156.03" y="392.70" width="3.37" height="21.70" fill="#fae9df"/>
<rect x="159.09" y="392.70" width="3.37" height="21.70" fill="#f8c0a4"/>
<rect x="162.16" y="392.70" width="3.37" height="21.70" fill="#fddbc7"/>
<rect x="165.23" y="392.70" width="3.37" height="21.70" fill="#f8c0a4"/>
<rect x="168.29" y="392.70" width="4.13" height="21.70" fill="#fddbc7"/>
<rect x="172.12" y="392.70" width="6.43" height="21.70" fill="#f8c0a4"/>
<rect x="178.25" y="392.70" width="4.13" height="21.70" fill="#fae9df"/>
<rect x="182.09" y="392.70" width="3.37" height="21.70" fill="#fddbc7"/>
<rect x="185.15" y="392.70" width="16.39" height="21.70" fill="#fddbc7"/>
<rect x="201.25" y="392.70" width="6.43" height="21.70" fill="#c43c3c"/>
<rect x="207.38" y="392.70" width="3.37" height="21.70" fill="#f8c0a4"/>
<rect x="210.44" y="392.70" width="7.20" height="21.70" fill="#f4a582"/>
<rect x="217.34" y="392.70" width="9.50" height="21.70" fill="#f4a582"/>
<rect x="226.54" y="392.70" width="8.73" height="21.70" fill="#fddbc7"/>
<rect x="234.97" y="392.70" width="6.43" height="21.70" fill="#f8c0a4"/>
<rect x="241.10" y="392.70" width="3.37" height="21.70" fill="#fddbc7"/>
<rect x="244.16" y="392.70" width="4.13" height="21.70" fill="#f8c0a4"/>
<rect x="246.07" y="392.70" width="20.23" height="21.70" fill="#f8c0a4"/>
<rect x="265.99" y="392.70" width="16.39" height="21.70" fill="#f4a582"/>
<rect x="282.09" y="392.70" width="10.26" height="21.70" fill="#d6604d"/>
<rect x="292.05" y="392.70" width="3.37" height="21.70" fill="#e58268"/>
<rect x="295.12" y="392.70" width="12.56" height="21.70" fill="#f9f8f8"/>
<rect x="307.38" y="392.70" width="7.96" height="21.70" fill="#fddbc7"/>
<rect x="315.04" y="392.70" width="4.90" height="21.70" fill="#f9f8f8"/>
<rect x="319.64" y="392.70" width="4.90" height="21.70" fill="#fae9df"/>
<rect x="324.24" y="392.70" width="11.03" height="21.70" fill="#fddbc7"/>
<rect x="334.97" y="392.70" width="6.43" height="21.70" fill="#f8c0a4"/>
<rect x="341.10" y="392.70" width="7.20" height="21.70" fill="#fddbc7"/>
<rect x="346.07" y="392.70" width="4.13" height="21.70" fill="#fddbc7"/>
<rect x="349.90" y="392.70" width="4.13" height="21.70" fill="#b2182b"/>
<rect x="353.73" y="392.70" width="3.37" height="21.70" fill="#d6604d"/>
<rect x="356.80" y="392.70" width="3.37" height="21.70" fill="#f8c0a4"/>
<rect x="359.86" y="392.70" width="3.67" height="21.70" fill="#8c0c25"/>
<rect x="363.23" y="392.70" width="3.83" height="21.70" fill="#fddbc7"/>
<rect x="366.76" y="392.70" width="9.50" height="21.70" fill="#d6604d"/>
<rect x="375.96" y="392.70" width="10.26" height="21.70" fill="#e58268"/>
<rect x="385.92" y="392.70" width="10.26" height="21.70" fill="#67001f"/>
<rect x="395.88" y="392.70" width="6.43" height="21.70" fill="#b2182b"/>
<rect x="402.01" y="392.70" width="4.13" height="21.70" fill="#8c0c25"/>
<rect x="405.84" y="392.70" width="3.37" height="21.70" fill="#d6604d"/>
<rect x="408.91" y="392.70" width="3.37" height="21.70" fill="#8c0c25"/>
<rect x="411.98" y="392.70" width="7.20" height="21.70" fill="#e58268"/>
<rect x="418.87" y="392.70" width="6.43" height="21.70" fill="#c43c3c"/>
<rect x="425.00" y="392.70" width="4.13" height="21.70" fill="#d6604d"/>
<rect x="428.84" y="392.70" width="3.37" height="21.70" fill="#e58268"/>
<rect x="431.90" y="392.70" width="6.43" height="21.70" fill="#d6604d"/>
<rect x="438.03" y="392.70" width="6.43" height="21.70" fill="#c43c3c"/>
<rect x="444.16" y="392.70" width="4.13" height="21.70" fill="#f9f8f8"/>
<rect x="444.84" y="392.70" width="9.96" height="21.70" fill="#f9f8f8"/>
<rect x="454.50" y="392.70" width="13.33" height="21.70" fill="#fae9df"/>
<rect x="467.52" y="392.70" width="6.43" height="21.70" fill="#f9f8f8"/>
<rect x="473.66" y="392.70" width="7.20" height="21.70" fill="#f4a582"/>
<rect x="480.55" y="392.70" width="13.33" height="21.70" fill="#f8c0a4"/>
<rect x="493.58" y="392.70" width="3.37" height="21.70" fill="#e58268"/>
<rect x="496.65" y="392.70" width="3.37" height="21.70" fill="#f8c0a4"/>
<rect x="499.71" y="392.70" width="3.67" height="21.70" fill="#fae9df"/>
<rect x="503.09" y="392.70" width="6.89" height="21.70" fill="#e58268"/>
<rect x="509.68" y="392.70" width="7.20" height="21.70" fill="#f4a582"/>
<rect x="516.57" y="392.70" width="9.50" height="21.70" fill="#f4a582"/>
<rect x="525.77" y="392.70" width="7.20" height="21.70" fill="#f8c0a4"/>
<rect x="532.67" y="392.70" width="15.63" height="21.70" fill="#e58268"/>
<rect x="546.07" y="392.70" width="3.37" height="21.70" fill="#f4a582"/>
<rect x="549.13" y="392.70" width="3.37" height="21.70" fill="#f4a582"/>
<rect x="552.20" y="392.70" width="3.37" height="21.70" fill="#e58268"/>
<rect x="555.26" y="392.70" width="3.37" height="21.70" fill="#f4a582"/>
<rect x="558.33" y="392.70" width="6.43" height="21.70" fill="#f8c0a4"/>
<rect x="564.46" y="392.70" width="14.10" height="21.70" fill="#f8c0a4"/>
<rect x="578.25" y="392.70" width="9.50" height="21.70" fill="#fddbc7"/>
<rect x="587.45" y="392.70" width="4.13" height="21.70" fill="#f9f8f8"/>
<rect x="591.28" y="392.70" width="10.26" height="21.70" fill="#fddbc7"/>
<rect x="601.25" y="392.70" width="9.50" height="21.70" fill="#f4a582"/>
<rect x="610.44" y="392.70" width="6.43" height="21.70" fill="#fddbc7"/>
<rect x="616.57" y="392.70" width="6.43" height="21.70" fill="#fae9df"/>
<rect x="622.71" y="392.70" width="12.56" height="21.70" fill="#fddbc7"/>
<rect x="634.97" y="392.70" width="7.96" height="21.70" fill="#fae9df"/>
<rect x="642.63" y="392.70" width="5.66" height="21.70" fill="#fddbc7"/>
<rect x="647.59" y="392.70" width="2.34" height="21.70" fill="#fddbc7"/>
<rect x="649.63" y="392.70" width="6.43" height="21.70" fill="#fae9df"/>
<rect x="655.77" y="392.70" width="3.37" height="21.70" fill="#fddbc7"/>
<rect x="658.83" y="392.70" width="10.77" height="21.70" fill="#f9f8f8"/>
<rect x="44.79" y="414.10" width="3.58" height="21.40" fill="#67001f"/>
<rect x="48.07" y="414.10" width="3.60" height="21.40" fill="#67001f"/>
<rect x="51.37" y="414.10" width="3.58" height="21.40" fill="#67001f"/>
<rect x="54.65" y="414.10" width="3.60" height="21.40" fill="#67001f"/>
<rect x="57.94" y="414.10" width="3.58" height="21.40" fill="#67001f"/>
<rect x="61.23" y="414.10" width="3.58" height="21.40" fill="#f9f8f8"/>
<rect x="64.51" y="414.10" width="3.60" height="21.40" fill="#fae9df"/>
<rect x="67.80" y="414.10" width="3.58" height="21.40" fill="#f4a582"/>
<rect x="71.08" y="414.10" width="3.60" height="21.40" fill="#f8c0a4"/>
<rect x="74.38" y="414.10" width="3.58" height="21.40" fill="#f4a582"/>
<rect x="77.66" y="414.10" width="3.58" height="21.40" fill="#b2182b"/>
<rect x="80.94" y="414.10" width="3.60" height="21.40" fill="#b2182b"/>
<rect x="84.23" y="414.10" width="3.58" height="21.40" fill="#f9f8f8"/>
<rect x="87.51" y="414.10" width="3.60" height="21.40" fill="#f9f8f8"/>
<rect x="90.81" y="414.10" width="3.58" height="21.40" fill="#d6604d"/>
<rect x="94.09" y="414.10" width="3.58" height="21.40" fill="#f4a582"/>
<rect x="97.37" y="414.10" width="3.60" height="21.40" fill="#e58268"/>
<rect x="100.66" y="414.10" width="3.58" height="21.40" fill="#b2182b"/>
<rect x="103.94" y="414.10" width="3.60" height="21.40" fill="#e58268"/>
<rect x="107.24" y="414.10" width="3.58" height="21.40" fill="#b2182b"/>
<rect x="110.52" y="414.10" width="3.58" height="21.40" fill="#b2182b"/>
<rect x="113.80" y="414.10" width="3.60" height="21.40" fill="#c43c3c"/>
<rect x="117.10" y="414.10" width="3.58" height="21.40" fill="#f4a582"/>
<rect x="120.38" y="414.10" width="3.60" height="21.40" fill="#f9f8f8"/>
<rect x="123.67" y="414.10" width="3.58" height="21.40" fill="#f9f8f8"/>
<rect x="126.95" y="414.10" width="3.58" height="21.40" fill="#fae9df"/>
<rect x="130.23" y="414.10" width="3.60" height="21.40" fill="#f8c0a4"/>
<rect x="133.53" y="414.10" width="3.58" height="21.40" fill="#fddbc7"/>
<rect x="136.81" y="414.10" width="3.60" height="21.40" fill="#f8c0a4"/>
<rect x="140.10" y="414.10" width="3.58" height="21.40" fill="#fddbc7"/>
<rect x="143.38" y="414.10" width="3.58" height="21.40" fill="#f4a582"/>
<rect x="143.46" y="414.10" width="2.91" height="21.40" fill="#f8c0a4"/>
<rect x="146.07" y="414.10" width="3.37" height="21.40" fill="#f4a582"/>
<rect x="149.13" y="414.10" width="9.50" height="21.40" fill="#fae9df"/>
<rect x="158.33" y="414.10" width="4.13" height="21.40" fill="#e58268"/>
<rect x="162.16" y="414.10" width="3.37" height="21.40" fill="#f4a582"/>
<rect x="165.23" y="414.10" width="3.37" height="21.40" fill="#f8c0a4"/>
<rect x="168.29" y="414.10" width="4.13" height="21.40" fill="#fddbc7"/>
<rect x="172.12" y="414.10" width="6.43" height="21.40" fill="#d6604d"/>
<rect x="178.25" y="414.10" width="4.13" height="21.40" fill="#fae9df"/>
<rect x="182.09" y="414.10" width="2.60" height="21.40" fill="#f8c0a4"/>
<rect x="184.39" y="414.10" width="7.20" height="21.40" fill="#fae9df"/>
<rect x="191.28" y="414.10" width="4.90" height="21.40" fill="#f8c0a4"/>
<rect x="195.88" y="414.10" width="5.66" height="21.40" fill="#fddbc7"/>
<rect x="201.25" y="414.10" width="6.43" height="21.40" fill="#67001f"/>
<rect x="207.38" y="414.10" width="10.26" height="21.40" fill="#c43c3c"/>
<rect x="217.34" y="414.10" width="3.37" height="21.40" fill="#8c0c25"/>
<rect x="220.41" y="414.10" width="6.43" height="21.40" fill="#b2182b"/>
<rect x="226.54" y="414.10" width="13.33" height="21.40" fill="#f8c0a4"/>
<rect x="239.57" y="414.10" width="8.73" height="21.40" fill="#d6604d"/>
<rect x="246.07" y="414.10" width="3.37" height="21.40" fill="#d6604d"/>
<rect x="249.13" y="414.10" width="7.20" height="21.40" fill="#e58268"/>
<rect x="256.03" y="414.10" width="3.37" height="21.40" fill="#f8c0a4"/>
<rect x="259.09" y="414.10" width="7.20" height="21.40" fill="#e58268"/>
<rect x="265.99" y="414.10" width="9.50" height="21.40" fill="#f8c0a4"/>
<rect x="275.19" y="414.10" width="4.13" height="21.40" fill="#fddbc7"/>
<rect x="279.02" y="414.10" width="7.20" height="21.40" fill="#e58268"/>
<rect x="285.92" y="414.10" width="9.50" height="21.40" fill="#b2182b"/>
<rect x="295.12" y="414.10" width="12.56" height="21.40" fill="#f9f8f8"/>
<rect x="307.38" y="414.10" width="7.96" height="21.40" fill="#fae9df"/>
<rect x="315.04" y="414.10" width="6.43" height="21.40" fill="#f9f8f8"/>
<rect x="321.17" y="414.10" width="3.37" height="21.40" fill="#fddbc7"/>
<rect x="324.24" y="414.10" width="4.90" height="21.40" fill="#fae9df"/>
<rect x="328.84" y="414.10" width="3.37" height="21.40" fill="#fddbc7"/>
<rect x="331.90" y="414.10" width="9.50" height="21.40" fill="#fddbc7"/>
<rect x="341.10" y="414.10" width="7.20" height="21.40" fill="#fae9df"/>
<rect x="346.07" y="414.10" width="4.13" height="21.40" fill="#fae9df"/>
<rect x="349.90" y="414.10" width="7.20" height="21.40" fill="#8c0c25"/>
<rect x="356.80" y="414.10" width="3.37" height="21.40" fill="#d6604d"/>
<rect x="359.86" y="414.10" width="3.67" height="21.40" fill="#67001f"/>
<rect x="363.23" y="414.10" width="3.83" height="21.40" fill="#8c0c25"/>
<rect x="366.76" y="414.10" width="9.50" height="21.40" fill="#67001f"/>
<rect x="375.96" y="414.10" width="4.13" height="21.40" fill="#b2182b"/>
<rect x="379.79" y="414.10" width="16.39" height="21.40" fill="#67001f"/>
<rect x="395.88" y="414.10" width="3.37" height="21.40" fill="#e58268"/>
<rect x="398.95" y="414.10" width="13.33" height="21.40" fill="#67001f"/>
<rect x="411.98" y="414.10" width="3.37" height="21.40" fill="#8c0c25"/>
<rect x="415.04" y="414.10" width="4.13" height="21.40" fill="#d6604d"/>
<rect x="418.87" y="414.10" width="13.33" height="21.40" fill="#67001f"/>
<rect x="431.90" y="414.10" width="3.37" height="21.40" fill="#b2182b"/>
<rect x="434.97" y="414.10" width="3.37" height="21.40" fill="#67001f"/>
<rect x="438.03" y="414.10" width="6.43" height="21.40" fill="#8c0c25"/>
<rect x="444.16" y="414.10" width="4.13" height="21.40" fill="#f9f8f8"/>
<rect x="444.84" y="414.10" width="9.96" height="21.40" fill="#f9f8f8"/>
<rect x="454.50" y="414.10" width="10.26" height="21.40" fill="#fae9df"/>
<rect x="464.46" y="414.10" width="9.50" height="21.40" fill="#eaf1f5"/>
<rect x="473.66" y="414.10" width="7.20" height="21.40" fill="#f4a582"/>
<rect x="480.55" y="414.10" width="3.37" height="21.40" fill="#e58268"/>
<rect x="483.62" y="414.10" width="10.26" height="21.40" fill="#f4a582"/>
<rect x="493.58" y="414.10" width="3.37" height="21.40" fill="#f8c0a4"/>
<rect x="496.65" y="414.10" width="6.74" height="21.40" fill="#fae9df"/>
<rect x="503.09" y="414.10" width="9.96" height="21.40" fill="#d6604d"/>
<rect x="512.74" y="414.10" width="16.39" height="21.40" fill="#d6604d"/>
<rect x="528.84" y="414.10" width="4.13" height="21.40" fill="#e58268"/>
<rect x="532.67" y="414.10" width="4.13" height="21.40" fill="#b2182b"/>
<rect x="536.50" y="414.10" width="5.66" height="21.40" fill="#d6604d"/>
<rect x="541.87" y="414.10" width="6.43" height="21.40" fill="#c43c3c"/>
<rect x="546.07" y="414.10" width="3.37" height="21.40" fill="#c43c3c"/>
<rect x="549.13" y="414.10" width="3.37" height="21.40" fill="#d6604d"/>
<rect x="552.20" y="414.10" width="3.37" height="21.40" fill="#c43c3c"/>
<rect x="555.26" y="414.10" width="3.37" height="21.40" fill="#d6604d"/>
<rect x="558.33" y="414.10" width="3.37" height="21.40" fill="#f8c0a4"/>
<rect x="561.39" y="414.10" width="4.13" height="21.40" fill="#fddbc7"/>
<rect x="565.23" y="414.10" width="3.37" height="21.40" fill="#f4a582"/>
<rect x="568.29" y="414.10" width="3.37" height="21.40" fill="#fddbc7"/>
<rect x="571.36" y="414.10" width="7.20" height="21.40" fill="#f4a582"/>
<rect x="578.25" y="414.10" width="3.37" height="21.40" fill="#fddbc7"/>
<rect x="581.32" y="414.10" width="6.43" height="21.40" fill="#fddbc7"/>
<rect x="587.45" y="414.10" width="4.13" height="21.40" fill="#f9f8f8"/>
<rect x="591.28" y="414.10" width="10.26" height="21.40" fill="#f4a582"/>
<rect x="601.25" y="414.10" width="6.12" height="21.40" fill="#f8c0a4"/>
<rect x="607.07" y="414.10" width="3.67" height="21.40" fill="#c43c3c"/>
<rect x="610.44" y="414.10" width="3.37" height="21.40" fill="#fddbc7"/>
<rect x="613.51" y="414.10" width="3.37" height="21.40" fill="#f4a582"/>
<rect x="616.57" y="414.10" width="6.43" height="21.40" fill="#fae9df"/>
<rect x="622.71" y="414.10" width="7.96" height="21.40" fill="#f4a582"/>
<rect x="630.37" y="414.10" width="4.90" height="21.40" fill="#fae9df"/>
<rect x="634.97" y="414.10" width="7.96" height="21.40" fill="#fae9df"/>
<rect x="642.63" y="414.10" width="5.66" height="21.40" fill="#f4a582"/>
<rect x="647.59" y="414.10" width="2.34" height="21.40" fill="#f4a582"/>
<rect x="649.63" y="414.10" width="6.43" height="21.40" fill="#fae9df"/>
<rect x="655.77" y="414.10" width="3.37" height="21.40" fill="#fddbc7"/>
<rect x="658.83" y="414.10" width="10.77" height="21.40" fill="#f9f8f8"/>
<rect x="44.79" y="435.90" width="7.18" height="21.70" fill="#fae9df"/>
<rect x="51.67" y="435.90" width="68.70" height="21.70" fill="#f9f8f8"/>
<rect x="120.07" y="435.90" width="28.24" height="21.70" fill="#eaf1f5"/>
<rect x="146.85" y="435.90" width="101.46" height="21.70" fill="#f9f8f8"/>
<rect x="246.85" y="435.90" width="48.47" height="21.70" fill="#f9f8f8"/>
<rect x="295.02" y="435.90" width="19.57" height="21.70" fill="#d9e9f1"/>
<rect x="314.29" y="435.90" width="4.15" height="21.70" fill="#f9f8f8"/>
<rect x="318.14" y="435.90" width="4.15" height="21.70" fill="#fae9df"/>
<rect x="322.00" y="435.90" width="26.31" height="21.70" fill="#f9f8f8"/>
<rect x="346.85" y="435.90" width="4.15" height="21.70" fill="#f9f8f8"/>
<rect x="350.71" y="435.90" width="12.82" height="21.70" fill="#fddbc7"/>
<rect x="363.23" y="435.90" width="4.15" height="21.70" fill="#fae9df"/>
<rect x="367.08" y="435.90" width="14.75" height="21.70" fill="#fddbc7"/>
<rect x="381.54" y="435.90" width="11.86" height="21.70" fill="#fae9df"/>
<rect x="393.10" y="435.90" width="3.19" height="21.70" fill="#f9f8f8"/>
<rect x="395.99" y="435.90" width="5.12" height="21.70" fill="#d9e9f1"/>
<rect x="400.80" y="435.90" width="11.86" height="21.70" fill="#f9f8f8"/>
<rect x="412.36" y="435.90" width="8.01" height="21.70" fill="#fae9df"/>
<rect x="420.07" y="435.90" width="25.35" height="21.70" fill="#f9f8f8"/>
<rect x="445.12" y="435.90" width="3.19" height="21.70" fill="#fddbc7"/>
<rect x="447.82" y="435.90" width="7.04" height="21.70" fill="#fddbc7"/>
<rect x="454.56" y="435.90" width="9.93" height="21.70" fill="#fddbc7"/>
<rect x="464.19" y="435.90" width="7.04" height="21.70" fill="#f8c0a4"/>
<rect x="470.94" y="435.90" width="6.08" height="21.70" fill="#fddbc7"/>
<rect x="476.72" y="435.90" width="20.53" height="21.70" fill="#fddbc7"/>
<rect x="496.95" y="435.90" width="12.82" height="21.70" fill="#fddbc7"/>
<rect x="509.47" y="435.90" width="38.84" height="21.70" fill="#fae9df"/>
<rect x="548.01" y="435.90" width="6.85" height="21.70" fill="#fae9df"/>
<rect x="554.56" y="435.90" width="11.86" height="21.70" fill="#fddbc7"/>
<rect x="566.12" y="435.90" width="34.98" height="21.70" fill="#fae9df"/>
<rect x="600.80" y="435.90" width="23.42" height="21.70" fill="#fddbc7"/>
<rect x="623.92" y="435.90" width="19.57" height="21.70" fill="#fae9df"/>
<rect x="643.19" y="435.90" width="26.31" height="21.70" fill="#fddbc7"/>
<rect x="44.79" y="457.30" width="7.18" height="21.70" fill="#fddbc7"/>
<rect x="51.67" y="457.30" width="6.08" height="21.70" fill="#f9f8f8"/>
<rect x="57.45" y="457.30" width="4.15" height="21.70" fill="#fae9df"/>
<rect x="61.30" y="457.30" width="12.82" height="21.70" fill="#f9f8f8"/>
<rect x="73.83" y="457.30" width="13.79" height="21.70" fill="#eaf1f5"/>
<rect x="87.32" y="457.30" width="19.57" height="21.70" fill="#f9f8f8"/>
<rect x="106.58" y="457.30" width="13.79" height="21.70" fill="#fddbc7"/>
<rect x="120.07" y="457.30" width="15.71" height="21.70" fill="#e0ecf3"/>
<rect x="135.49" y="457.30" width="4.15" height="21.70" fill="#eaf1f5"/>
<rect x="139.34" y="457.30" width="8.97" height="21.70" fill="#e0ecf3"/>
<rect x="146.85" y="457.30" width="12.82" height="21.70" fill="#f9f8f8"/>
<rect x="159.38" y="457.30" width="5.12" height="21.70" fill="#eaf1f5"/>
<rect x="164.19" y="457.30" width="56.18" height="21.70" fill="#fae9df"/>
<rect x="220.07" y="457.30" width="4.15" height="21.70" fill="#fddbc7"/>
<rect x="223.92" y="457.30" width="24.38" height="21.70" fill="#fae9df"/>
<rect x="246.85" y="457.30" width="4.15" height="21.70" fill="#f9f8f8"/>
<rect x="250.71" y="457.30" width="21.49" height="21.70" fill="#eaf1f5"/>
<rect x="271.90" y="457.30" width="23.42" height="21.70" fill="#eaf1f5"/>
<rect x="295.02" y="457.30" width="19.57" height="21.70" fill="#d9e9f1"/>
<rect x="314.29" y="457.30" width="13.79" height="21.70" fill="#f9f8f8"/>
<rect x="327.78" y="457.30" width="6.08" height="21.70" fill="#fae9df"/>
<rect x="333.56" y="457.30" width="14.75" height="21.70" fill="#f9f8f8"/>
<rect x="346.85" y="457.30" width="4.15" height="21.70" fill="#f9f8f8"/>
<rect x="350.71" y="457.30" width="9.93" height="21.70" fill="#d6604d"/>
<rect x="360.34" y="457.30" width="7.04" height="21.70" fill="#f4a582"/>
<rect x="367.08" y="457.30" width="3.19" height="21.70" fill="#fddbc7"/>
<rect x="369.97" y="457.30" width="9.93" height="21.70" fill="#e58268"/>
<rect x="379.61" y="457.30" width="9.93" height="21.70" fill="#f8c0a4"/>
<rect x="389.24" y="457.30" width="4.15" height="21.70" fill="#f4a582"/>
<rect x="393.10" y="457.30" width="3.19" height="21.70" fill="#f9f8f8"/>
<rect x="395.99" y="457.30" width="5.12" height="21.70" fill="#d9e9f1"/>
<rect x="400.80" y="457.30" width="11.86" height="21.70" fill="#fae9df"/>
<rect x="412.36" y="457.30" width="4.15" height="21.70" fill="#f9f8f8"/>
<rect x="416.22" y="457.30" width="29.20" height="21.70" fill="#f9f8f8"/>
<rect x="445.12" y="457.30" width="3.19" height="21.70" fill="#67001f"/>
<rect x="447.82" y="457.30" width="7.04" height="21.70" fill="#b2182b"/>
<rect x="454.56" y="457.30" width="9.93" height="21.70" fill="#fddbc7"/>
<rect x="464.19" y="457.30" width="7.04" height="21.70" fill="#f8c0a4"/>
<rect x="470.94" y="457.30" width="6.08" height="21.70" fill="#fddbc7"/>
<rect x="476.72" y="457.30" width="9.93" height="21.70" fill="#f4a582"/>
<rect x="486.35" y="457.30" width="4.15" height="21.70" fill="#f8c0a4"/>
<rect x="490.21" y="457.30" width="7.04" height="21.70" fill="#f4a582"/>
<rect x="496.95" y="457.30" width="6.08" height="21.70" fill="#fae9df"/>
<rect x="502.73" y="457.30" width="17.64" height="21.70" fill="#fddbc7"/>
<rect x="520.07" y="457.30" width="9.93" height="21.70" fill="#fae9df"/>
<rect x="529.71" y="457.30" width="18.60" height="21.70" fill="#fae9df"/>
<rect x="548.01" y="457.30" width="14.56" height="21.70" fill="#fddbc7"/>
<rect x="562.27" y="457.30" width="19.57" height="21.70" fill="#fae9df"/>
<rect x="581.54" y="457.30" width="19.57" height="21.70" fill="#fddbc7"/>
<rect x="600.80" y="457.30" width="3.19" height="21.70" fill="#f8c0a4"/>
<rect x="603.69" y="457.30" width="4.15" height="21.70" fill="#fae9df"/>
<rect x="607.55" y="457.30" width="9.93" height="21.70" fill="#f8c0a4"/>
<rect x="617.18" y="457.30" width="5.12" height="21.70" fill="#fddbc7"/>
<rect x="622.00" y="457.30" width="8.01" height="21.70" fill="#f8c0a4"/>
<rect x="629.71" y="457.30" width="7.04" height="21.70" fill="#fddbc7"/>
<rect x="636.45" y="457.30" width="4.15" height="21.70" fill="#f8c0a4"/>
<rect x="640.30" y="457.30" width="3.19" height="21.70" fill="#fae9df"/>
<rect x="643.19" y="457.30" width="7.04" height="21.70" fill="#e58268"/>
<rect x="649.94" y="457.30" width="3.19" height="21.70" fill="#c43c3c"/>
<rect x="652.83" y="457.30" width="6.08" height="21.70" fill="#f4a582"/>
<rect x="658.61" y="457.30" width="10.90" height="21.70" fill="#f4a582"/>
<rect x="44.79" y="478.70" width="7.18" height="21.40" fill="#f8c0a4"/>
<rect x="51.67" y="478.70" width="6.08" height="21.40" fill="#f9f8f8"/>
<rect x="57.45" y="478.70" width="4.15" height="21.40" fill="#fae9df"/>
<rect x="61.30" y="478.70" width="9.93" height="21.40" fill="#f9f8f8"/>
<rect x="70.94" y="478.70" width="3.19" height="21.40" fill="#fddbc7"/>
<rect x="73.83" y="478.70" width="13.79" height="21.40" fill="#eaf1f5"/>
<rect x="87.32" y="478.70" width="19.57" height="21.40" fill="#f9f8f8"/>
<rect x="106.58" y="478.70" width="7.04" height="21.40" fill="#f8c0a4"/>
<rect x="113.33" y="478.70" width="7.04" height="21.40" fill="#e58268"/>
<rect x="120.07" y="478.70" width="15.71" height="21.40" fill="#e0ecf3"/>
<rect x="135.49" y="478.70" width="4.15" height="21.40" fill="#eaf1f5"/>
<rect x="139.34" y="478.70" width="8.97" height="21.40" fill="#e0ecf3"/>
<rect x="146.85" y="478.70" width="12.82" height="21.40" fill="#f9f8f8"/>
<rect x="159.38" y="478.70" width="5.12" height="21.40" fill="#d9e9f1"/>
<rect x="164.19" y="478.70" width="27.27" height="21.40" fill="#f9f8f8"/>
<rect x="191.17" y="478.70" width="9.93" height="21.40" fill="#fae9df"/>
<rect x="200.80" y="478.70" width="3.19" height="21.40" fill="#f9f8f8"/>
<rect x="203.69" y="478.70" width="4.15" height="21.40" fill="#fddbc7"/>
<rect x="207.55" y="478.70" width="12.82" height="21.40" fill="#eaf1f5"/>
<rect x="220.07" y="478.70" width="4.15" height="21.40" fill="#f4a582"/>
<rect x="223.92" y="478.70" width="9.93" height="21.40" fill="#fae9df"/>
<rect x="233.56" y="478.70" width="14.75" height="21.40" fill="#fae9df"/>
<rect x="246.85" y="478.70" width="4.15" height="21.40" fill="#f9f8f8"/>
<rect x="250.71" y="478.70" width="21.49" height="21.40" fill="#eaf1f5"/>
<rect x="271.90" y="478.70" width="23.42" height="21.40" fill="#d9e9f1"/>
<rect x="295.02" y="478.70" width="13.79" height="21.40" fill="#d9e9f1"/>
<rect x="308.51" y="478.70" width="19.57" height="21.40" fill="#f9f8f8"/>
<rect x="327.78" y="478.70" width="6.08" height="21.40" fill="#fae9df"/>
<rect x="333.56" y="478.70" width="14.75" height="21.40" fill="#f9f8f8"/>
<rect x="346.85" y="478.70" width="4.15" height="21.40" fill="#f9f8f8"/>
<rect x="350.71" y="478.70" width="9.93" height="21.40" fill="#8c0c25"/>
<rect x="360.34" y="478.70" width="7.04" height="21.40" fill="#b2182b"/>
<rect x="367.08" y="478.70" width="3.19" height="21.40" fill="#f8c0a4"/>
<rect x="369.97" y="478.70" width="9.93" height="21.40" fill="#c43c3c"/>
<rect x="379.61" y="478.70" width="7.04" height="21.40" fill="#f4a582"/>
<rect x="386.35" y="478.70" width="7.04" height="21.40" fill="#e58268"/>
<rect x="393.10" y="478.70" width="3.19" height="21.40" fill="#f9f8f8"/>
<rect x="395.99" y="478.70" width="5.12" height="21.40" fill="#d9e9f1"/>
<rect x="400.80" y="478.70" width="11.86" height="21.40" fill="#fddbc7"/>
<rect x="412.36" y="478.70" width="4.15" height="21.40" fill="#d9e9f1"/>
<rect x="416.22" y="478.70" width="29.20" height="21.40" fill="#f9f8f8"/>
<rect x="445.12" y="478.70" width="3.19" height="21.40" fill="#67001f"/>
<rect x="447.82" y="478.70" width="7.04" height="21.40" fill="#67001f"/>
<rect x="454.56" y="478.70" width="9.93" height="21.40" fill="#fae9df"/>
<rect x="464.19" y="478.70" width="4.15" height="21.40" fill="#fddbc7"/>
<rect x="468.05" y="478.70" width="8.97" height="21.40" fill="#fddbc7"/>
<rect x="476.72" y="478.70" width="3.19" height="21.40" fill="#f8c0a4"/>
<rect x="479.61" y="478.70" width="5.12" height="21.40" fill="#e58268"/>
<rect x="484.43" y="478.70" width="4.15" height="21.40" fill="#f8c0a4"/>
<rect x="488.28" y="478.70" width="8.97" height="21.40" fill="#f4a582"/>
<rect x="496.95" y="478.70" width="6.08" height="21.40" fill="#f9f8f8"/>
<rect x="502.73" y="478.70" width="4.15" height="21.40" fill="#e58268"/>
<rect x="506.58" y="478.70" width="3.19" height="21.40" fill="#fddbc7"/>
<rect x="509.47" y="478.70" width="8.97" height="21.40" fill="#f8c0a4"/>
<rect x="518.14" y="478.70" width="8.01" height="21.40" fill="#fddbc7"/>
<rect x="525.85" y="478.70" width="7.04" height="21.40" fill="#fae9df"/>
<rect x="532.60" y="478.70" width="4.15" height="21.40" fill="#e58268"/>
<rect x="536.45" y="478.70" width="5.12" height="21.40" fill="#f9f8f8"/>
<rect x="541.27" y="478.70" width="7.04" height="21.40" fill="#fddbc7"/>
<rect x="548.01" y="478.70" width="3.00" height="21.40" fill="#fddbc7"/>
<rect x="550.71" y="478.70" width="11.86" height="21.40" fill="#f8c0a4"/>
<rect x="562.27" y="478.70" width="8.97" height="21.40" fill="#fae9df"/>
<rect x="570.94" y="478.70" width="10.90" height="21.40" fill="#fddbc7"/>
<rect x="581.54" y="478.70" width="3.19" height="21.40" fill="#f4a582"/>
<rect x="584.43" y="478.70" width="3.19" height="21.40" fill="#fddbc7"/>
<rect x="587.32" y="478.70" width="3.19" height="21.40" fill="#f4a582"/>
<rect x="590.21" y="478.70" width="4.15" height="21.40" fill="#fddbc7"/>
<rect x="594.06" y="478.70" width="7.04" height="21.40" fill="#f4a582"/>
<rect x="600.80" y="478.70" width="6.08" height="21.40" fill="#fae9df"/>
<rect x="606.58" y="478.70" width="10.90" height="21.40" fill="#e58268"/>
<rect x="617.18" y="478.70" width="5.12" height="21.40" fill="#f4a582"/>
<rect x="622.00" y="478.70" width="8.01" height="21.40" fill="#e58268"/>
<rect x="629.71" y="478.70" width="7.04" height="21.40" fill="#fae9df"/>
<rect x="636.45" y="478.70" width="4.15" height="21.40" fill="#f4a582"/>
<rect x="640.30" y="478.70" width="3.19" height="21.40" fill="#fae9df"/>
<rect x="643.19" y="478.70" width="5.12" height="21.40" fill="#8c0c25"/>
<rect x="648.01" y="478.70" width="5.12" height="21.40" fill="#67001f"/>
<rect x="652.83" y="478.70" width="6.08" height="21.40" fill="#c43c3c"/>
<rect x="658.61" y="478.70" width="10.90" height="21.40" fill="#c43c3c"/>
<rect x="44.79" y="500.40" width="4.29" height="21.70" fill="#fae9df"/>
<rect x="48.78" y="500.40" width="3.19" height="21.70" fill="#fddbc7"/>
<rect x="51.67" y="500.40" width="3.19" height="21.70" fill="#f8c0a4"/>
<rect x="54.56" y="500.40" width="4.15" height="21.70" fill="#fddbc7"/>
<rect x="58.41" y="500.40" width="3.19" height="21.70" fill="#fae9df"/>
<rect x="61.30" y="500.40" width="7.04" height="21.70" fill="#f4a582"/>
<rect x="68.05" y="500.40" width="6.08" height="21.70" fill="#e58268"/>
<rect x="73.83" y="500.40" width="13.79" height="21.70" fill="#fddbc7"/>
<rect x="87.32" y="500.40" width="13.79" height="21.70" fill="#fddbc7"/>
<rect x="100.80" y="500.40" width="12.82" height="21.70" fill="#fddbc7"/>
<rect x="113.33" y="500.40" width="7.04" height="21.70" fill="#fae9df"/>
<rect x="120.07" y="500.40" width="28.24" height="21.70" fill="#f9f8f8"/>
<rect x="146.85" y="500.40" width="10.90" height="21.70" fill="#fddbc7"/>
<rect x="157.45" y="500.40" width="20.53" height="21.70" fill="#fae9df"/>
<rect x="177.68" y="500.40" width="7.04" height="21.70" fill="#fddbc7"/>
<rect x="184.43" y="500.40" width="63.88" height="21.70" fill="#fae9df"/>
<rect x="246.85" y="500.40" width="42.69" height="21.70" fill="#f9f8f8"/>
<rect x="289.24" y="500.40" width="9.93" height="21.70" fill="#fae9df"/>
<rect x="298.88" y="500.40" width="15.71" height="21.70" fill="#f9f8f8"/>
<rect x="314.29" y="500.40" width="13.79" height="21.70" fill="#d9e9f1"/>
<rect x="327.78" y="500.40" width="6.08" height="21.70" fill="#eaf1f5"/>
<rect x="333.56" y="500.40" width="9.93" height="21.70" fill="#d9e9f1"/>
<rect x="343.19" y="500.40" width="5.12" height="21.70" fill="#f9f8f8"/>
<rect x="346.85" y="500.40" width="101.46" height="21.70" fill="#f9f8f8"/>
<rect x="447.82" y="500.40" width="16.68" height="21.70" fill="#f9f8f8"/>
<rect x="464.19" y="500.40" width="12.82" height="21.70" fill="#fae9df"/>
<rect x="476.72" y="500.40" width="14.75" height="21.70" fill="#f9f8f8"/>
<rect x="491.17" y="500.40" width="6.08" height="21.70" fill="#fae9df"/>
<rect x="496.95" y="500.40" width="51.36" height="21.70" fill="#f9f8f8"/>
<rect x="548.01" y="500.40" width="121.49" height="21.70" fill="#f9f8f8"/>
<rect x="44.79" y="521.80" width="7.18" height="21.70" fill="#8c0c25"/>
<rect x="51.67" y="521.80" width="3.19" height="21.70" fill="#b2182b"/>
<rect x="54.56" y="521.80" width="7.04" height="21.70" fill="#8c0c25"/>
<rect x="61.30" y="521.80" width="6.08" height="21.70" fill="#fae9df"/>
<rect x="67.08" y="521.80" width="4.15" height="21.70" fill="#f8c0a4"/>
<rect x="70.94" y="521.80" width="7.04" height="21.70" fill="#e58268"/>
<rect x="77.68" y="521.80" width="7.04" height="21.70" fill="#f4a582"/>
<rect x="84.43" y="521.80" width="7.04" height="21.70" fill="#e58268"/>
<rect x="91.17" y="521.80" width="9.93" height="21.70" fill="#f8c0a4"/>
<rect x="100.80" y="521.80" width="6.08" height="21.70" fill="#e58268"/>
<rect x="106.58" y="521.80" width="7.04" height="21.70" fill="#f4a582"/>
<rect x="113.33" y="521.80" width="7.04" height="21.70" fill="#fddbc7"/>
<rect x="120.07" y="521.80" width="13.79" height="21.70" fill="#fae9df"/>
<rect x="133.56" y="521.80" width="14.75" height="21.70" fill="#f9f8f8"/>
<rect x="146.85" y="521.80" width="2.23" height="21.70" fill="#fddbc7"/>
<rect x="148.78" y="521.80" width="8.97" height="21.70" fill="#fae9df"/>
<rect x="157.45" y="521.80" width="7.04" height="21.70" fill="#fddbc7"/>
<rect x="164.19" y="521.80" width="13.79" height="21.70" fill="#fddbc7"/>
<rect x="177.68" y="521.80" width="9.93" height="21.70" fill="#f8c0a4"/>
<rect x="187.32" y="521.80" width="13.79" height="21.70" fill="#fddbc7"/>
<rect x="200.80" y="521.80" width="7.04" height="21.70" fill="#f8c0a4"/>
<rect x="207.55" y="521.80" width="9.93" height="21.70" fill="#fae9df"/>
<rect x="217.18" y="521.80" width="7.04" height="21.70" fill="#f8c0a4"/>
<rect x="223.92" y="521.80" width="9.93" height="21.70" fill="#fddbc7"/>
<rect x="233.56" y="521.80" width="14.75" height="21.70" fill="#fae9df"/>
<rect x="246.85" y="521.80" width="21.49" height="21.70" fill="#f9f8f8"/>
<rect x="268.05" y="521.80" width="6.08" height="21.70" fill="#fae9df"/>
<rect x="273.83" y="521.80" width="15.71" height="21.70" fill="#f9f8f8"/>
<rect x="289.24" y="521.80" width="25.35" height="21.70" fill="#eaf1f5"/>
<rect x="314.29" y="521.80" width="13.79" height="21.70" fill="#d9e9f1"/>
<rect x="327.78" y="521.80" width="6.08" height="21.70" fill="#eaf1f5"/>
<rect x="333.56" y="521.80" width="9.93" height="21.70" fill="#d9e9f1"/>
<rect x="343.19" y="521.80" width="5.12" height="21.70" fill="#f9f8f8"/>
<rect x="346.85" y="521.80" width="8.01" height="21.70" fill="#f9f8f8"/>
<rect x="354.56" y="521.80" width="8.01" height="21.70" fill="#fae9df"/>
<rect x="362.27" y="521.80" width="5.12" height="21.70" fill="#f9f8f8"/>
<rect x="367.08" y="521.80" width="32.09" height="21.70" fill="#fae9df"/>
<rect x="398.88" y="521.80" width="29.20" height="21.70" fill="#f9f8f8"/>
<rect x="427.78" y="521.80" width="4.15" height="21.70" fill="#d9e9f1"/>
<rect x="431.63" y="521.80" width="16.68" height="21.70" fill="#f9f8f8"/>
<rect x="447.82" y="521.80" width="16.68" height="21.70" fill="#f9f8f8"/>
<rect x="464.19" y="521.80" width="12.82" height="21.70" fill="#fae9df"/>
<rect x="476.72" y="521.80" width="9.93" height="21.70" fill="#f9f8f8"/>
<rect x="486.35" y="521.80" width="4.15" height="21.70" fill="#fae9df"/>
<rect x="490.21" y="521.80" width="3.19" height="21.70" fill="#f9f8f8"/>
<rect x="493.10" y="521.80" width="3.19" height="21.70" fill="#f4a582"/>
<rect x="495.99" y="521.80" width="5.12" height="21.70" fill="#fae9df"/>
<rect x="500.80" y="521.80" width="47.51" height="21.70" fill="#f9f8f8"/>
<rect x="548.01" y="521.80" width="3.00" height="21.70" fill="#f9f8f8"/>
<rect x="550.71" y="521.80" width="11.86" height="21.70" fill="#fae9df"/>
<rect x="562.27" y="521.80" width="6.08" height="21.70" fill="#f9f8f8"/>
<rect x="568.05" y="521.80" width="4.15" height="21.70" fill="#fae9df"/>
<rect x="571.90" y="521.80" width="15.71" height="21.70" fill="#f9f8f8"/>
<rect x="587.32" y="521.80" width="8.01" height="21.70" fill="#d9e9f1"/>
<rect x="595.02" y="521.80" width="6.08" height="21.70" fill="#eaf1f5"/>
<rect x="600.80" y="521.80" width="16.68" height="21.70" fill="#f9f8f8"/>
<rect x="617.18" y="521.80" width="8.97" height="21.70" fill="#fae9df"/>
<rect x="625.85" y="521.80" width="5.12" height="21.70" fill="#f9f8f8"/>
<rect x="630.67" y="521.80" width="5.12" height="21.70" fill="#fddbc7"/>
<rect x="635.49" y="521.80" width="34.02" height="21.70" fill="#f9f8f8"/>
<rect x="44.79" y="543.20" width="16.81" height="21.40" fill="#67001f"/>
<rect x="61.30" y="543.20" width="6.08" height="21.40" fill="#fae9df"/>
<rect x="67.08" y="543.20" width="4.15" height="21.40" fill="#f4a582"/>
<rect x="70.94" y="543.20" width="4.15" height="21.40" fill="#d6604d"/>
<rect x="74.79" y="543.20" width="3.19" height="21.40" fill="#f8c0a4"/>
<rect x="77.68" y="543.20" width="3.19" height="21.40" fill="#e58268"/>
<rect x="80.57" y="543.20" width="10.90" height="21.40" fill="#c43c3c"/>
<rect x="91.17" y="543.20" width="3.19" height="21.40" fill="#e58268"/>
<rect x="94.06" y="543.20" width="6.08" height="21.40" fill="#f4a582"/>
<rect x="99.84" y="543.20" width="4.15" height="21.40" fill="#c43c3c"/>
<rect x="103.69" y="543.20" width="4.15" height="21.40" fill="#e58268"/>
<rect x="107.55" y="543.20" width="9.93" height="21.40" fill="#c43c3c"/>
<rect x="117.18" y="543.20" width="3.19" height="21.40" fill="#f8c0a4"/>
<rect x="120.07" y="543.20" width="13.79" height="21.40" fill="#fae9df"/>
<rect x="133.56" y="543.20" width="14.75" height="21.40" fill="#f9f8f8"/>
<rect x="146.85" y="543.20" width="2.23" height="21.40" fill="#fddbc7"/>
<rect x="148.78" y="543.20" width="8.97" height="21.40" fill="#fae9df"/>
<rect x="157.45" y="543.20" width="4.15" height="21.40" fill="#fddbc7"/>
<rect x="161.30" y="543.20" width="4.15" height="21.40" fill="#f8c0a4"/>
<rect x="165.16" y="543.20" width="7.04" height="21.40" fill="#fddbc7"/>
<rect x="171.90" y="543.20" width="6.08" height="21.40" fill="#f8c0a4"/>
<rect x="177.68" y="543.20" width="7.04" height="21.40" fill="#f4a582"/>
<rect x="184.43" y="543.20" width="9.93" height="21.40" fill="#fae9df"/>
<rect x="194.06" y="543.20" width="7.04" height="21.40" fill="#fddbc7"/>
<rect x="200.80" y="543.20" width="6.08" height="21.40" fill="#f8c0a4"/>
<rect x="206.58" y="543.20" width="10.90" height="21.40" fill="#fae9df"/>
<rect x="217.18" y="543.20" width="4.15" height="21.40" fill="#e58268"/>
<rect x="221.03" y="543.20" width="6.08" height="21.40" fill="#fddbc7"/>
<rect x="226.82" y="543.20" width="7.04" height="21.40" fill="#fae9df"/>
<rect x="233.56" y="543.20" width="14.75" height="21.40" fill="#fae9df"/>
<rect x="246.85" y="543.20" width="15.71" height="21.40" fill="#f9f8f8"/>
<rect x="262.27" y="543.20" width="11.86" height="21.40" fill="#fae9df"/>
<rect x="273.83" y="543.20" width="11.86" height="21.40" fill="#f9f8f8"/>
<rect x="285.39" y="543.20" width="23.42" height="21.40" fill="#eaf1f5"/>
<rect x="308.51" y="543.20" width="6.08" height="21.40" fill="#f9f8f8"/>
<rect x="314.29" y="543.20" width="13.79" height="21.40" fill="#d9e9f1"/>
<rect x="327.78" y="543.20" width="6.08" height="21.40" fill="#eaf1f5"/>
<rect x="333.56" y="543.20" width="9.93" height="21.40" fill="#d9e9f1"/>
<rect x="343.19" y="543.20" width="5.12" height="21.40" fill="#f9f8f8"/>
<rect x="346.85" y="543.20" width="13.79" height="21.40" fill="#f9f8f8"/>
<rect x="360.34" y="543.20" width="4.15" height="21.40" fill="#fae9df"/>
<rect x="364.19" y="543.20" width="3.19" height="21.40" fill="#f9f8f8"/>
<rect x="367.08" y="543.20" width="5.12" height="21.40" fill="#fddbc7"/>
<rect x="371.90" y="543.20" width="6.08" height="21.40" fill="#fae9df"/>
<rect x="377.68" y="543.20" width="21.49" height="21.40" fill="#fae9df"/>
<rect x="398.88" y="543.20" width="21.49" height="21.40" fill="#f9f8f8"/>
<rect x="420.07" y="543.20" width="8.01" height="21.40" fill="#fae9df"/>
<rect x="427.78" y="543.20" width="4.15" height="21.40" fill="#d9e9f1"/>
<rect x="431.63" y="543.20" width="9.93" height="21.40" fill="#f9f8f8"/>
<rect x="441.27" y="543.20" width="4.15" height="21.40" fill="#eaf1f5"/>
<rect x="445.12" y="543.20" width="3.19" height="21.40" fill="#f9f8f8"/>
<rect x="447.82" y="543.20" width="16.68" height="21.40" fill="#f9f8f8"/>
<rect x="464.19" y="543.20" width="12.82" height="21.40" fill="#fddbc7"/>
<rect x="476.72" y="543.20" width="9.93" height="21.40" fill="#f9f8f8"/>
<rect x="486.35" y="543.20" width="4.15" height="21.40" fill="#fae9df"/>
<rect x="490.21" y="543.20" width="3.19" height="21.40" fill="#f9f8f8"/>
<rect x="493.10" y="543.20" width="3.19" height="21.40" fill="#f8c0a4"/>
<rect x="495.99" y="543.20" width="5.12" height="21.40" fill="#fae9df"/>
<rect x="500.80" y="543.20" width="47.51" height="21.40" fill="#f9f8f8"/>
<rect x="548.01" y="543.20" width="3.00" height="21.40" fill="#f9f8f8"/>
<rect x="550.71" y="543.20" width="8.01" height="21.40" fill="#fddbc7"/>
<rect x="558.41" y="543.20" width="8.01" height="21.40" fill="#f9f8f8"/>
<rect x="566.12" y="543.20" width="6.08" height="21.40" fill="#fae9df"/>
<rect x="571.90" y="543.20" width="15.71" height="21.40" fill="#f9f8f8"/>
<rect x="587.32" y="543.20" width="13.79" height="21.40" fill="#d9e9f1"/>
<rect x="600.80" y="543.20" width="16.68" height="21.40" fill="#f9f8f8"/>
<rect x="617.18" y="543.20" width="12.82" height="21.40" fill="#fddbc7"/>
<rect x="629.71" y="543.20" width="3.19" height="21.40" fill="#f4a582"/>
<rect x="632.60" y="543.20" width="12.82" height="21.40" fill="#f9f8f8"/>
<rect x="645.12" y="543.20" width="4.15" height="21.40" fill="#fae9df"/>
<rect x="648.97" y="543.20" width="9.93" height="21.40" fill="#f9f8f8"/>
<rect x="658.61" y="543.20" width="4.15" height="21.40" fill="#fae9df"/>
<rect x="662.46" y="543.20" width="7.04" height="21.40" fill="#f9f8f8"/>
<rect x="669.3" y="370" width="3" height="196" fill="#fff"/>
<rect x="27" y="435.45" width="645" height="0.45" fill="#fff" fill-opacity="0.6"/><rect x="27" y="499.95" width="645" height="0.45" fill="#fff" fill-opacity="0.6"/>
<text transform="translate(48.6,573.1) rotate(-90)" text-anchor="end" font-family="DejaVu Sans, Liberation Sans, sans-serif" font-size="4.6" fill="#222" stroke="#222" stroke-width="0.1">BSG</text>
<text transform="translate(58.3,573.1) rotate(-90)" text-anchor="end" font-family="DejaVu Sans, Liberation Sans, sans-serif" font-size="4.6" fill="#222" stroke="#222" stroke-width="0.1">TSPAN5</text>
<text transform="translate(74.6,573.1) rotate(-90)" text-anchor="end" font-family="DejaVu Sans, Liberation Sans, sans-serif" font-size="4.6" fill="#222" stroke="#222" stroke-width="0.1">HBB</text>
<text transform="translate(90.5,573.1) rotate(-90)" text-anchor="end" font-family="DejaVu Sans, Liberation Sans, sans-serif" font-size="4.6" fill="#222" stroke="#222" stroke-width="0.1">RAB32</text>
<text transform="translate(110.5,573.1) rotate(-90)" text-anchor="end" font-family="DejaVu Sans, Liberation Sans, sans-serif" font-size="4.6" fill="#222" stroke="#222" stroke-width="0.1">GATA1</text>
<text transform="translate(130.5,573.1) rotate(-90)" text-anchor="end" font-family="DejaVu Sans, Liberation Sans, sans-serif" font-size="4.6" fill="#222" stroke="#222" stroke-width="0.1">SLC16A10</text>
<text transform="translate(136.1,573.1) rotate(-90)" text-anchor="end" font-family="DejaVu Sans, Liberation Sans, sans-serif" font-size="4.6" fill="#222" stroke="#222" stroke-width="0.1">CCDC88A</text>
<text transform="translate(140.6,573.1) rotate(-90)" text-anchor="end" font-family="DejaVu Sans, Liberation Sans, sans-serif" font-size="4.6" fill="#222" stroke="#222" stroke-width="0.1">ID2</text>
<text transform="translate(145.2,573.1) rotate(-90)" text-anchor="end" font-family="DejaVu Sans, Liberation Sans, sans-serif" font-size="4.6" fill="#222" stroke="#222" stroke-width="0.1">LRRC8D</text>
<text transform="translate(165.6,573.1) rotate(-90)" text-anchor="end" font-family="DejaVu Sans, Liberation Sans, sans-serif" font-size="4.6" fill="#222" stroke="#222" stroke-width="0.1">KLF1</text>
<text transform="translate(175.1,573.1) rotate(-90)" text-anchor="end" font-family="DejaVu Sans, Liberation Sans, sans-serif" font-size="4.6" fill="#222" stroke="#222" stroke-width="0.1">CPOX</text>
<text transform="translate(194.5,573.1) rotate(-90)" text-anchor="end" font-family="DejaVu Sans, Liberation Sans, sans-serif" font-size="4.6" fill="#222" stroke="#222" stroke-width="0.1">UROS</text>
<text transform="translate(201.0,573.1) rotate(-90)" text-anchor="end" font-family="DejaVu Sans, Liberation Sans, sans-serif" font-size="4.6" fill="#222" stroke="#222" stroke-width="0.1">SLC25A42</text>
<text transform="translate(205.4,573.1) rotate(-90)" text-anchor="end" font-family="DejaVu Sans, Liberation Sans, sans-serif" font-size="4.6" fill="#222" stroke="#222" stroke-width="0.1">HMBS</text>
<text transform="translate(219.7,573.1) rotate(-90)" text-anchor="end" font-family="DejaVu Sans, Liberation Sans, sans-serif" font-size="4.6" fill="#222" stroke="#222" stroke-width="0.1">TRIM10</text>
<text transform="translate(224.4,573.1) rotate(-90)" text-anchor="end" font-family="DejaVu Sans, Liberation Sans, sans-serif" font-size="4.6" fill="#222" stroke="#222" stroke-width="0.1">FHDC1</text>
<text transform="translate(236.1,573.1) rotate(-90)" text-anchor="end" font-family="DejaVu Sans, Liberation Sans, sans-serif" font-size="4.6" fill="#222" stroke="#222" stroke-width="0.1">SLC4A1</text>
<text transform="translate(248.9,573.1) rotate(-90)" text-anchor="end" font-family="DejaVu Sans, Liberation Sans, sans-serif" font-size="4.6" fill="#222" stroke="#222" stroke-width="0.1">SLC36A1</text>
<text transform="translate(255.2,573.1) rotate(-90)" text-anchor="end" font-family="DejaVu Sans, Liberation Sans, sans-serif" font-size="4.6" fill="#222" stroke="#222" stroke-width="0.1">RAB6B</text>
<text transform="translate(262.2,573.1) rotate(-90)" text-anchor="end" font-family="DejaVu Sans, Liberation Sans, sans-serif" font-size="4.6" fill="#222" stroke="#222" stroke-width="0.1">ANK1</text>
<text transform="translate(285.4,573.1) rotate(-90)" text-anchor="end" font-family="DejaVu Sans, Liberation Sans, sans-serif" font-size="4.6" fill="#222" stroke="#222" stroke-width="0.1">MYH10</text>
<text transform="translate(320.5,573.1) rotate(-90)" text-anchor="end" font-family="DejaVu Sans, Liberation Sans, sans-serif" font-size="4.6" fill="#222" stroke="#222" stroke-width="0.1">EPB41L2</text>
<text transform="translate(331.7,573.1) rotate(-90)" text-anchor="end" font-family="DejaVu Sans, Liberation Sans, sans-serif" font-size="4.6" fill="#222" stroke="#222" stroke-width="0.1">FOXO3</text>
<text transform="translate(341.0,573.1) rotate(-90)" text-anchor="end" font-family="DejaVu Sans, Liberation Sans, sans-serif" font-size="4.6" fill="#222" stroke="#222" stroke-width="0.1">SORBS1</text>
<text transform="translate(350.6,573.1) rotate(-90)" text-anchor="end" font-family="DejaVu Sans, Liberation Sans, sans-serif" font-size="4.6" fill="#222" stroke="#222" stroke-width="0.1">ZBTB16</text>
<text transform="translate(354.8,573.1) rotate(-90)" text-anchor="end" font-family="DejaVu Sans, Liberation Sans, sans-serif" font-size="4.6" fill="#222" stroke="#222" stroke-width="0.1">FCHO2</text>
<text transform="translate(359.5,573.1) rotate(-90)" text-anchor="end" font-family="DejaVu Sans, Liberation Sans, sans-serif" font-size="4.6" fill="#222" stroke="#222" stroke-width="0.1">RHAG</text>
<text transform="translate(366.8,573.1) rotate(-90)" text-anchor="end" font-family="DejaVu Sans, Liberation Sans, sans-serif" font-size="4.6" fill="#222" stroke="#222" stroke-width="0.1">TSPO2</text>
<text transform="translate(371.2,573.1) rotate(-90)" text-anchor="end" font-family="DejaVu Sans, Liberation Sans, sans-serif" font-size="4.6" fill="#222" stroke="#222" stroke-width="0.1">RHD</text>
<text transform="translate(379.5,573.1) rotate(-90)" text-anchor="end" font-family="DejaVu Sans, Liberation Sans, sans-serif" font-size="4.6" fill="#222" stroke="#222" stroke-width="0.1">ALAS2</text>
<text transform="translate(384.8,573.1) rotate(-90)" text-anchor="end" font-family="DejaVu Sans, Liberation Sans, sans-serif" font-size="4.6" fill="#222" stroke="#222" stroke-width="0.1">TMOD1</text>
<text transform="translate(405.9,573.1) rotate(-90)" text-anchor="end" font-family="DejaVu Sans, Liberation Sans, sans-serif" font-size="4.6" fill="#222" stroke="#222" stroke-width="0.1">RHCE</text>
<text transform="translate(412.2,573.1) rotate(-90)" text-anchor="end" font-family="DejaVu Sans, Liberation Sans, sans-serif" font-size="4.6" fill="#222" stroke="#222" stroke-width="0.1">RAPGEF2</text>
<text transform="translate(425.0,573.1) rotate(-90)" text-anchor="end" font-family="DejaVu Sans, Liberation Sans, sans-serif" font-size="4.6" fill="#222" stroke="#222" stroke-width="0.1">FECH</text>
<text transform="translate(439.0,573.1) rotate(-90)" text-anchor="end" font-family="DejaVu Sans, Liberation Sans, sans-serif" font-size="4.6" fill="#222" stroke="#222" stroke-width="0.1">ABCC5</text>
<text transform="translate(444.8,573.1) rotate(-90)" text-anchor="end" font-family="DejaVu Sans, Liberation Sans, sans-serif" font-size="4.6" fill="#222" stroke="#222" stroke-width="0.1">TESC</text>
<text transform="translate(522.6,573.1) rotate(-90)" text-anchor="end" font-family="DejaVu Sans, Liberation Sans, sans-serif" font-size="4.6" fill="#222" stroke="#222" stroke-width="0.1">TAL1</text>
<text transform="translate(561.1,573.1) rotate(-90)" text-anchor="end" font-family="DejaVu Sans, Liberation Sans, sans-serif" font-size="4.6" fill="#222" stroke="#222" stroke-width="0.1">CDC42BPA</text>
<text transform="translate(568.7,573.1) rotate(-90)" text-anchor="end" font-family="DejaVu Sans, Liberation Sans, sans-serif" font-size="4.6" fill="#222" stroke="#222" stroke-width="0.1">ZFPM1</text>
<text transform="translate(627.1,573.1) rotate(-90)" text-anchor="end" font-family="DejaVu Sans, Liberation Sans, sans-serif" font-size="4.6" fill="#222" stroke="#222" stroke-width="0.1">SLC2A1</text>
<text transform="translate(633.6,573.1) rotate(-90)" text-anchor="end" font-family="DejaVu Sans, Liberation Sans, sans-serif" font-size="4.6" fill="#222" stroke="#222" stroke-width="0.1">SLC7A5</text>
<text transform="translate(638.3,573.1) rotate(-90)" text-anchor="end" font-family="DejaVu Sans, Liberation Sans, sans-serif" font-size="4.6" fill="#222" stroke="#222" stroke-width="0.1">SP140</text>
<text transform="translate(648.6,573.1) rotate(-90)" text-anchor="end" font-family="DejaVu Sans, Liberation Sans, sans-serif" font-size="4.6" fill="#222" stroke="#222" stroke-width="0.1">ALAD</text>
<text transform="translate(655.6,573.1) rotate(-90)" text-anchor="end" font-family="DejaVu Sans, Liberation Sans, sans-serif" font-size="4.6" fill="#222" stroke="#222" stroke-width="0.1">FAM210B</text>
<path d="M131.0 566.0L128.9 571.4M134.5 566.0L134.5 571.4M138.7 566.0L138.7 571.4M141.2 566.0L143.6 571.4M199.4 566.0L199.4 571.4M203.4 566.0L203.4 571.4M218.1 566.0L218.1 571.4M349.4 566.0L349.4 571.4M353.2 566.0L353.2 571.4M355.6 566.0L358.5 571.4M365.2 566.0L365.2 571.4M368.7 566.0L368.7 571.4M379.2 566.0L379.2 571.4M381.0 566.0L383.0 571.4M632.0 566.0L632.0 571.4M634.6 566.0L636.7 571.4" stroke="#444" stroke-width="0.5" fill="none"/>
<rect x="27.4" y="608.5" width="416.1" height="74.7" rx="10.5" ry="10.5" fill="#fff" stroke="#bfbfbf" stroke-width="0.9"/>
<text x="41.2" y="620.9" font-family="Liberation Sans, Arial, Helvetica, sans-serif" font-size="6.07" fill="#111" stroke="#111" stroke-width="0.1">1.</text>
<text x="47.9" y="620.9" font-family="Liberation Sans, Arial, Helvetica, sans-serif" font-size="6.07" fill="#111" stroke="#111" stroke-width="0.1">Positive regulation of signal transduction</text>
<text x="47.9" y="628.1" font-family="Liberation Sans, Arial, Helvetica, sans-serif" font-size="6.07" fill="#111" stroke="#111" stroke-width="0.1">Protein localization to membrane</text>
<text x="47.9" y="635.3" font-family="Liberation Sans, Arial, Helvetica, sans-serif" font-size="6.07" fill="#111" stroke="#111" stroke-width="0.1">Supramolecular fiber organization</text>
<text x="41.2" y="646.0" font-family="Liberation Sans, Arial, Helvetica, sans-serif" font-size="6.07" fill="#111" stroke="#111" stroke-width="0.1">2.</text>
<text x="47.9" y="646.0" font-family="Liberation Sans, Arial, Helvetica, sans-serif" font-size="6.07" fill="#111" stroke="#111" stroke-width="0.1">Regulation of protein kinase activity</text>
<text x="47.9" y="653.4" font-family="Liberation Sans, Arial, Helvetica, sans-serif" font-size="6.07" fill="#111" stroke="#111" stroke-width="0.1">Positive regulation of cellular biosynthetic process</text>
<text x="47.9" y="660.7" font-family="Liberation Sans, Arial, Helvetica, sans-serif" font-size="6.07" fill="#111" stroke="#111" stroke-width="0.1">MAPK cascade</text>
<text x="41.2" y="671.5" font-family="Liberation Sans, Arial, Helvetica, sans-serif" font-size="6.07" fill="#111" stroke="#111" stroke-width="0.1">3.</text>
<text x="47.9" y="671.5" font-family="Liberation Sans, Arial, Helvetica, sans-serif" font-size="6.07" fill="#111" stroke="#111" stroke-width="0.1">Response to thyroid hormone</text>
<text x="186.6" y="620.9" font-family="Liberation Sans, Arial, Helvetica, sans-serif" font-size="6.07" fill="#111" stroke="#111" stroke-width="0.1">4.</text>
<text x="193.7" y="620.9" font-family="Liberation Sans, Arial, Helvetica, sans-serif" font-size="6.07" fill="#111" stroke="#111" stroke-width="0.1">Heme biosynthetic process</text>
<text x="193.7" y="628.1" font-family="Liberation Sans, Arial, Helvetica, sans-serif" font-size="6.07" fill="#111" stroke="#111" stroke-width="0.1">Organic anion transport</text>
<text x="193.7" y="635.3" font-family="Liberation Sans, Arial, Helvetica, sans-serif" font-size="6.07" fill="#111" stroke="#111" stroke-width="0.1">Import into cell</text>
<text x="186.6" y="646.0" font-family="Liberation Sans, Arial, Helvetica, sans-serif" font-size="6.07" fill="#111" stroke="#111" stroke-width="0.1">5.</text>
<text x="193.7" y="646.0" font-family="Liberation Sans, Arial, Helvetica, sans-serif" font-size="6.07" fill="#111" stroke="#111" stroke-width="0.1">No significant terms</text>
<text x="186.6" y="657.1" font-family="Liberation Sans, Arial, Helvetica, sans-serif" font-size="6.07" fill="#111" stroke="#111" stroke-width="0.1">6.</text>
<text x="193.7" y="657.1" font-family="Liberation Sans, Arial, Helvetica, sans-serif" font-size="6.07" fill="#111" stroke="#111" stroke-width="0.1">Ammonium transmembrane transport</text>
<text x="193.7" y="664.3" font-family="Liberation Sans, Arial, Helvetica, sans-serif" font-size="6.07" fill="#111" stroke="#111" stroke-width="0.1">Erythrocyte differentiation</text>
<text x="193.7" y="671.5" font-family="Liberation Sans, Arial, Helvetica, sans-serif" font-size="6.07" fill="#111" stroke="#111" stroke-width="0.1">Iron ion homeostasis</text>
<text x="298.2" y="620.9" font-family="Liberation Sans, Arial, Helvetica, sans-serif" font-size="6.07" fill="#111" stroke="#111" stroke-width="0.1">7.</text>
<text x="305.2" y="620.9" font-family="Liberation Sans, Arial, Helvetica, sans-serif" font-size="6.07" fill="#111" stroke="#111" stroke-width="0.1">N-glycan processing</text>
<text x="298.2" y="631.7" font-family="Liberation Sans, Arial, Helvetica, sans-serif" font-size="6.07" fill="#111" stroke="#111" stroke-width="0.1">8.</text>
<text x="305.2" y="631.7" font-family="Liberation Sans, Arial, Helvetica, sans-serif" font-size="6.07" fill="#111" stroke="#111" stroke-width="0.1">Cellular response to chemical stress</text>
<text x="305.2" y="638.9" font-family="Liberation Sans, Arial, Helvetica, sans-serif" font-size="6.07" fill="#111" stroke="#111" stroke-width="0.1">Negative regulation of programmed cell death</text>
<text x="298.2" y="649.9" font-family="Liberation Sans, Arial, Helvetica, sans-serif" font-size="6.07" fill="#111" stroke="#111" stroke-width="0.1">9.</text>
<text x="305.2" y="649.9" font-family="Liberation Sans, Arial, Helvetica, sans-serif" font-size="6.07" fill="#111" stroke="#111" stroke-width="0.1">Positive regulation of erythrocyte differentiation</text>
<text x="305.2" y="657.1" font-family="Liberation Sans, Arial, Helvetica, sans-serif" font-size="6.07" fill="#111" stroke="#111" stroke-width="0.1">Regulation of hemoglobin biosynthetic process</text>
<text x="305.2" y="664.3" font-family="Liberation Sans, Arial, Helvetica, sans-serif" font-size="6.07" fill="#111" stroke="#111" stroke-width="0.1">Positive regulation of myeloid cell differentiation</text>
</svg>
</body></html>
